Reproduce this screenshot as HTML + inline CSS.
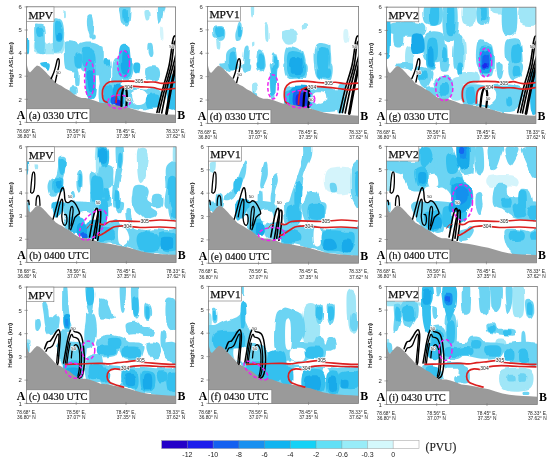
<!DOCTYPE html><html><head><meta charset="utf-8"><style>html,body{margin:0;padding:0;background:#fff;}svg{display:block;}</style></head><body>
<svg width="550" height="460" viewBox="0 0 550 460">
<defs><filter id="bl" x="-5%" y="-5%" width="110%" height="110%" color-interpolation-filters="sRGB"><feTurbulence type="fractalNoise" baseFrequency="0.09 0.035" numOctaves="2" seed="3" result="t"/><feDisplacementMap in="SourceGraphic" in2="t" scale="5" xChannelSelector="R" yChannelSelector="G" result="d"/><feGaussianBlur in="d" stdDeviation="0.5"/></filter>
<clipPath id="cp00"><rect x="26.5" y="6.9" width="149.1" height="115.5"/></clipPath>
<clipPath id="cp01"><rect x="26.9" y="146.8" width="149.2" height="115.6"/></clipPath>
<clipPath id="cp02"><rect x="26.4" y="287.1" width="149.4" height="116.3"/></clipPath>
<clipPath id="cp10"><rect x="207.5" y="6.5" width="151.1" height="116.9"/></clipPath>
<clipPath id="cp11"><rect x="208.4" y="146.5" width="150.2" height="116.7"/></clipPath>
<clipPath id="cp12"><rect x="208.4" y="286.4" width="150.2" height="117"/></clipPath>
<clipPath id="cp20"><rect x="386.5" y="7.2" width="149.4" height="116.2"/></clipPath>
<clipPath id="cp21"><rect x="386.5" y="146.4" width="149.9" height="116.4"/></clipPath>
<clipPath id="cp22"><rect x="386.4" y="286.5" width="150.9" height="118"/></clipPath>
</defs>
<rect width="550" height="460" fill="#fff"/>
<g clip-path="url(#cp00)">
<g filter="url(#bl)">
<path d="M161,28.82C161.34,27 163.16,25.86 163.73,27.45C164.3,29.05 164.75,36.55 164.41,38.36C164.07,40.18 162.25,39.95 161.68,38.36C161.11,36.77 160.66,30.64 161,28.82Z" fill="#d4f4fb"/>
<path d="M35.55,41.09C37.82,39.27 44.64,42 49.18,41.77C53.73,41.55 60.77,38.02 62.82,39.73C64.86,41.43 63.73,49.73 61.45,52C59.18,54.27 53.5,53.25 49.18,53.36C44.86,53.48 37.82,54.73 35.55,52.68C33.27,50.64 33.27,42.91 35.55,41.09Z" fill="#a0e6f7"/>
<path d="M63.5,10.41C63.77,9.39 65.16,9.39 65.55,10.41C65.93,11.43 66.09,15.52 65.82,16.55C65.55,17.57 64.3,17.57 63.91,16.55C63.52,15.52 63.23,11.43 63.5,10.41Z" fill="#a0e6f7"/>
<path d="M144.64,11.09C145.32,9.61 149.18,9.73 150.09,11.09C151,12.45 150.77,17.8 150.09,19.27C149.41,20.75 146.91,21.32 146,19.95C145.09,18.59 143.95,12.57 144.64,11.09Z" fill="#a0e6f7"/>
<path d="M99.64,47.91C100.32,46.09 103.05,47.45 103.73,49.27C104.41,51.09 104.41,57 103.73,58.82C103.05,60.64 100.32,62 99.64,60.18C98.95,58.36 98.95,49.73 99.64,47.91Z" fill="#a0e6f7"/>
<path d="M35.55,26.09C36.16,24.05 37.48,24.73 38.95,24.73C40.43,24.73 43.27,24.5 44.41,26.09C45.55,27.68 45.66,29.84 45.77,34.27C45.89,38.7 46.23,49.61 45.09,52.68C43.95,55.75 40.5,53.48 38.95,52.68C37.41,51.89 36.43,50.52 35.82,47.91C35.2,45.3 35.32,40.64 35.27,37C35.23,33.36 34.93,28.14 35.55,26.09Z" fill="#6cd4f3"/>
<path d="M53.95,19.95C54.68,17.8 56.16,18.36 57.36,18.59C58.57,18.82 60.23,19.39 61.18,21.32C62.14,23.25 62.82,27.11 63.09,30.18C63.36,33.25 63.2,36.77 62.82,39.73C62.43,42.68 61.91,45.75 60.77,47.91C59.64,50.07 57.25,52.68 56,52.68C54.75,52.68 53.77,51.43 53.27,47.91C52.77,44.39 52.89,36.2 53,31.55C53.11,26.89 53.23,22.11 53.95,19.95Z" fill="#6cd4f3"/>
<path d="M87.36,15.18C88.16,12.91 91,12.68 92.14,13.82C93.27,14.95 93.95,18.59 94.18,22C94.41,25.41 94.18,31.89 93.5,34.27C92.82,36.66 91.11,37.45 90.09,36.32C89.07,35.18 87.82,30.98 87.36,27.45C86.91,23.93 86.57,17.45 87.36,15.18Z" fill="#6cd4f3"/>
<path d="M120.09,5.64C121.57,4.05 127.93,4.05 129.64,5.64C131.34,7.23 130.43,12.23 130.32,15.18C130.2,18.14 129.75,21.66 128.95,23.36C128.16,25.07 126.68,25.41 125.55,25.41C124.41,25.41 122.93,25.07 122.14,23.36C121.34,21.66 121.11,18.14 120.77,15.18C120.43,12.23 118.61,7.23 120.09,5.64Z" fill="#6cd4f3"/>
<path d="M157.59,5.64C158.8,4.05 163.5,4.05 164.41,5.64C165.32,7.23 163.61,12.23 163.05,15.18C162.48,18.14 161.8,22.23 161,23.36C160.2,24.5 158.91,23.36 158.27,22C157.64,20.64 157.3,17.91 157.18,15.18C157.07,12.45 156.39,7.23 157.59,5.64Z" fill="#6cd4f3"/>
<path d="M148.73,43.82C149.3,42.23 151.34,42.23 152.14,43.82C152.93,45.41 153.61,51.09 153.5,53.36C153.39,55.64 152.25,57.45 151.45,57.45C150.66,57.45 149.18,55.64 148.73,53.36C148.27,51.09 148.16,45.41 148.73,43.82Z" fill="#6cd4f3"/>
<path d="M105.09,60.18C105.77,58.93 108.27,58.36 109.18,59.5C110.09,60.64 111.23,65.75 110.55,67C109.86,68.25 106,68.14 105.09,67C104.18,65.86 104.41,61.43 105.09,60.18Z" fill="#6cd4f3"/>
<path d="M94.18,63.64C95.32,62.05 101,62.05 102.36,63.64C103.73,65.23 103.5,71.59 102.36,73.18C101.23,74.77 96.91,74.77 95.55,73.18C94.18,71.59 93.05,65.23 94.18,63.64Z" fill="#6cd4f3"/>
<path d="M113.27,63.64C116.34,61.36 129.3,61.36 132.36,63.64C135.43,65.91 133.27,74.66 131.68,77.27C130.09,79.89 125.77,79.32 122.82,79.32C119.86,79.32 115.55,79.89 113.95,77.27C112.36,74.66 110.2,65.91 113.27,63.64Z" fill="#6cd4f3"/>
<path d="M99.64,63.64C101.23,60.45 107.59,60.23 109.18,63.64C110.77,67.05 110.32,80.68 109.18,84.09C108.05,87.5 103.95,84.32 102.36,84.09C100.77,83.86 100.09,86.14 99.64,82.73C99.18,79.32 98.05,66.82 99.64,63.64Z" fill="#6cd4f3"/>
<path d="M99.64,84.09C101.23,80.64 106.23,82.5 109.18,82.73C112.14,82.95 114.18,85 117.36,85.45C120.55,85.91 125.09,85 128.27,85.45C131.45,85.91 133.5,87.5 136.45,88.18C139.41,88.86 142.82,89.43 146,89.55C149.18,89.66 153.05,88.41 155.55,88.86C158.05,89.32 160.32,90.34 161,92.27C161.68,94.2 160.55,98.18 159.64,100.45C158.73,102.73 157.82,104.32 155.55,105.91C153.27,107.5 149.41,109.43 146,110C142.59,110.57 138.05,109.77 135.09,109.32C132.14,108.86 130.55,107.73 128.27,107.27C126,106.82 123.73,106.86 121.45,106.59C119.18,106.32 116.91,106.02 114.64,105.64C112.36,105.25 110.32,104.64 107.82,104.27C105.32,103.91 101,106.82 99.64,103.45C98.27,100.09 98.05,87.55 99.64,84.09Z" fill="#6cd4f3"/>
<path d="M146,67.73C147.82,65.68 156.11,65.91 158.27,67.73C160.43,69.55 160.77,76.59 158.95,78.64C157.14,80.68 149.52,81.82 147.36,80C145.2,78.18 144.18,69.77 146,67.73Z" fill="#6cd4f3"/>
<path d="M64.6,42.8C65.9,40.62 69.63,41.28 71.7,41.5C73.77,41.72 75.68,43.02 77,44.1C78.32,45.18 79.38,45.17 79.6,48C79.82,50.83 78.73,57.18 78.3,61.1C77.87,65.02 78.32,69.77 77,71.5C75.68,73.23 72.37,72.15 70.4,71.5C68.43,70.85 66.28,70.42 65.2,67.6C64.12,64.78 64,58.73 63.9,54.6C63.8,50.47 63.3,44.98 64.6,42.8Z" fill="#6cd4f3"/>
<path d="M79.6,44.1C81.77,42.13 88.92,42.15 92.6,42.8C96.28,43.45 99.85,44.95 101.7,48C103.55,51.05 103.7,56.97 103.7,61.1C103.7,65.23 103.12,70.63 101.7,72.8C100.28,74.97 97.8,74.32 95.2,74.1C92.6,73.88 88.48,72.58 86.1,71.5C83.72,70.42 81.98,70.42 80.9,67.6C79.82,64.78 79.82,58.52 79.6,54.6C79.38,50.68 77.43,46.07 79.6,44.1Z" fill="#6cd4f3"/>
<path d="M112.2,61.1C113.5,55.45 118.7,55.45 120,61.1C121.3,66.75 121.3,89.35 120,95C118.7,100.65 113.5,100.65 112.2,95C110.9,89.35 110.9,66.75 112.2,61.1Z" fill="#6cd4f3"/>
<path d="M70.4,87.2C71.5,85.9 75.9,85.9 77,87.2C78.1,88.5 78.1,93.7 77,95C75.9,96.3 71.5,96.3 70.4,95C69.3,93.7 69.3,88.5 70.4,87.2Z" fill="#6cd4f3"/>
<path d="M75.4,71C75.9,68.77 77.9,68.77 78.4,71C78.9,73.23 78.9,82.17 78.4,84.4C77.9,86.63 75.9,86.63 75.4,84.4C74.9,82.17 74.9,73.23 75.4,71Z" fill="#6cd4f3"/>
<path d="M90,35C90.87,34.35 94.33,34.35 95.2,35C96.07,35.65 96.07,38.25 95.2,38.9C94.33,39.55 90.87,39.55 90,38.9C89.13,38.25 89.13,35.65 90,35Z" fill="#6cd4f3"/>
<path d="M131.68,91.59C133.05,89.32 139.41,89.43 141.91,90.23C144.41,91.02 146.57,94.09 146.68,96.36C146.8,98.64 144.75,102.61 142.59,103.86C140.43,105.11 135.55,105.91 133.73,103.86C131.91,101.82 130.32,93.86 131.68,91.59Z" fill="#ffffff"/>
<path d="M37.59,28.82C38.39,27.68 41.3,27.23 42.36,28.14C43.43,29.05 44.23,32.8 44,34.27C43.77,35.75 42.07,36.89 41,37C39.93,37.11 38.16,36.32 37.59,34.95C37.02,33.59 36.8,29.95 37.59,28.82Z" fill="#34c0ef"/>
<path d="M55.32,22C56,19.95 58.34,20.64 59.41,22C60.48,23.36 61.43,27.23 61.73,30.18C62.02,33.14 61.86,37.8 61.18,39.73C60.5,41.66 58.61,42.68 57.64,41.77C56.66,40.86 55.7,37.57 55.32,34.27C54.93,30.98 54.64,24.05 55.32,22Z" fill="#34c0ef"/>
<path d="M26,39.73C26.34,37.34 27.7,37.45 28.05,39.73C28.39,42 28.39,50.98 28.05,53.36C27.7,55.75 26.34,56.32 26,54.05C25.66,51.77 25.66,42.11 26,39.73Z" fill="#34c0ef"/>
<path d="M123.5,11.09C124.11,9.5 126.91,9.5 127.59,11.09C128.27,12.68 128.2,19.05 127.59,20.64C126.98,22.23 124.59,22.23 123.91,20.64C123.23,19.05 122.89,12.68 123.5,11.09Z" fill="#34c0ef"/>
<path d="M120.09,46.55C121.11,44.27 123.39,43.82 124.86,43.82C126.34,43.82 128.05,44.73 128.95,46.55C129.86,48.36 130.09,51.32 130.32,54.73C130.55,58.14 132.02,64.95 130.32,67C128.61,69.05 122.02,68.59 120.09,67C118.16,65.41 118.73,60.86 118.73,57.45C118.73,54.05 119.07,48.82 120.09,46.55Z" fill="#34c0ef"/>
<path d="M39.64,63.64C41,63.07 47.7,62.5 49.18,63.64C50.66,64.77 49.18,69.55 48.5,70.45C47.82,71.36 46.34,69.66 45.09,69.09C43.84,68.52 41.91,67.95 41,67.05C40.09,66.14 38.27,64.2 39.64,63.64Z" fill="#34c0ef"/>
<path d="M117.36,63.64C119.18,61.59 127.7,61.59 129.64,63.64C131.57,65.68 130.77,73.86 128.95,75.91C127.14,77.95 120.66,77.95 118.73,75.91C116.8,73.86 115.55,65.68 117.36,63.64Z" fill="#34c0ef"/>
<path d="M104.41,86.14C105.55,83.41 110.2,84.43 111.91,85.45C113.61,86.48 114.3,89.55 114.64,92.27C114.98,95 115.55,100.23 113.95,101.82C112.36,103.41 106.68,104.43 105.09,101.82C103.5,99.2 103.27,88.86 104.41,86.14Z" fill="#34c0ef"/>
<path d="M146,96.36C148.05,94.32 156.11,93.41 158.27,95C160.43,96.59 159.86,103.64 158.95,105.91C158.05,108.18 154.98,108.41 152.82,108.64C150.66,108.86 147.14,109.32 146,107.27C144.86,105.23 143.95,98.41 146,96.36Z" fill="#34c0ef"/>
<path d="M133.73,63.64C134.64,62.05 138.95,62.05 139.86,63.64C140.77,65.23 140.09,71.59 139.18,73.18C138.27,74.77 135.32,74.77 134.41,73.18C133.5,71.59 132.82,65.23 133.73,63.64Z" fill="#34c0ef"/>
<path d="M168.5,78.64C169.86,73.86 175.89,73.86 177.36,78.64C178.84,83.41 178.73,102.5 177.36,107.27C176,112.05 170.66,112.05 169.18,107.27C167.7,102.5 167.14,83.41 168.5,78.64Z" fill="#34c0ef"/>
<path d="M75.6,54.6C76.37,52.65 79.92,52.65 80.9,54.6C81.88,56.55 82.27,64.35 81.5,66.3C80.73,68.25 77.28,68.25 76.3,66.3C75.32,64.35 74.83,56.55 75.6,54.6Z" fill="#34c0ef"/>
<path d="M82.2,49.3C83.93,46.7 91.83,47.87 93.9,50.7C95.97,53.53 96.33,63.7 94.6,66.3C92.87,68.9 85.57,69.13 83.5,66.3C81.43,63.47 80.47,51.9 82.2,49.3Z" fill="#34c0ef"/>
<path d="M86.1,61.1C87.42,55.45 93.08,55.45 94.6,61.1C96.12,66.75 96.52,89.35 95.2,95C93.88,100.65 88.22,100.65 86.7,95C85.18,89.35 84.78,66.75 86.1,61.1Z" fill="#34c0ef"/>
<path d="M104.3,59.8C105.18,58.93 108.72,58.93 109.6,59.8C110.48,60.67 110.48,64.13 109.6,65C108.72,65.87 105.18,65.87 104.3,65C103.42,64.13 103.42,60.67 104.3,59.8Z" fill="#34c0ef"/>
<path d="M56.68,33.59C57.23,32.5 59.66,32.61 60.36,33.59C61.07,34.57 61.45,38.36 60.91,39.45C60.36,40.55 57.8,41.11 57.09,40.14C56.39,39.16 56.14,34.68 56.68,33.59Z" fill="#18aaea"/>
<path d="M122.82,52C123.73,49.5 127.36,49.5 128.27,52C129.18,54.5 129.18,64.5 128.27,67C127.36,69.5 123.73,69.5 122.82,67C121.91,64.5 121.91,54.5 122.82,52Z" fill="#18aaea"/>
<path d="M120.09,63.64C121.11,62.05 126.45,62.05 127.59,63.64C128.73,65.23 127.93,71.59 126.91,73.18C125.89,74.77 122.59,74.77 121.45,73.18C120.32,71.59 119.07,65.23 120.09,63.64Z" fill="#18aaea"/>
<path d="M114.64,86.82C116,83.86 121.34,83.86 122.82,86.82C124.3,89.77 124.86,101.59 123.5,104.55C122.14,107.5 116.11,107.5 114.64,104.55C113.16,101.59 113.27,89.77 114.64,86.82Z" fill="#18aaea"/>
<path d="M88,71.5C88.77,68.45 92.42,68.45 93.3,71.5C94.18,74.55 94.07,86.75 93.3,89.8C92.53,92.85 89.58,92.85 88.7,89.8C87.82,86.75 87.23,74.55 88,71.5Z" fill="#18aaea"/>
<path d="M113,96.36C114.18,95.64 117.27,96.32 118.73,97.45C120.18,98.59 121.5,101.73 121.73,103.18C121.95,104.64 121.32,105.82 120.09,106.18C118.86,106.55 115.77,106.09 114.36,105.36C112.95,104.64 111.86,103.32 111.64,101.82C111.41,100.32 111.82,97.09 113,96.36Z" fill="#1466f0"/>
<path d="M116,100.73C116.86,99.86 120.55,99.86 121.45,100.73C122.36,101.59 122.32,105.05 121.45,105.91C120.59,106.77 117.18,106.77 116.27,105.91C115.36,105.05 115.14,101.59 116,100.73Z" fill="#1c2aec"/>
</g>
<path d="M26.5,62.66 L27.3,66.64 L28.49,71.12 L29.98,72.62 L31.97,70.62 L34.45,67.64 L36.94,65.45 L39.42,66.14 L42.4,68.63 L45.98,72.32 L47.67,74.21 L51.75,78.29 L55.13,82.37 L58.51,84.46 L61.29,85.76 L65.27,88.55 L69.34,90.54 L73.42,93.92 L77.49,96.61 L81.57,98.01 L85.64,98.01 L89.72,98.9 L95.09,100.69 L100.55,102.78 L107.31,103.48 L114.07,104.78 L120.93,106.17 L127.69,107.56 L134.45,109.56 L141.21,111.55 L147.97,112.84 L154.73,113.64 L161.58,114.14 L168.34,114.43 L175.6,114.73 L175.6,122.4 L26.5,122.4Z" fill="#9a9a9a"/>
<path d="M51.2,78.6C51.67,77.5 53.2,74.27 54,72C54.8,69.73 55.47,67 56,65C56.53,63 56.82,61.03 57.2,60C57.58,58.97 57.97,58.72 58.3,58.8C58.63,58.88 59.08,59.47 59.2,60.5C59.32,61.53 59.28,63.08 59,65C58.72,66.92 58.12,69.17 57.5,72C56.88,74.83 55.67,80.33 55.3,82" fill="none" stroke="#000" stroke-width="1.4" stroke-linecap="round" stroke-linejoin="round"/>
<path d="M121.45,105.91C121.5,104.32 121.5,98.98 121.73,96.36C121.95,93.75 122.36,91.64 122.82,90.23C123.27,88.82 123.89,88.02 124.45,87.91C125.02,87.8 125.82,88.14 126.23,89.55C126.64,90.95 126.89,93.64 126.91,96.36C126.93,99.09 126.45,104.32 126.36,105.91" fill="none" stroke="#000" stroke-width="2.2" stroke-linecap="round" stroke-linejoin="round"/>
<path d="M156.9,112.5C157.92,108.42 160.95,95.92 163,88C165.05,80.08 167.62,72.67 169.2,65C170.78,57.33 171.7,46.75 172.5,42C173.3,37.25 173.33,37.5 174,36.5C174.67,35.5 176.08,36.08 176.5,36" fill="none" stroke="#000" stroke-width="1.6" stroke-linecap="round" stroke-linejoin="round"/>
<path d="M159,112.5C160,108.42 162.97,95.92 165,88C167.03,80.08 169.7,72.33 171.2,65C172.7,57.67 173.12,48.17 174,44C174.88,39.83 176.08,40.67 176.5,40" fill="none" stroke="#000" stroke-width="1.6" stroke-linecap="round" stroke-linejoin="round"/>
<path d="M161.7,113C162.58,108.83 165.07,96 167,88C168.93,80 171.72,71 173.3,65C174.88,59 175.97,54.17 176.5,52" fill="none" stroke="#000" stroke-width="1.6" stroke-linecap="round" stroke-linejoin="round"/>
<path d="M166.5,113.5C167.25,109.25 169.33,96.58 171,88C172.67,79.42 175.58,66.33 176.5,62" fill="none" stroke="#000" stroke-width="2.8" stroke-linecap="round" stroke-linejoin="round"/>
<path d="M177.36,82.05C174.86,82.27 166,83.41 162.36,83.41C158.73,83.41 158.27,82.27 155.55,82.05C152.82,81.82 149.18,82.16 146,82.05C142.82,81.93 139.41,81.52 136.45,81.36C133.5,81.2 131.45,81.09 128.27,81.09C125.09,81.09 120.55,81.2 117.36,81.36C114.18,81.52 111.45,81.14 109.18,82.05C106.91,82.95 104.86,84.89 103.73,86.82C102.59,88.75 102.36,91.36 102.36,93.64C102.36,95.91 102.82,98.98 103.73,100.45C104.64,101.93 107.14,102.16 107.82,102.5" fill="none" stroke="#dc2020" stroke-width="1.7"/>
<path d="M177.36,88.18C174.86,88.41 166.45,89.66 162.36,89.55C158.27,89.43 156.23,87.95 152.82,87.5C149.41,87.05 145.55,87.05 141.91,86.82C138.27,86.59 134.18,86.14 131,86.14C127.82,86.14 124.86,86.25 122.82,86.82C120.77,87.39 119.75,88.18 118.73,89.55C117.7,90.91 117.14,92.73 116.68,95C116.23,97.27 116.11,101.82 116,103.18" fill="none" stroke="#dc2020" stroke-width="1.7"/>
<ellipse cx="123.5" cy="63.5" rx="6" ry="13" transform="rotate(0 123.5 63.5)" fill="none" stroke="#ee22ee" stroke-width="1.5" stroke-dasharray="3.6 2.2"/>
<ellipse cx="89.4" cy="78.6" rx="4.8" ry="18.4" transform="rotate(0 89.4 78.6)" fill="none" stroke="#ee22ee" stroke-width="1.5" stroke-dasharray="3.6 2.2"/>
<ellipse cx="119" cy="101.8" rx="11.3" ry="6.8" transform="rotate(0 119 101.8)" fill="none" stroke="#ee22ee" stroke-width="1.5" stroke-dasharray="3.6 2.2"/>
<text x="139.2" y="83.3" font-size="5" font-family="Liberation Sans, Arial, sans-serif" fill="#222" stroke="#fff" stroke-width="1.4" paint-order="stroke" text-anchor="middle">305</text>
<text x="128.3" y="89.3" font-size="5" font-family="Liberation Sans, Arial, sans-serif" fill="#222" stroke="#fff" stroke-width="1.4" paint-order="stroke" text-anchor="middle">304</text>
<text x="171.7" y="47.8" font-size="4.2" font-family="Liberation Sans, Arial, sans-serif" fill="#222" stroke="#fff" stroke-width="1.4" paint-order="stroke" text-anchor="middle">50</text>
<text x="58.3" y="74.3" font-size="4.2" font-family="Liberation Sans, Arial, sans-serif" fill="#222" stroke="#fff" stroke-width="1.4" paint-order="stroke" text-anchor="middle">50</text>
<text x="128.5" y="100.8" font-size="4.2" font-family="Liberation Sans, Arial, sans-serif" fill="#222" stroke="#fff" stroke-width="1.4" paint-order="stroke" text-anchor="middle">50</text>
</g>
<rect x="26.5" y="6.9" width="149.1" height="115.5" fill="none" stroke="#777" stroke-width="0.8"/>
<rect x="26.5" y="6.9" width="27.5" height="14.6" fill="#fff" stroke="#777" stroke-width="0.6"/>
<text x="28.4" y="18.6" font-size="11.4" font-family="Liberation Serif, Times New Roman, serif" fill="#111" stroke="#111" stroke-width="0.25">MPV</text>
<rect x="26.5" y="108.8" width="63.4" height="13.6" fill="#fff" stroke="#777" stroke-width="0.6"/>
<text x="28.8" y="118.8" font-size="10.5" font-family="Liberation Serif, Times New Roman, serif" fill="#111" stroke="#111" stroke-width="0.2">(a) 0330 UTC</text>
<text x="25.4" y="119" font-size="11.8" font-weight="bold" font-family="Liberation Serif, Times New Roman, serif" fill="#000" text-anchor="end">A</text>
<text x="177.2" y="119" font-size="11.8" font-weight="bold" font-family="Liberation Serif, Times New Roman, serif" fill="#000">B</text>
<line x1="24.5" y1="122.4" x2="28" y2="122.4" stroke="#777" stroke-width="0.6"/>
<text x="20.2" y="124.6" font-size="6" font-family="Liberation Sans, Arial, sans-serif" fill="#333" text-anchor="middle">1</text>
<line x1="24.5" y1="99.3" x2="28" y2="99.3" stroke="#777" stroke-width="0.6"/>
<text x="20.2" y="101.5" font-size="6" font-family="Liberation Sans, Arial, sans-serif" fill="#333" text-anchor="middle">2</text>
<line x1="24.5" y1="76.2" x2="28" y2="76.2" stroke="#777" stroke-width="0.6"/>
<text x="20.2" y="78.4" font-size="6" font-family="Liberation Sans, Arial, sans-serif" fill="#333" text-anchor="middle">3</text>
<line x1="24.5" y1="53.1" x2="28" y2="53.1" stroke="#777" stroke-width="0.6"/>
<text x="20.2" y="55.3" font-size="6" font-family="Liberation Sans, Arial, sans-serif" fill="#333" text-anchor="middle">4</text>
<line x1="24.5" y1="30" x2="28" y2="30" stroke="#777" stroke-width="0.6"/>
<text x="20.2" y="32.2" font-size="6" font-family="Liberation Sans, Arial, sans-serif" fill="#333" text-anchor="middle">5</text>
<line x1="24.5" y1="6.9" x2="28" y2="6.9" stroke="#777" stroke-width="0.6"/>
<text x="20.2" y="9.1" font-size="6" font-family="Liberation Sans, Arial, sans-serif" fill="#333" text-anchor="middle">6</text>
<text x="0" y="0" font-size="6.2" font-family="Liberation Sans, Arial, sans-serif" fill="#111" stroke="#111" stroke-width="0.1" text-anchor="middle" transform="translate(12.5 64.65) rotate(-90)">Height ASL (km)</text>
<text font-size="4.8" font-family="Liberation Sans, Arial, sans-serif" fill="#222" text-anchor="middle"><tspan x="26.5" y="132.6">78.68° E,</tspan><tspan x="26.5" y="137.8">36.80° N</tspan></text>
<line x1="76.2" y1="120.9" x2="76.2" y2="123.9" stroke="#777" stroke-width="0.6"/>
<text font-size="4.8" font-family="Liberation Sans, Arial, sans-serif" fill="#222" text-anchor="middle"><tspan x="76.2" y="132.6">78.56° E,</tspan><tspan x="76.2" y="137.8">37.07° N</tspan></text>
<line x1="125.9" y1="120.9" x2="125.9" y2="123.9" stroke="#777" stroke-width="0.6"/>
<text font-size="4.8" font-family="Liberation Sans, Arial, sans-serif" fill="#222" text-anchor="middle"><tspan x="125.9" y="132.6">78.45° E,</tspan><tspan x="125.9" y="137.8">37.35° N</tspan></text>
<text font-size="4.8" font-family="Liberation Sans, Arial, sans-serif" fill="#222" text-anchor="middle"><tspan x="175.6" y="132.6">78.33° E,</tspan><tspan x="175.6" y="137.8">37.62° N</tspan></text>
<g clip-path="url(#cp01)">
<g filter="url(#bl)">
<path d="M96.91,144.64C97.93,139.86 101.45,139.86 102.36,144.64C103.27,149.41 103.39,168.5 102.36,173.27C101.34,178.05 97.14,178.05 96.23,173.27C95.32,168.5 95.89,149.41 96.91,144.64Z" fill="#a0e6f7"/>
<path d="M34.86,163.73C35.2,163.05 36.57,163.05 36.91,163.73C37.25,164.41 37.25,167.14 36.91,167.82C36.57,168.5 35.2,168.5 34.86,167.82C34.52,167.14 34.52,164.41 34.86,163.73Z" fill="#a0e6f7"/>
<path d="M137.82,150.09C139.3,147.14 144.18,147.14 146,148.73C147.82,150.32 148.95,154.41 148.73,159.64C148.5,164.86 146.23,176.45 144.64,180.09C143.05,183.73 140.43,183.73 139.18,181.45C137.93,179.18 137.36,171.68 137.14,166.45C136.91,161.23 136.34,153.05 137.82,150.09Z" fill="#a0e6f7"/>
<path d="M173.27,144.64C173.95,141.45 176.68,141.45 177.36,144.64C178.05,147.82 178.05,160.55 177.36,163.73C176.68,166.91 173.95,166.91 173.27,163.73C172.59,160.55 172.59,147.82 173.27,144.64Z" fill="#a0e6f7"/>
<path d="M58.73,156.91C59.98,155.32 64.41,155.32 65.55,156.91C66.68,158.5 66,162.59 65.55,166.45C65.09,170.32 63.95,176.23 62.82,180.09C61.68,183.95 60.09,186.91 58.73,189.64C57.36,192.36 56,195.55 54.64,196.45C53.27,197.36 51.57,196.68 50.55,195.09C49.52,193.5 48.5,189.41 48.5,186.91C48.5,184.41 49.3,181.91 50.55,180.09C51.8,178.27 54.75,178.27 56,176C57.25,173.73 57.59,169.64 58.05,166.45C58.5,163.27 57.48,158.5 58.73,156.91Z" fill="#6cd4f3"/>
<path d="M77.82,171.91C78.73,170.55 81.11,169.86 81.91,171.91C82.7,173.95 82.82,180.77 82.59,184.18C82.36,187.59 81.45,191.45 80.55,192.36C79.64,193.27 77.82,191.68 77.14,189.64C76.45,187.59 76.34,183.05 76.45,180.09C76.57,177.14 76.91,173.27 77.82,171.91Z" fill="#6cd4f3"/>
<path d="M90.09,173.27C91.23,171.23 94.86,173.5 96.91,174.64C98.95,175.77 101.45,174.86 102.36,180.09C103.27,185.32 104.18,201.68 102.36,206C100.55,210.32 93.5,209.18 91.45,206C89.41,202.82 90.32,192.36 90.09,186.91C89.86,181.45 88.95,175.32 90.09,173.27Z" fill="#6cd4f3"/>
<path d="M98.27,144.64C98.95,142.59 101.68,142.59 102.36,144.64C103.05,146.68 103.05,154.86 102.36,156.91C101.68,158.95 98.95,158.95 98.27,156.91C97.59,154.86 97.59,146.68 98.27,144.64Z" fill="#6cd4f3"/>
<path d="M71,192.36C71.23,191.34 73.05,191.45 73.73,192.36C74.41,193.27 75.32,196.8 75.09,197.82C74.86,198.84 73.05,199.41 72.36,198.5C71.68,197.59 70.77,193.39 71,192.36Z" fill="#6cd4f3"/>
<path d="M99.64,166.45C101.68,163.05 109.64,164.64 111.91,166.45C114.18,168.27 113.27,173.95 113.27,177.36C113.27,180.77 114.18,185.32 111.91,186.91C109.64,188.5 101.68,190.32 99.64,186.91C97.59,183.5 97.59,169.86 99.64,166.45Z" fill="#6cd4f3"/>
<path d="M116,144.64C117.14,141 121.45,142.14 122.82,144.64C124.18,147.14 124.41,154.86 124.18,159.64C123.95,164.41 122.36,168.73 121.45,173.27C120.55,177.82 119.41,182.82 118.73,186.91C118.05,191 117.82,194.64 117.36,197.82C116.91,201 116.68,204.64 116,206C115.32,207.36 113.73,208.5 113.27,206C112.82,203.5 113.05,195.32 113.27,191C113.5,186.68 114.18,184.18 114.64,180.09C115.09,176 115.77,172.36 116,166.45C116.23,160.55 114.86,148.27 116,144.64Z" fill="#6cd4f3"/>
<path d="M135.09,185.55C137.14,184.18 142.36,184.64 144.64,185.55C146.91,186.45 148.27,188.5 148.73,191C149.18,193.5 146.68,198.05 147.36,200.55C148.05,203.05 155.09,205.09 152.82,206C150.55,206.91 137.14,208.05 133.73,206C130.32,203.95 132.14,197.14 132.36,193.73C132.59,190.32 133.05,186.91 135.09,185.55Z" fill="#6cd4f3"/>
<path d="M99.64,186.91C101.23,183.73 107.36,183.73 109.18,186.91C111,190.09 112.14,202.82 110.55,206C108.95,209.18 101.45,209.18 99.64,206C97.82,202.82 98.05,190.09 99.64,186.91Z" fill="#6cd4f3"/>
<path d="M166.45,166.45C168.27,162.59 175.55,157.14 177.36,163.73C179.18,170.32 179.41,198.95 177.36,206C175.32,213.05 166.91,209.18 165.09,206C163.27,202.82 166.23,193.5 166.45,186.91C166.68,180.32 164.64,170.32 166.45,166.45Z" fill="#6cd4f3"/>
<path d="M152.82,195.09C154.41,193.27 160.77,193.27 162.36,195.09C163.95,196.91 163.95,204.18 162.36,206C160.77,207.82 154.41,207.82 152.82,206C151.23,204.18 151.23,196.91 152.82,195.09Z" fill="#6cd4f3"/>
<path d="M64.18,202.64C68.73,201.27 86.45,201.27 91.45,202.64C96.45,204 94.18,207.64 94.18,210.82C94.18,214 93.27,218.77 91.45,221.73C89.64,224.68 85.55,226.73 83.27,228.55C81,230.36 80.55,232.41 77.82,232.64C75.09,232.86 69.18,231.27 66.91,229.91C64.64,228.55 64.18,226.5 64.18,224.45C64.18,222.41 66.91,219.91 66.91,217.64C66.91,215.36 64.64,213.32 64.18,210.82C63.73,208.32 59.64,204 64.18,202.64Z" fill="#6cd4f3"/>
<path d="M24.64,202.64C25.55,201.05 29.18,201.05 30.09,202.64C31,204.23 31,210.59 30.09,212.18C29.18,213.77 25.55,213.77 24.64,212.18C23.73,210.59 23.73,204.23 24.64,202.64Z" fill="#6cd4f3"/>
<path d="M116,202.64C116.91,201.05 121.91,201.05 122.82,202.64C123.73,204.23 122.36,210.59 121.45,212.18C120.55,213.77 118.27,213.77 117.36,212.18C116.45,210.59 115.09,204.23 116,202.64Z" fill="#6cd4f3"/>
<path d="M125.55,209.45C126.23,207.41 129.86,207.64 131,209.45C132.14,211.27 133.05,218.32 132.36,220.36C131.68,222.41 128.05,223.55 126.91,221.73C125.77,219.91 124.86,211.5 125.55,209.45Z" fill="#6cd4f3"/>
<path d="M135.09,202.64C137.14,201.27 145.77,201.73 148.73,202.64C151.68,203.55 151.23,206.5 152.82,208.09C154.41,209.68 157.82,210.59 158.27,212.18C158.73,213.77 157.36,216.5 155.55,217.64C153.73,218.77 149.64,219.45 147.36,219C145.09,218.55 143.73,216.27 141.91,214.91C140.09,213.55 137.59,212.86 136.45,210.82C135.32,208.77 133.05,204 135.09,202.64Z" fill="#6cd4f3"/>
<path d="M167.82,202.64C169.18,200.14 175.77,200.14 177.36,202.64C178.95,205.14 178.73,215.14 177.36,217.64C176,220.14 170.77,220.14 169.18,217.64C167.59,215.14 166.45,205.14 167.82,202.64Z" fill="#6cd4f3"/>
<path d="M99.64,225.82C101.23,222.41 106.45,224.23 109.18,223.09C111.91,221.95 113.95,218.77 116,219C118.05,219.23 119.41,223.09 121.45,224.45C123.5,225.82 125.77,226.5 128.27,227.18C130.77,227.86 133.5,228.09 136.45,228.55C139.41,229 142.82,229.8 146,229.91C149.18,230.02 152.14,229.23 155.55,229.23C158.95,229.23 162.82,229.57 166.45,229.91C170.09,230.25 175.55,227.18 177.36,231.27C179.18,235.36 179.64,250.59 177.36,254.45C175.09,258.32 167.36,254.68 163.73,254.45C160.09,254.23 159.18,253.43 155.55,253.09C151.91,252.75 145.55,252.98 141.91,252.41C138.27,251.84 136.45,250.59 133.73,249.68C131,248.77 128.27,247.75 125.55,246.95C122.82,246.16 120.09,245.48 117.36,244.91C114.64,244.34 112.14,243.77 109.18,243.55C106.23,243.32 101.23,246.5 99.64,243.55C98.05,240.59 98.05,229.23 99.64,225.82Z" fill="#6cd4f3"/>
<path d="M80.55,212.18C82.14,210.59 88.5,210.59 90.09,212.18C91.68,213.77 91.68,220.14 90.09,221.73C88.5,223.32 82.14,223.32 80.55,221.73C78.95,220.14 78.95,213.77 80.55,212.18Z" fill="#ffffff"/>
<path d="M118.73,227.18C119.86,225.14 123.95,227.86 125.55,229.91C127.14,231.95 128.5,236.95 128.27,239.45C128.05,241.95 125.77,244.45 124.18,244.91C122.59,245.36 119.64,245.14 118.73,242.18C117.82,239.23 117.59,229.23 118.73,227.18Z" fill="#ffffff"/>
<path d="M24.64,161C25.32,158.73 28.05,158.73 28.73,161C29.41,163.27 29.41,172.36 28.73,174.64C28.05,176.91 25.32,176.91 24.64,174.64C23.95,172.36 23.95,163.27 24.64,161Z" fill="#34c0ef"/>
<path d="M58.73,159.64C59.52,157.36 63.95,157.36 64.86,159.64C65.77,161.91 64.98,171 64.18,173.27C63.39,175.55 61,175.55 60.09,173.27C59.18,171 57.93,161.91 58.73,159.64Z" fill="#34c0ef"/>
<path d="M53.27,178.73C54.86,176.68 61.45,176.68 62.82,178.73C64.18,180.77 63.05,188.95 61.45,191C59.86,193.05 54.64,193.05 53.27,191C51.91,188.95 51.68,180.77 53.27,178.73Z" fill="#34c0ef"/>
<path d="M78.5,176C79.02,174.18 81.18,174.18 81.64,176C82.09,177.82 81.75,185.09 81.23,186.91C80.7,188.73 78.95,188.73 78.5,186.91C78.05,185.09 77.98,177.82 78.5,176Z" fill="#34c0ef"/>
<path d="M92.82,178.73C94.41,175.09 100.77,175.09 102.36,178.73C103.95,182.36 103.95,196.91 102.36,200.55C100.77,204.18 94.41,204.18 92.82,200.55C91.23,196.91 91.23,182.36 92.82,178.73Z" fill="#34c0ef"/>
<path d="M99.64,147.36C101,144.86 106.23,145.77 107.82,147.36C109.41,148.95 109.18,153.95 109.18,156.91C109.18,159.86 108.95,163.5 107.82,165.09C106.68,166.68 103.73,166.91 102.36,166.45C101,166 100.09,165.55 99.64,162.36C99.18,159.18 98.27,149.86 99.64,147.36Z" fill="#34c0ef"/>
<path d="M118.73,154.18C119.45,152.14 122.25,152.14 122.82,154.18C123.39,156.23 122.86,164.41 122.14,166.45C121.41,168.5 119.02,168.5 118.45,166.45C117.89,164.41 118,156.23 118.73,154.18Z" fill="#34c0ef"/>
<path d="M116,191C116.68,188.5 119.41,188.5 120.09,191C120.77,193.5 120.77,203.5 120.09,206C119.41,208.5 116.68,208.5 116,206C115.32,203.5 115.32,193.5 116,191Z" fill="#34c0ef"/>
<path d="M103.73,189.64C104.64,187.82 108.27,187.82 109.18,189.64C110.09,191.45 110.09,198.73 109.18,200.55C108.27,202.36 104.64,202.36 103.73,200.55C102.82,198.73 102.82,191.45 103.73,189.64Z" fill="#34c0ef"/>
<path d="M169.18,180.09C170.55,175.77 176,175.77 177.36,180.09C178.73,184.41 178.73,201.68 177.36,206C176,210.32 170.55,210.32 169.18,206C167.82,201.68 167.82,184.41 169.18,180.09Z" fill="#34c0ef"/>
<path d="M53.27,202.64C55.09,201.05 62.59,201.05 64.18,202.64C65.77,204.23 64.18,209.68 62.82,212.18C61.45,214.68 57.59,217.64 56,217.64C54.41,217.64 53.73,214.68 53.27,212.18C52.82,209.68 51.45,204.23 53.27,202.64Z" fill="#34c0ef"/>
<path d="M69.64,217.64C71.91,215.36 81,215.36 83.27,217.64C85.55,219.91 85.55,229 83.27,231.27C81,233.55 71.91,233.55 69.64,231.27C67.36,229 67.36,219.91 69.64,217.64Z" fill="#34c0ef"/>
<path d="M87.36,221.73C89.86,219 99.86,219 102.36,221.73C104.86,224.45 104.86,235.36 102.36,238.09C99.86,240.82 89.86,240.82 87.36,238.09C84.86,235.36 84.86,224.45 87.36,221.73Z" fill="#34c0ef"/>
<path d="M99.64,202.64C100.77,199.23 105.32,199.23 106.45,202.64C107.59,206.05 107.59,219.68 106.45,223.09C105.32,226.5 100.77,226.5 99.64,223.09C98.5,219.68 98.5,206.05 99.64,202.64Z" fill="#34c0ef"/>
<path d="M170.55,208.09C171.68,206.73 176.23,206.73 177.36,208.09C178.5,209.45 178.5,214.91 177.36,216.27C176.23,217.64 171.68,217.64 170.55,216.27C169.41,214.91 169.41,209.45 170.55,208.09Z" fill="#34c0ef"/>
<path d="M139.18,234C141,231.95 146,231.27 148.73,231.27C151.45,231.27 153.73,232.18 155.55,234C157.36,235.82 159.64,239.45 159.64,242.18C159.64,244.91 158.5,249 155.55,250.36C152.59,251.73 144.86,251.5 141.91,250.36C138.95,249.23 138.27,246.27 137.82,243.55C137.36,240.82 137.36,236.05 139.18,234Z" fill="#34c0ef"/>
<path d="M158.27,234C159.86,231.95 166,231.95 169.18,232.64C172.36,233.32 176,235.14 177.36,238.09C178.73,241.05 179.41,248.09 177.36,250.36C175.32,252.64 168.05,252.64 165.09,251.73C162.14,250.82 160.77,247.86 159.64,244.91C158.5,241.95 156.68,236.05 158.27,234Z" fill="#34c0ef"/>
<path d="M99.64,228.55C101.23,226.27 106.68,226.73 109.18,227.18C111.68,227.64 113.95,229.23 114.64,231.27C115.32,233.32 114.64,237.75 113.27,239.45C111.91,241.16 108.73,241.27 106.45,241.5C104.18,241.73 100.77,242.98 99.64,240.82C98.5,238.66 98.05,230.82 99.64,228.55Z" fill="#34c0ef"/>
<path d="M56,180.77C56.82,179.75 60.39,179.75 61.18,180.77C61.98,181.8 61.59,185.89 60.77,186.91C59.95,187.93 57.07,187.93 56.27,186.91C55.48,185.89 55.18,181.8 56,180.77Z" fill="#18aaea"/>
<path d="M99.64,148.73C100.77,146.45 105.32,146.45 106.45,148.73C107.59,151 107.59,160.09 106.45,162.36C105.32,164.64 100.77,164.64 99.64,162.36C98.5,160.09 98.5,151 99.64,148.73Z" fill="#18aaea"/>
<path d="M77.82,224.45C79.18,222.64 84.64,222.64 86,224.45C87.36,226.27 87.36,233.55 86,235.36C84.64,237.18 79.18,237.18 77.82,235.36C76.45,233.55 76.45,226.27 77.82,224.45Z" fill="#18aaea"/>
<path d="M161,238.09C162.82,236.27 170.09,236.27 171.91,238.09C173.73,239.91 173.73,247.18 171.91,249C170.09,250.82 162.82,250.82 161,249C159.18,247.18 159.18,239.91 161,238.09Z" fill="#18aaea"/>
<path d="M80.55,233.32C81.23,232.3 84.86,231.84 86,232.64C87.14,233.43 88.05,237.07 87.36,238.09C86.68,239.11 83.05,239.57 81.91,238.77C80.77,237.98 79.86,234.34 80.55,233.32Z" fill="#1466f0"/>
</g>
<path d="M26.9,202.61 L27.7,206.59 L28.89,211.08 L30.38,212.57 L32.37,210.58 L34.86,207.59 L37.34,205.4 L39.83,206.09 L42.81,208.59 L46.4,212.27 L48.09,214.17 L52.16,218.25 L55.55,222.34 L58.93,224.43 L61.71,225.73 L65.69,228.52 L69.77,230.51 L73.85,233.9 L77.93,236.59 L82,237.98 L86.08,237.98 L90.16,238.88 L95.53,240.68 L101,242.77 L107.77,243.47 L114.53,244.76 L121.39,246.16 L128.16,247.55 L134.92,249.54 L141.68,251.54 L148.45,252.83 L155.21,253.63 L162.08,254.13 L168.84,254.43 L176.1,254.73 L176.1,262.4 L26.9,262.4Z" fill="#9a9a9a"/>
<path d="M30.6,192.4C30.72,190.88 31,186.35 31.3,183.3C31.6,180.25 32.02,176 32.4,174.1C32.78,172.2 33.22,171.9 33.6,171.9C33.98,171.9 34.5,172.2 34.7,174.1C34.9,176 34.93,180.5 34.8,183.3C34.67,186.1 34.35,189.25 33.9,190.9C33.45,192.55 32.65,192.95 32.1,193.2C31.55,193.45 30.85,192.53 30.6,192.4" fill="none" stroke="#000" stroke-width="1.3" stroke-linecap="round" stroke-linejoin="round"/>
<path d="M35.9,205.4C35.98,204.25 36.07,200.15 36.4,198.5C36.73,196.85 37.4,195.63 37.9,195.5C38.4,195.37 39.05,196.05 39.4,197.7C39.75,199.35 39.9,204.12 40,205.4" fill="none" stroke="#000" stroke-width="1.3" stroke-linecap="round" stroke-linejoin="round"/>
<path d="M27.5,201C27.68,200.92 28.32,199.9 28.6,200.5C28.88,201.1 29.1,203.92 29.2,204.6" fill="none" stroke="#000" stroke-width="1.3" stroke-linecap="round" stroke-linejoin="round"/>
<path d="M53.1,219.1C53.48,217.7 54.63,213.5 55.4,210.7C56.17,207.9 56.93,205.1 57.7,202.3C58.47,199.5 59.32,196.18 60,193.9C60.68,191.62 61.23,189.57 61.8,188.6C62.37,187.63 62.98,187.47 63.4,188.1C63.82,188.73 64.05,190.53 64.3,192.4C64.55,194.27 64.55,197.65 64.9,199.3C65.25,200.95 65.7,201.8 66.4,202.3C67.1,202.8 68.27,202.55 69.1,202.3C69.93,202.05 70.43,200.67 71.4,200.8C72.37,200.93 73.75,201.7 74.9,203.1C76.05,204.5 77.53,207.48 78.3,209.2C79.07,210.92 79.68,212.38 79.5,213.4C79.32,214.42 77.97,214.62 77.2,215.3C76.43,215.98 75.62,216.12 74.9,217.5C74.18,218.88 73.6,221.57 72.9,223.6C72.2,225.63 71.07,228.68 70.7,229.7" fill="none" stroke="#000" stroke-width="1.4" stroke-linecap="round" stroke-linejoin="round"/>
<path d="M57,216.8C57.37,215.02 58.45,209.02 59.2,206.1C59.95,203.18 60.92,200.07 61.5,199.3C62.08,198.53 62.57,199.6 62.7,201.5C62.83,203.4 62.45,208.15 62.3,210.7C62.15,213.25 61.68,214.65 61.8,216.8C61.92,218.95 62.42,222.2 63,223.6C63.58,225 64.65,225.58 65.3,225.2C65.95,224.82 66.72,222.95 66.9,221.3C67.08,219.65 66.78,216.43 66.4,215.3C66.02,214.17 64.9,214.63 64.6,214.5" fill="none" stroke="#000" stroke-width="1.3" stroke-linecap="round" stroke-linejoin="round"/>
<path d="M69.1,229C69.18,226.97 69.33,220.23 69.6,216.8C69.87,213.37 70.27,210.13 70.7,208.4C71.13,206.67 71.8,206.15 72.2,206.4C72.6,206.65 73.1,207.92 73.1,209.9C73.1,211.88 72.55,215.63 72.2,218.3C71.85,220.97 71.2,224.63 71,225.9" fill="none" stroke="#000" stroke-width="1.3" stroke-linecap="round" stroke-linejoin="round"/>
<path d="M89.6,237C89.92,235.27 90.85,230.08 91.5,226.6C92.15,223.12 92.83,218.93 93.5,216.1C94.17,213.27 94.85,210.8 95.5,209.6C96.15,208.4 96.97,207.82 97.4,208.9C97.83,209.98 98.2,212.93 98.1,216.1C98,219.27 97.23,224.2 96.8,227.9C96.37,231.6 95.72,236.57 95.5,238.3" fill="none" stroke="#000" stroke-width="1.6" stroke-linecap="round" stroke-linejoin="round"/>
<path d="M92.8,240.3C93.13,238.45 94.13,232.8 94.8,229.2C95.47,225.6 96.15,221.75 96.8,218.7C97.45,215.65 98.05,212.1 98.7,210.9C99.35,209.7 100.43,209.55 100.7,211.5C100.97,213.45 100.58,219 100.3,222.6C100.02,226.2 99.43,230.15 99,233.1C98.57,236.05 97.92,239.1 97.7,240.3" fill="none" stroke="#000" stroke-width="1.6" stroke-linecap="round" stroke-linejoin="round"/>
<path d="M176.5,221C173.75,220.83 166.08,219.92 160,220C153.92,220.08 146.67,221.37 140,221.5C133.33,221.63 125,220.8 120,220.8C115,220.8 112.47,220.93 110,221.5C107.53,222.07 106.65,223.72 105.2,224.2C103.75,224.68 102.27,224.55 101.3,224.4C100.33,224.25 99.72,223.48 99.4,223.3" fill="none" stroke="#dc2020" stroke-width="1.7"/>
<path d="M176.5,228C173.75,227.83 166.08,227.08 160,227C153.92,226.92 145.83,227.67 140,227.5C134.17,227.33 129,226.17 125,226C121,225.83 118.2,226.18 116,226.5C113.8,226.82 113.8,226.8 111.8,227.9C109.8,229 105.85,231.92 104,233.1C102.15,234.28 101.7,234.68 100.7,235C99.7,235.32 98.45,235 98,235" fill="none" stroke="#dc2020" stroke-width="1.7"/>
<path d="M87,228.5C87.43,227.92 88.63,225.65 89.6,225C90.57,224.35 92.27,224.67 92.8,224.6" fill="none" stroke="#dc2020" stroke-width="1"/>
<ellipse cx="93" cy="225" rx="18" ry="9.5" transform="rotate(-50 93 225)" fill="none" stroke="#ee22ee" stroke-width="1.5" stroke-dasharray="3.6 2.2"/>
<text x="144.6" y="223.3" font-size="5" font-family="Liberation Sans, Arial, sans-serif" fill="#222" stroke="#fff" stroke-width="1.4" paint-order="stroke" text-anchor="middle">305</text>
<text x="127.6" y="228.3" font-size="5" font-family="Liberation Sans, Arial, sans-serif" fill="#222" stroke="#fff" stroke-width="1.4" paint-order="stroke" text-anchor="middle">304</text>
<text x="98" y="204.3" font-size="4.2" font-family="Liberation Sans, Arial, sans-serif" fill="#222" stroke="#fff" stroke-width="1.4" paint-order="stroke" text-anchor="middle">50</text>
<text x="70" y="197.8" font-size="4.2" font-family="Liberation Sans, Arial, sans-serif" fill="#222" stroke="#fff" stroke-width="1.4" paint-order="stroke" text-anchor="middle">50</text>
</g>
<rect x="26.9" y="146.8" width="149.2" height="115.6" fill="none" stroke="#777" stroke-width="0.8"/>
<rect x="26.9" y="146.8" width="27.5" height="14.6" fill="#fff" stroke="#777" stroke-width="0.6"/>
<text x="28.8" y="158.5" font-size="11.4" font-family="Liberation Serif, Times New Roman, serif" fill="#111" stroke="#111" stroke-width="0.25">MPV</text>
<rect x="26.9" y="248.8" width="63.4" height="13.6" fill="#fff" stroke="#777" stroke-width="0.6"/>
<text x="29.2" y="258.8" font-size="10.5" font-family="Liberation Serif, Times New Roman, serif" fill="#111" stroke="#111" stroke-width="0.2">(b) 0400 UTC</text>
<text x="25.8" y="259" font-size="11.8" font-weight="bold" font-family="Liberation Serif, Times New Roman, serif" fill="#000" text-anchor="end">A</text>
<text x="177.7" y="259" font-size="11.8" font-weight="bold" font-family="Liberation Serif, Times New Roman, serif" fill="#000">B</text>
<line x1="24.9" y1="262.4" x2="28.4" y2="262.4" stroke="#777" stroke-width="0.6"/>
<text x="20.6" y="264.6" font-size="6" font-family="Liberation Sans, Arial, sans-serif" fill="#333" text-anchor="middle">1</text>
<line x1="24.9" y1="239.28" x2="28.4" y2="239.28" stroke="#777" stroke-width="0.6"/>
<text x="20.6" y="241.48" font-size="6" font-family="Liberation Sans, Arial, sans-serif" fill="#333" text-anchor="middle">2</text>
<line x1="24.9" y1="216.16" x2="28.4" y2="216.16" stroke="#777" stroke-width="0.6"/>
<text x="20.6" y="218.36" font-size="6" font-family="Liberation Sans, Arial, sans-serif" fill="#333" text-anchor="middle">3</text>
<line x1="24.9" y1="193.04" x2="28.4" y2="193.04" stroke="#777" stroke-width="0.6"/>
<text x="20.6" y="195.24" font-size="6" font-family="Liberation Sans, Arial, sans-serif" fill="#333" text-anchor="middle">4</text>
<line x1="24.9" y1="169.92" x2="28.4" y2="169.92" stroke="#777" stroke-width="0.6"/>
<text x="20.6" y="172.12" font-size="6" font-family="Liberation Sans, Arial, sans-serif" fill="#333" text-anchor="middle">5</text>
<line x1="24.9" y1="146.8" x2="28.4" y2="146.8" stroke="#777" stroke-width="0.6"/>
<text x="20.6" y="149" font-size="6" font-family="Liberation Sans, Arial, sans-serif" fill="#333" text-anchor="middle">6</text>
<text x="0" y="0" font-size="6.2" font-family="Liberation Sans, Arial, sans-serif" fill="#111" stroke="#111" stroke-width="0.1" text-anchor="middle" transform="translate(12.9 204.6) rotate(-90)">Height ASL (km)</text>
<text font-size="4.8" font-family="Liberation Sans, Arial, sans-serif" fill="#222" text-anchor="middle"><tspan x="26.9" y="272.6">78.68° E,</tspan><tspan x="26.9" y="277.8">36.80° N</tspan></text>
<line x1="76.63" y1="260.9" x2="76.63" y2="263.9" stroke="#777" stroke-width="0.6"/>
<text font-size="4.8" font-family="Liberation Sans, Arial, sans-serif" fill="#222" text-anchor="middle"><tspan x="76.63" y="272.6">78.56° E,</tspan><tspan x="76.63" y="277.8">37.07° N</tspan></text>
<line x1="126.37" y1="260.9" x2="126.37" y2="263.9" stroke="#777" stroke-width="0.6"/>
<text font-size="4.8" font-family="Liberation Sans, Arial, sans-serif" fill="#222" text-anchor="middle"><tspan x="126.37" y="272.6">78.45° E,</tspan><tspan x="126.37" y="277.8">37.35° N</tspan></text>
<text font-size="4.8" font-family="Liberation Sans, Arial, sans-serif" fill="#222" text-anchor="middle"><tspan x="176.1" y="272.6">78.33° E,</tspan><tspan x="176.1" y="277.8">37.62° N</tspan></text>
<g clip-path="url(#cp02)">
<g filter="url(#bl)">
<path d="M24.64,338.82C25.55,337.91 29.18,337.91 30.09,338.82C31,339.73 31,343.36 30.09,344.27C29.18,345.18 25.55,345.18 24.64,344.27C23.73,343.36 23.73,339.73 24.64,338.82Z" fill="#a0e6f7"/>
<path d="M42.36,302C42.82,299.95 45.32,300.64 46.45,302C47.59,303.36 48.5,307.45 49.18,310.18C49.86,312.91 49.41,317.68 50.55,318.36C51.68,319.05 54.64,314.27 56,314.27C57.36,314.27 58.5,316.09 58.73,318.36C58.95,320.64 58.27,325.41 57.36,327.91C56.45,330.41 54.86,332.45 53.27,333.36C51.68,334.27 49.18,334.73 47.82,333.36C46.45,332 45.77,328.36 45.09,325.18C44.41,322 44.18,318.14 43.73,314.27C43.27,310.41 41.91,304.05 42.36,302Z" fill="#6cd4f3"/>
<path d="M62.82,285.64C63.61,284.05 66,283.14 66.91,285.64C67.82,288.14 67.82,295.86 68.27,300.64C68.73,305.41 68.95,310.18 69.64,314.27C70.32,318.36 72.14,322.23 72.36,325.18C72.59,328.14 72.14,330.86 71,332C69.86,333.14 66.91,333.82 65.55,332C64.18,330.18 63.39,325.18 62.82,321.09C62.25,317 62.25,311.77 62.14,307.45C62.02,303.14 62.02,298.82 62.14,295.18C62.25,291.55 62.02,287.23 62.82,285.64Z" fill="#6cd4f3"/>
<path d="M35.55,319.73C36.23,317.91 38.73,317.45 39.64,318.36C40.55,319.27 41.23,323.14 41,325.18C40.77,327.23 39.18,329.95 38.27,330.64C37.36,331.32 36,331.09 35.55,329.27C35.09,327.45 34.86,321.55 35.55,319.73Z" fill="#6cd4f3"/>
<path d="M84.64,285.64C85.77,282.68 91.23,283.14 92.82,285.64C94.41,288.14 94.18,296.32 94.18,300.64C94.18,304.95 93.73,309.5 92.82,311.55C91.91,313.59 89.86,314.27 88.73,312.91C87.59,311.55 86.68,307.91 86,303.36C85.32,298.82 83.5,288.59 84.64,285.64Z" fill="#6cd4f3"/>
<path d="M86,314.27C87.59,312.91 92.36,312 94.18,314.27C96,316.55 96.68,323.36 96.91,327.91C97.14,332.45 96.45,338.36 95.55,341.55C94.64,344.73 93.27,346.09 91.45,347C89.64,347.91 86,349.05 84.64,347C83.27,344.95 83.27,338.82 83.27,334.73C83.27,330.64 84.18,325.86 84.64,322.45C85.09,319.05 84.41,315.64 86,314.27Z" fill="#6cd4f3"/>
<path d="M87.36,322.45C88.5,319.27 93.05,319.27 94.18,322.45C95.32,325.64 95.32,338.36 94.18,341.55C93.05,344.73 88.5,344.73 87.36,341.55C86.23,338.36 86.23,325.64 87.36,322.45Z" fill="#6cd4f3"/>
<path d="M60.09,332C61.23,329.5 65.77,329.5 66.91,332C68.05,334.5 68.05,344.5 66.91,347C65.77,349.5 61.23,349.5 60.09,347C58.95,344.5 58.95,334.5 60.09,332Z" fill="#6cd4f3"/>
<path d="M99.64,300.64C100.55,297.68 103.5,298.36 105.09,299.27C106.68,300.18 108.05,303.59 109.18,306.09C110.32,308.59 110.77,312.23 111.91,314.27C113.05,316.32 116,317.45 116,318.36C116,319.27 113.73,319.73 111.91,319.73C110.09,319.73 107.14,318.82 105.09,318.36C103.05,317.91 100.55,319.95 99.64,317C98.73,314.05 98.73,303.59 99.64,300.64Z" fill="#6cd4f3"/>
<path d="M99.64,306.09C101,304.27 106.23,304.27 107.82,306.09C109.41,307.91 110.55,315.18 109.18,317C107.82,318.82 101.23,318.82 99.64,317C98.05,315.18 98.27,307.91 99.64,306.09Z" fill="#6cd4f3"/>
<path d="M120.09,285.64C121,283.14 124.64,283.14 125.55,285.64C126.45,288.14 125.77,296.32 125.55,300.64C125.32,304.95 124.86,309.73 124.18,311.55C123.5,313.36 122.14,313.36 121.45,311.55C120.77,309.73 120.32,304.95 120.09,300.64C119.86,296.32 119.18,288.14 120.09,285.64Z" fill="#6cd4f3"/>
<path d="M132.36,285.64C133.27,282.68 136.8,283.14 137.82,285.64C138.84,288.14 138.27,296.32 138.5,300.64C138.73,304.95 139.52,308.59 139.18,311.55C138.84,314.5 137.36,317.68 136.45,318.36C135.55,319.05 134.41,318.14 133.73,315.64C133.05,313.14 132.59,308.36 132.36,303.36C132.14,298.36 131.45,288.59 132.36,285.64Z" fill="#6cd4f3"/>
<path d="M144.64,304.73C145.55,302.68 148.84,303.36 150.09,304.73C151.34,306.09 152.36,310.41 152.14,312.91C151.91,315.41 149.98,319.05 148.73,319.73C147.48,320.41 145.32,319.5 144.64,317C143.95,314.5 143.73,306.77 144.64,304.73Z" fill="#6cd4f3"/>
<path d="M166.45,300.64C167.7,297.68 171.45,298.14 173.27,299.27C175.09,300.41 176.68,302.68 177.36,307.45C178.05,312.23 178.73,324.5 177.36,327.91C176,331.32 171.11,329.73 169.18,327.91C167.25,326.09 166.23,321.55 165.77,317C165.32,312.45 165.2,303.59 166.45,300.64Z" fill="#6cd4f3"/>
<path d="M167.82,304.73C168.84,301.32 173.5,301.32 174.64,304.73C175.77,308.14 175.66,321.77 174.64,325.18C173.61,328.59 169.64,328.59 168.5,325.18C167.36,321.77 166.8,308.14 167.82,304.73Z" fill="#6cd4f3"/>
<path d="M125.55,322.45C127.25,321.32 132.36,320.41 135.09,321.09C137.82,321.77 138.95,325.41 141.91,326.55C144.86,327.68 150.77,326.55 152.82,327.91C154.86,329.27 155.32,333.36 154.18,334.73C153.05,336.09 149.18,336.32 146,336.09C142.82,335.86 138.27,333.82 135.09,333.36C131.91,332.91 128.61,334.27 126.91,333.36C125.2,332.45 125.09,329.73 124.86,327.91C124.64,326.09 123.84,323.59 125.55,322.45Z" fill="#6cd4f3"/>
<path d="M128.27,325.18C129.41,324.05 133.95,324.05 135.09,325.18C136.23,326.32 136.23,330.86 135.09,332C133.95,333.14 129.41,333.14 128.27,332C127.14,330.86 127.14,326.32 128.27,325.18Z" fill="#6cd4f3"/>
<path d="M141.91,328.59C143.5,327.57 149.86,327.57 151.45,328.59C153.05,329.61 153.05,333.7 151.45,334.73C149.86,335.75 143.5,335.75 141.91,334.73C140.32,333.7 140.32,329.61 141.91,328.59Z" fill="#6cd4f3"/>
<path d="M99.64,337.45C101.23,335.41 106.23,334.95 109.18,334.73C112.14,334.5 114.86,335.41 117.36,336.09C119.86,336.77 121.91,337 124.18,338.82C126.45,340.64 135.09,345.64 131,347C126.91,348.36 104.86,348.59 99.64,347C94.41,345.41 98.05,339.5 99.64,337.45Z" fill="#6cd4f3"/>
<path d="M161,332C161.68,329.5 164.41,329.5 165.09,332C165.77,334.5 165.77,344.5 165.09,347C164.41,349.5 161.68,349.5 161,347C160.32,344.5 160.32,334.5 161,332Z" fill="#6cd4f3"/>
<path d="M57.36,343.64C61.23,340.68 78.73,341.14 83.27,343.64C87.82,346.14 84.64,353.18 84.64,358.64C84.64,364.09 84.41,372.95 83.27,376.36C82.14,379.77 79.86,379.32 77.82,379.09C75.77,378.86 73.27,376.59 71,375C68.73,373.41 66,371.82 64.18,369.55C62.36,367.27 61.23,365.68 60.09,361.36C58.95,357.05 53.5,346.59 57.36,343.64Z" fill="#6cd4f3"/>
<path d="M86,358.64C88.5,354.55 99.64,352.27 102.36,355.91C105.09,359.55 104.86,376.36 102.36,380.45C99.86,384.55 90.09,384.09 87.36,380.45C84.64,376.82 83.5,362.73 86,358.64Z" fill="#6cd4f3"/>
<path d="M24.64,343.64C25.55,342.05 29.18,342.05 30.09,343.64C31,345.23 31,351.59 30.09,353.18C29.18,354.77 25.55,354.77 24.64,353.18C23.73,351.59 23.73,345.23 24.64,343.64Z" fill="#6cd4f3"/>
<path d="M99.64,343.64C102.59,341.59 114.18,342.27 117.36,343.64C120.55,345 119.18,349.77 118.73,351.82C118.27,353.86 116.91,355 114.64,355.91C112.36,356.82 107.59,357.27 105.09,357.27C102.59,357.27 100.55,358.18 99.64,355.91C98.73,353.64 96.68,345.68 99.64,343.64Z" fill="#6cd4f3"/>
<path d="M121.45,343.64C124.64,341.59 138.5,342.05 141.91,343.64C145.32,345.23 142.59,350.45 141.91,353.18C141.23,355.91 140.09,358.86 137.82,360C135.55,361.14 130.77,360.68 128.27,360C125.77,359.32 123.95,358.64 122.82,355.91C121.68,353.18 118.27,345.68 121.45,343.64Z" fill="#6cd4f3"/>
<path d="M146,343.64C147.82,342.05 155.77,342.05 158.27,343.64C160.77,345.23 161.23,350.45 161,353.18C160.77,355.91 158.5,359.09 156.91,360C155.32,360.91 153.05,359.77 151.45,358.64C149.86,357.5 148.27,355.68 147.36,353.18C146.45,350.68 144.18,345.23 146,343.64Z" fill="#6cd4f3"/>
<path d="M162.36,343.64C164.64,342.05 174.86,340.45 177.36,343.64C179.86,346.82 179.18,360 177.36,362.73C175.55,365.45 168.73,361.59 166.45,360C164.18,358.41 164.41,355.91 163.73,353.18C163.05,350.45 160.09,345.23 162.36,343.64Z" fill="#6cd4f3"/>
<path d="M99.64,365.45C102.14,362.39 109.86,365.23 114.64,365.45C119.41,365.68 123.73,366.59 128.27,366.82C132.82,367.05 137.36,366.59 141.91,366.82C146.45,367.05 151,367.95 155.55,368.18C160.09,368.41 165.55,368.18 169.18,368.18C172.82,368.18 176,363.64 177.36,368.18C178.73,372.73 180.32,390.91 177.36,395.45C174.41,400 164.18,395.68 159.64,395.45C155.09,395.23 153.05,394.55 150.09,394.09C147.14,393.64 144.64,393.3 141.91,392.73C139.18,392.16 136.45,391.48 133.73,390.68C131,389.89 128.27,388.75 125.55,387.95C122.82,387.16 120.09,386.48 117.36,385.91C114.64,385.34 112.14,384.89 109.18,384.55C106.23,384.2 101.23,387.05 99.64,383.86C98.05,380.68 97.14,368.52 99.64,365.45Z" fill="#6cd4f3"/>
<path d="M109.18,370.91C111,368.86 118.05,368.18 120.09,369.55C122.14,370.91 121.91,376.36 121.45,379.09C121,381.82 119.41,385.45 117.36,385.91C115.32,386.36 110.55,384.32 109.18,381.82C107.82,379.32 107.36,372.95 109.18,370.91Z" fill="#ffffff"/>
<path d="M86,287C87.37,284.27 92.83,284.27 94.2,287C95.57,289.73 95.57,300.67 94.2,303.4C92.83,306.13 87.37,306.13 86,303.4C84.63,300.67 84.63,289.73 86,287Z" fill="#34c0ef"/>
<path d="M133.45,299.27C134.18,296.77 137.32,296.77 138.09,299.27C138.86,301.77 138.82,311.77 138.09,314.27C137.36,316.77 134.5,316.77 133.73,314.27C132.95,311.77 132.73,301.77 133.45,299.27Z" fill="#34c0ef"/>
<path d="M145.73,307.45C146.41,305.86 149.36,305.86 150.09,307.45C150.82,309.05 150.77,315.41 150.09,317C149.41,318.59 146.73,318.59 146,317C145.27,315.41 145.05,309.05 145.73,307.45Z" fill="#34c0ef"/>
<path d="M109.18,338.82C111,337.45 118.27,337.45 120.09,338.82C121.91,340.18 121.91,345.64 120.09,347C118.27,348.36 111,348.36 109.18,347C107.36,345.64 107.36,340.18 109.18,338.82Z" fill="#34c0ef"/>
<path d="M64.18,362.73C66.91,361.14 77.82,360.23 80.55,362.73C83.27,365.23 83.27,376.14 80.55,377.73C77.82,379.32 66.91,374.77 64.18,372.27C61.45,369.77 61.45,364.32 64.18,362.73Z" fill="#34c0ef"/>
<path d="M90.09,365.45C92.14,363.41 100.32,363.41 102.36,365.45C104.41,367.5 104.41,375.68 102.36,377.73C100.32,379.77 92.14,379.77 90.09,377.73C88.05,375.68 88.05,367.5 90.09,365.45Z" fill="#34c0ef"/>
<path d="M99.64,346.36C102.14,345 112.14,345 114.64,346.36C117.14,347.73 117.14,353.18 114.64,354.55C112.14,355.91 102.14,355.91 99.64,354.55C97.14,353.18 97.14,347.73 99.64,346.36Z" fill="#34c0ef"/>
<path d="M124.18,347.73C126.68,346.14 136.68,346.14 139.18,347.73C141.68,349.32 141.68,355.68 139.18,357.27C136.68,358.86 126.68,358.86 124.18,357.27C121.68,355.68 121.68,349.32 124.18,347.73Z" fill="#34c0ef"/>
<path d="M99.64,369.55C101,367.27 106.23,367.05 107.82,368.18C109.41,369.32 109.41,374.09 109.18,376.36C108.95,378.64 108.05,380.91 106.45,381.82C104.86,382.73 100.77,383.86 99.64,381.82C98.5,379.77 98.27,371.82 99.64,369.55Z" fill="#34c0ef"/>
<path d="M122.82,370.91C124.86,369.32 131,368.86 133.73,369.55C136.45,370.23 138.5,371.82 139.18,375C139.86,378.18 140.32,386.59 137.82,388.64C135.32,390.68 126.91,388.86 124.18,387.27C121.45,385.68 121.68,381.82 121.45,379.09C121.23,376.36 120.77,372.5 122.82,370.91Z" fill="#34c0ef"/>
<path d="M141.91,372.27C143.5,369.32 150.55,371.14 152.82,372.27C155.09,373.41 155.55,376.14 155.55,379.09C155.55,382.05 154.86,388.18 152.82,390C150.77,391.82 145.09,392.95 143.27,390C141.45,387.05 140.32,375.23 141.91,372.27Z" fill="#34c0ef"/>
<path d="M158.27,372.27C159.41,370.68 165.09,370.91 166.45,372.27C167.82,373.64 167.59,378.86 166.45,380.45C165.32,382.05 161,383.18 159.64,381.82C158.27,380.45 157.14,373.86 158.27,372.27Z" fill="#34c0ef"/>
<path d="M167.82,373.64C169.18,370.91 175.77,370.91 177.36,373.64C178.95,376.36 178.73,387.27 177.36,390C176,392.73 170.77,392.73 169.18,390C167.59,387.27 166.45,376.36 167.82,373.64Z" fill="#34c0ef"/>
<path d="M64.18,315.64C65.16,313.59 69.3,313.59 70.32,315.64C71.34,317.68 71.3,325.86 70.32,327.91C69.34,329.95 65.48,329.95 64.45,327.91C63.43,325.86 63.2,317.68 64.18,315.64Z" fill="#18aaea"/>
<path d="M66.91,368.18C68.73,367.5 76,366.82 77.82,368.18C79.64,369.55 79.64,375.68 77.82,376.36C76,377.05 68.73,373.64 66.91,372.27C65.09,370.91 65.09,368.86 66.91,368.18Z" fill="#18aaea"/>
<path d="M125.55,375C127.14,373.18 133.5,373.18 135.09,375C136.68,376.82 136.68,384.09 135.09,385.91C133.5,387.73 127.14,387.73 125.55,385.91C123.95,384.09 123.95,376.82 125.55,375Z" fill="#18aaea"/>
<path d="M144.64,375C145.77,372.73 150.32,372.73 151.45,375C152.59,377.27 152.59,386.36 151.45,388.64C150.32,390.91 145.77,390.91 144.64,388.64C143.5,386.36 143.5,377.27 144.64,375Z" fill="#18aaea"/>
<path d="M65.55,319.73C66.11,318.59 68.39,318.59 68.95,319.73C69.52,320.86 69.52,325.41 68.95,326.55C68.39,327.68 66.11,327.68 65.55,326.55C64.98,325.41 64.98,320.86 65.55,319.73Z" fill="#1490ee"/>
</g>
<path d="M26.4,343.24 L27.2,347.26 L28.39,351.77 L29.89,353.27 L31.88,351.27 L34.37,348.26 L36.86,346.05 L39.35,346.75 L42.34,349.26 L45.92,352.97 L47.61,354.87 L51.7,358.99 L55.08,363.1 L58.47,365.2 L61.26,366.5 L65.24,369.31 L69.33,371.32 L73.41,374.73 L77.49,377.43 L81.58,378.84 L85.66,378.84 L89.75,379.74 L95.12,381.54 L100.6,383.65 L107.37,384.35 L114.15,385.65 L121.02,387.06 L127.79,388.46 L134.57,390.47 L141.34,392.47 L148.11,393.78 L154.88,394.58 L161.76,395.08 L168.53,395.38 L175.8,395.68 L175.8,403.4 L26.4,403.4Z" fill="#9a9a9a"/>
<path d="M44.6,348.7C45.03,347.62 46.23,343.5 47.2,342.2C48.17,340.9 49.42,341.77 50.4,340.9C51.38,340.03 52.12,338.53 53.1,337C54.08,335.47 55.43,332.9 56.3,331.7C57.17,330.5 57.75,329.9 58.3,329.8C58.85,329.7 59.28,329.9 59.6,331.1C59.92,332.3 60.2,334.5 60.2,337C60.2,339.5 59.82,343.28 59.6,346.1C59.38,348.92 59.12,351.28 58.9,353.9C58.68,356.52 58.52,360.05 58.3,361.8C58.08,363.55 57.72,363.97 57.6,364.4" fill="none" stroke="#000" stroke-width="1.5" stroke-linecap="round" stroke-linejoin="round"/>
<path d="M45.9,351.3C46.22,350.77 47.05,348.75 47.8,348.1C48.55,347.45 49.52,347.95 50.4,347.4C51.28,346.85 52.22,346.32 53.1,344.8C53.98,343.28 54.95,340.03 55.7,338.3C56.45,336.57 57.07,334.83 57.6,334.4C58.13,333.97 58.78,333.75 58.9,335.7C59.02,337.65 58.58,342.62 58.3,346.1C58.02,349.58 57.47,353.77 57.2,356.6C56.93,359.43 56.78,362.02 56.7,363.1" fill="none" stroke="#000" stroke-width="1.3" stroke-linecap="round" stroke-linejoin="round"/>
<path d="M63.5,363.1C63.83,361.13 64.85,355 65.5,351.3C66.15,347.6 66.75,343.93 67.4,340.9C68.05,337.87 68.75,335.07 69.4,333.1C70.05,331.13 70.65,329.65 71.3,329.1C71.95,328.55 72.75,329.37 73.3,329.8C73.85,330.23 73.83,331.27 74.6,331.7C75.37,332.13 76.92,331.95 77.9,332.4C78.88,332.85 79.75,333.2 80.5,334.4C81.25,335.6 81.87,337.22 82.4,339.6C82.93,341.98 83.37,345.43 83.7,348.7C84.03,351.97 84.4,355.72 84.4,359.2C84.4,362.68 84.13,366.78 83.7,369.6C83.27,372.42 82.55,374.68 81.8,376.1C81.05,377.52 79.63,377.77 79.2,378.1" fill="none" stroke="#000" stroke-width="1.5" stroke-linecap="round" stroke-linejoin="round"/>
<path d="M65.5,363.1C65.72,361.35 66.27,356.08 66.8,352.6C67.33,349.12 68.05,345.02 68.7,342.2C69.35,339.38 70.15,337 70.7,335.7C71.25,334.4 71.57,334.18 72,334.4C72.43,334.62 72.65,336.47 73.3,337C73.95,337.53 75.03,337.17 75.9,337.6C76.77,338.03 77.73,338.18 78.5,339.6C79.27,341.02 80,343.27 80.5,346.1C81,348.93 81.4,353.12 81.5,356.6C81.6,360.08 81.38,363.97 81.1,367C80.82,370.03 80.33,373.07 79.8,374.8C79.27,376.53 78.22,376.97 77.9,377.4" fill="none" stroke="#000" stroke-width="1.3" stroke-linecap="round" stroke-linejoin="round"/>
<path d="M71.3,357.9C71.42,356.8 71.67,353.05 72,351.3C72.33,349.55 72.77,348.48 73.3,347.4C73.83,346.32 74.55,345.12 75.2,344.8C75.85,344.48 76.53,344.63 77.2,345.5C77.87,346.37 78.77,347.72 79.2,350C79.63,352.28 79.8,355.93 79.8,359.2C79.8,362.47 79.52,366.78 79.2,369.6C78.88,372.42 78.12,375.02 77.9,376.1" fill="none" stroke="#000" stroke-width="1.3" stroke-linecap="round" stroke-linejoin="round"/>
<path d="M66.8,364.4C67.02,362.67 67.57,357.48 68.1,354C68.63,350.52 69.68,345.25 70,343.5" fill="none" stroke="#000" stroke-width="1.3" stroke-linecap="round" stroke-linejoin="round"/>
<path d="M64.8,364.4C67.33,364.33 75.8,364.15 80,364C84.2,363.85 86.5,363.6 90,363.5C93.5,363.4 97.8,363.35 101,363.4C104.2,363.45 106.47,363.92 109.2,363.8C111.93,363.68 114.22,363.07 117.4,362.7C120.58,362.33 125.12,361.93 128.3,361.6C131.48,361.27 133.78,360.55 136.5,360.7C139.22,360.85 141.43,362.05 144.6,362.5C147.77,362.95 151.85,363.13 155.5,363.4C159.15,363.67 162.92,363.93 166.5,364.1C170.08,364.27 175.25,364.35 177,364.4" fill="none" stroke="#dc2020" stroke-width="1.7"/>
<path d="M177,366.8C174.57,366.75 166.43,366.62 162.4,366.5C158.37,366.38 156.22,366.23 152.8,366.1C149.38,365.97 145.08,365.7 141.9,365.7C138.72,365.7 136.2,365.8 133.7,366.1C131.2,366.4 128.93,366.93 126.9,367.5C124.87,368.07 123.55,369.27 121.5,369.5C119.45,369.73 116.65,368.67 114.6,368.9C112.55,369.13 110.45,369.65 109.2,370.9C107.95,372.15 107.1,374.58 107.1,376.4C107.1,378.22 107.95,380.45 109.2,381.8C110.45,383.15 112.55,383.7 114.6,384.5C116.65,385.3 119.9,386.13 121.5,386.6C123.1,387.07 123.75,387.18 124.2,387.3" fill="none" stroke="#dc2020" stroke-width="1.7"/>
<ellipse cx="88.3" cy="350.2" rx="6.5" ry="9.1" transform="rotate(0 88.3 350.2)" fill="none" stroke="#ee22ee" stroke-width="1.5" stroke-dasharray="3.6 2.2"/>
<ellipse cx="73.9" cy="370.5" rx="9.1" ry="7.2" transform="rotate(30 73.9 370.5)" fill="none" stroke="#ee22ee" stroke-width="1.5" stroke-dasharray="3.6 2.2"/>
<text x="140.5" y="362.3" font-size="5" font-family="Liberation Sans, Arial, sans-serif" fill="#222" stroke="#fff" stroke-width="1.4" paint-order="stroke" text-anchor="middle">305</text>
<text x="125" y="369.8" font-size="5" font-family="Liberation Sans, Arial, sans-serif" fill="#222" stroke="#fff" stroke-width="1.4" paint-order="stroke" text-anchor="middle">304</text>
<text x="73.3" y="330.3" font-size="4.2" font-family="Liberation Sans, Arial, sans-serif" fill="#222" stroke="#fff" stroke-width="1.4" paint-order="stroke" text-anchor="middle">50</text>
<text x="73.7" y="349.8" font-size="4.2" font-family="Liberation Sans, Arial, sans-serif" fill="#222" stroke="#fff" stroke-width="1.4" paint-order="stroke" text-anchor="middle">50</text>
</g>
<rect x="26.4" y="287.1" width="149.4" height="116.3" fill="none" stroke="#777" stroke-width="0.8"/>
<rect x="26.4" y="287.1" width="27.5" height="14.6" fill="#fff" stroke="#777" stroke-width="0.6"/>
<text x="28.3" y="298.8" font-size="11.4" font-family="Liberation Serif, Times New Roman, serif" fill="#111" stroke="#111" stroke-width="0.25">MPV</text>
<rect x="26.4" y="389.8" width="63.4" height="13.6" fill="#fff" stroke="#777" stroke-width="0.6"/>
<text x="28.7" y="399.8" font-size="10.5" font-family="Liberation Serif, Times New Roman, serif" fill="#111" stroke="#111" stroke-width="0.2">(c) 0430 UTC</text>
<text x="25.3" y="400" font-size="11.8" font-weight="bold" font-family="Liberation Serif, Times New Roman, serif" fill="#000" text-anchor="end">A</text>
<text x="177.4" y="400" font-size="11.8" font-weight="bold" font-family="Liberation Serif, Times New Roman, serif" fill="#000">B</text>
<line x1="24.4" y1="403.4" x2="27.9" y2="403.4" stroke="#777" stroke-width="0.6"/>
<text x="20.1" y="405.6" font-size="6" font-family="Liberation Sans, Arial, sans-serif" fill="#333" text-anchor="middle">1</text>
<line x1="24.4" y1="380.14" x2="27.9" y2="380.14" stroke="#777" stroke-width="0.6"/>
<text x="20.1" y="382.34" font-size="6" font-family="Liberation Sans, Arial, sans-serif" fill="#333" text-anchor="middle">2</text>
<line x1="24.4" y1="356.88" x2="27.9" y2="356.88" stroke="#777" stroke-width="0.6"/>
<text x="20.1" y="359.08" font-size="6" font-family="Liberation Sans, Arial, sans-serif" fill="#333" text-anchor="middle">3</text>
<line x1="24.4" y1="333.62" x2="27.9" y2="333.62" stroke="#777" stroke-width="0.6"/>
<text x="20.1" y="335.82" font-size="6" font-family="Liberation Sans, Arial, sans-serif" fill="#333" text-anchor="middle">4</text>
<line x1="24.4" y1="310.36" x2="27.9" y2="310.36" stroke="#777" stroke-width="0.6"/>
<text x="20.1" y="312.56" font-size="6" font-family="Liberation Sans, Arial, sans-serif" fill="#333" text-anchor="middle">5</text>
<line x1="24.4" y1="287.1" x2="27.9" y2="287.1" stroke="#777" stroke-width="0.6"/>
<text x="20.1" y="289.3" font-size="6" font-family="Liberation Sans, Arial, sans-serif" fill="#333" text-anchor="middle">6</text>
<text x="0" y="0" font-size="6.2" font-family="Liberation Sans, Arial, sans-serif" fill="#111" stroke="#111" stroke-width="0.1" text-anchor="middle" transform="translate(12.4 345.25) rotate(-90)">Height ASL (km)</text>
<text font-size="4.8" font-family="Liberation Sans, Arial, sans-serif" fill="#222" text-anchor="middle"><tspan x="26.4" y="413.6">78.68° E,</tspan><tspan x="26.4" y="418.8">36.80° N</tspan></text>
<line x1="76.2" y1="401.9" x2="76.2" y2="404.9" stroke="#777" stroke-width="0.6"/>
<text font-size="4.8" font-family="Liberation Sans, Arial, sans-serif" fill="#222" text-anchor="middle"><tspan x="76.2" y="413.6">78.56° E,</tspan><tspan x="76.2" y="418.8">37.07° N</tspan></text>
<line x1="126" y1="401.9" x2="126" y2="404.9" stroke="#777" stroke-width="0.6"/>
<text font-size="4.8" font-family="Liberation Sans, Arial, sans-serif" fill="#222" text-anchor="middle"><tspan x="126" y="413.6">78.45° E,</tspan><tspan x="126" y="418.8">37.35° N</tspan></text>
<text font-size="4.8" font-family="Liberation Sans, Arial, sans-serif" fill="#222" text-anchor="middle"><tspan x="175.8" y="413.6">78.33° E,</tspan><tspan x="175.8" y="418.8">37.62° N</tspan></text>
<g clip-path="url(#cp10)">
<g filter="url(#bl)">
<path d="M343.8,30.49C344.49,28.65 347.25,28.65 347.95,30.49C348.64,32.33 348.64,39.7 347.95,41.55C347.25,43.39 344.49,43.39 343.8,41.55C343.11,39.7 343.11,32.33 343.8,30.49Z" fill="#d4f4fb"/>
<path d="M217.36,38.78C217.71,37.17 219.67,37.4 220.13,38.78C220.59,40.16 220.47,45.46 220.13,47.07C219.78,48.68 218.52,49.84 218.05,48.45C217.59,47.07 217.02,40.39 217.36,38.78Z" fill="#a0e6f7"/>
<path d="M251.91,5.62C252.19,3.66 253.64,3.78 253.98,5.62C254.33,7.46 254.26,14.72 253.98,16.67C253.71,18.63 252.67,19.21 252.32,17.36C251.98,15.52 251.63,7.58 251.91,5.62Z" fill="#a0e6f7"/>
<path d="M265.04,24.96C265.38,22.43 267.22,22.66 267.8,24.96C268.38,27.27 268.84,36.25 268.49,38.78C268.15,41.32 266.3,42.47 265.73,40.16C265.15,37.86 264.69,27.5 265.04,24.96Z" fill="#a0e6f7"/>
<path d="M251.22,40.16C251.63,39.43 253.48,39.47 253.98,40.16C254.49,40.85 254.67,43.57 254.26,44.31C253.84,45.05 252,45.28 251.49,44.59C250.99,43.89 250.8,40.9 251.22,40.16Z" fill="#a0e6f7"/>
<path d="M281.62,31.87C283.23,29.8 292.9,28.88 295.44,30.49C297.97,32.1 298.43,39.47 296.82,41.55C295.21,43.62 288.3,44.54 285.76,42.93C283.23,41.32 280.01,33.95 281.62,31.87Z" fill="#a0e6f7"/>
<path d="M303.04,23.58C303.61,22.66 306.38,22.89 307.18,23.58C307.99,24.27 308.45,26.81 307.87,27.73C307.3,28.65 304.53,29.8 303.73,29.11C302.92,28.42 302.46,24.5 303.04,23.58Z" fill="#a0e6f7"/>
<path d="M251.22,84.35C251.91,82.96 255.59,82.04 256.75,82.96C257.9,83.88 258.82,88.49 258.13,89.87C257.44,91.25 253.75,92.18 252.6,91.25C251.45,90.33 250.53,85.73 251.22,84.35Z" fill="#a0e6f7"/>
<path d="M213.22,27.73C213.91,26.58 215.87,26.58 217.36,26.35C218.86,26.12 220.93,25.88 222.2,26.35C223.47,26.81 224.5,27.5 224.96,29.11C225.42,30.72 225.42,34.29 224.96,36.02C224.5,37.75 223.35,38.9 222.2,39.47C221.05,40.05 219.44,39.82 218.05,39.47C216.67,39.13 214.72,38.44 213.91,37.4C213.1,36.36 213.33,34.87 213.22,33.25C213.1,31.64 212.53,28.88 213.22,27.73Z" fill="#6cd4f3"/>
<path d="M238.78,22.2C239.7,21.28 241.59,21.97 242.24,23.58C242.88,25.19 242.88,29.34 242.65,31.87C242.42,34.41 241.5,37.28 240.85,38.78C240.21,40.28 239.59,40.62 238.78,40.85C237.98,41.08 236.59,41.2 236.02,40.16C235.44,39.13 235.21,36.48 235.33,34.64C235.44,32.79 236.13,31.18 236.71,29.11C237.28,27.04 237.86,23.12 238.78,22.2Z" fill="#6cd4f3"/>
<path d="M226.35,51.22C227.73,49.38 231.53,47.3 233.25,47.07C234.98,46.84 235.9,47.76 236.71,49.84C237.52,51.91 237.75,56.52 238.09,59.51C238.44,62.5 240.74,66.42 238.78,67.8C236.82,69.18 228.65,69.41 226.35,67.8C224.04,66.19 224.96,60.89 224.96,58.13C224.96,55.36 224.96,53.06 226.35,51.22Z" fill="#6cd4f3"/>
<path d="M245,47.07C245.81,45.58 247.88,44.77 248.45,46.38C249.03,47.99 248.68,53.18 248.45,56.75C248.22,60.32 247.88,65.96 247.07,67.8C246.27,69.64 244.19,69.87 243.62,67.8C243.04,65.73 243.39,58.82 243.62,55.36C243.85,51.91 244.19,48.57 245,47.07Z" fill="#6cd4f3"/>
<path d="M258.13,52.6C258.82,49.84 261.12,50.3 262.27,51.22C263.42,52.14 264.58,55.36 265.04,58.13C265.5,60.89 266.19,66.19 265.04,67.8C263.88,69.41 259.28,70.33 258.13,67.8C256.98,65.27 257.44,55.36 258.13,52.6Z" fill="#6cd4f3"/>
<path d="M271.95,53.98C272.64,51.68 275.05,52.6 276.09,53.98C277.13,55.36 277.93,59.97 278.16,62.27C278.39,64.58 278.51,66.88 277.47,67.8C276.44,68.72 272.87,70.1 271.95,67.8C271.02,65.5 271.25,56.28 271.95,53.98Z" fill="#6cd4f3"/>
<path d="M285.76,48.45C287.38,45 292.67,46.38 295.44,47.07C298.2,47.76 300.96,49.15 302.35,52.6C303.73,56.05 306.49,65.27 303.73,67.8C300.96,70.33 288.76,71.02 285.76,67.8C282.77,64.58 284.15,51.91 285.76,48.45Z" fill="#6cd4f3"/>
<path d="M316.16,44.31C318.24,40.28 326.18,42.7 328.6,43.62C331.02,44.54 330.44,45.81 330.67,49.84C330.9,53.87 332.4,64.81 329.98,67.8C327.56,70.79 318.47,71.72 316.16,67.8C313.86,63.88 314.09,48.34 316.16,44.31Z" fill="#6cd4f3"/>
<path d="M220.82,63.62C222.32,62.93 229.57,62.47 231.18,63.62C232.79,64.77 231.3,69.49 230.49,70.53C229.68,71.56 227.73,70.3 226.35,69.84C224.96,69.38 223.12,68.8 222.2,67.76C221.28,66.73 219.32,64.31 220.82,63.62Z" fill="#6cd4f3"/>
<path d="M241.55,63.62C242.47,62.35 247.3,62.47 248.45,63.62C249.61,64.77 249.38,69.26 248.45,70.53C247.53,71.79 244.08,72.37 242.93,71.22C241.78,70.07 240.62,64.88 241.55,63.62Z" fill="#6cd4f3"/>
<path d="M256.75,63.62C257.9,62.35 263.88,62.35 265.04,63.62C266.19,64.88 264.81,69.95 263.65,71.22C262.5,72.48 259.28,72.48 258.13,71.22C256.98,69.95 255.59,64.88 256.75,63.62Z" fill="#6cd4f3"/>
<path d="M269.18,63.62C270.45,62.01 276.32,62.01 277.47,63.62C278.62,65.23 276.44,67.76 276.09,73.29C275.75,78.82 276.09,92.64 275.4,96.78C274.71,100.93 272.87,100.01 271.95,98.16C271.02,96.32 270.22,89.87 269.87,85.73C269.53,81.58 269.99,76.98 269.87,73.29C269.76,69.61 267.92,65.23 269.18,63.62Z" fill="#6cd4f3"/>
<path d="M252.6,91.25C253.06,90.56 255.82,91.14 256.75,91.95C257.67,92.75 258.59,95.4 258.13,96.09C257.67,96.78 254.9,96.9 253.98,96.09C253.06,95.28 252.14,91.95 252.6,91.25Z" fill="#6cd4f3"/>
<path d="M285.07,63.62C288.53,62.24 301.77,61.32 305.11,63.62C308.45,65.92 306.26,74.9 305.11,77.44C303.96,79.97 301.19,78.7 298.2,78.82C295.21,78.93 289.45,79.28 287.15,78.13C284.84,76.98 284.73,74.33 284.38,71.91C284.04,69.49 281.62,65 285.07,63.62Z" fill="#6cd4f3"/>
<path d="M316.16,63.62C318.47,61.55 328.83,61.08 331.36,63.62C333.9,66.15 332.52,76.05 331.36,78.82C330.21,81.58 326.76,80.66 324.45,80.2C322.15,79.74 318.93,78.82 317.55,76.05C316.16,73.29 313.86,65.69 316.16,63.62Z" fill="#6cd4f3"/>
<path d="M285.76,88.49C287.38,85.27 292.67,85.96 296.82,85.73C300.96,85.5 306.95,87.11 310.64,87.11C314.32,87.11 315.47,85.38 318.93,85.73C322.38,86.07 327.45,88.49 331.36,89.18C335.28,89.87 340.35,88.38 342.42,89.87C344.49,91.37 344.03,95.4 343.8,98.16C343.57,100.93 343.57,104.38 341.04,106.45C338.5,108.53 332.52,109.91 328.6,110.6C324.68,111.29 320.54,111.06 317.55,110.6C314.55,110.14 314.09,108.53 310.64,107.84C307.18,107.15 300.73,106.92 296.82,106.45C292.9,105.99 288.99,108.07 287.15,105.07C285.3,102.08 284.15,91.72 285.76,88.49Z" fill="#6cd4f3"/>
<path d="M338.27,85.73C339.42,81.35 344.26,81.58 345.18,85.73C346.1,89.87 344.95,106.22 343.8,110.6C342.65,114.98 339.19,116.13 338.27,111.98C337.35,107.84 337.12,90.1 338.27,85.73Z" fill="#6cd4f3"/>
<path d="M314.78,103.69C316.62,102.19 324.68,101.85 328.6,102.31C332.52,102.77 337.12,104.96 338.27,106.45C339.42,107.95 338.96,110.48 335.51,111.29C332.05,112.1 321,112.56 317.55,111.29C314.09,110.02 312.94,105.19 314.78,103.69Z" fill="#6cd4f3"/>
<path d="M313.4,92.64C315.01,91.14 322.15,90.79 324.45,91.95C326.76,93.1 327.68,97.59 327.22,99.55C326.76,101.5 323.76,103.46 321.69,103.69C319.62,103.92 316.16,102.77 314.78,100.93C313.4,99.08 311.79,94.13 313.4,92.64Z" fill="#ffffff"/>
<path d="M215.57,28.42C216.6,26.97 221.56,26.85 222.89,28C224.23,29.16 224.62,33.88 223.58,35.33C222.55,36.78 218.01,37.86 216.67,36.71C215.34,35.56 214.53,29.87 215.57,28.42Z" fill="#34c0ef"/>
<path d="M238.51,26.35C239.06,24.8 241.08,25.42 241.55,27.04C242.01,28.65 241.82,34.48 241.27,36.02C240.72,37.56 238.69,37.91 238.23,36.29C237.77,34.68 237.95,27.89 238.51,26.35Z" fill="#34c0ef"/>
<path d="M229.11,53.29C230.26,50.87 234.75,50.87 236.02,53.29C237.28,55.71 237.86,65.38 236.71,67.8C235.56,70.22 230.38,70.22 229.11,67.8C227.84,65.38 227.96,55.71 229.11,53.29Z" fill="#34c0ef"/>
<path d="M259.79,56.05C260.48,54.1 263.17,54.1 263.93,56.05C264.69,58.01 265.04,65.84 264.35,67.8C263.65,69.76 260.55,69.76 259.79,67.8C259.03,65.84 259.09,58.01 259.79,56.05Z" fill="#34c0ef"/>
<path d="M273.33,57.44C273.9,55.71 276.21,55.71 276.78,57.44C277.36,59.16 277.36,66.07 276.78,67.8C276.21,69.53 273.9,69.53 273.33,67.8C272.75,66.07 272.75,59.16 273.33,57.44Z" fill="#34c0ef"/>
<path d="M288.53,52.6C290.6,50.18 298.66,50.76 300.96,53.29C303.27,55.82 304.42,65.38 302.35,67.8C300.27,70.22 290.83,70.33 288.53,67.8C286.22,65.27 286.45,55.02 288.53,52.6Z" fill="#34c0ef"/>
<path d="M318.24,48.45C319.96,45.23 326.87,45.23 328.6,48.45C330.33,51.68 330.33,64.58 328.6,67.8C326.87,71.02 319.96,71.02 318.24,67.8C316.51,64.58 316.51,51.68 318.24,48.45Z" fill="#34c0ef"/>
<path d="M258.13,63.62C258.89,62.58 262.16,62.58 262.96,63.62C263.77,64.65 263.72,68.8 262.96,69.84C262.2,70.87 259.21,70.87 258.4,69.84C257.6,68.8 257.37,64.65 258.13,63.62Z" fill="#34c0ef"/>
<path d="M270.56,67.76C271.32,63.62 274.66,63.62 275.4,67.76C276.14,71.91 275.75,88.49 274.99,92.64C274.23,96.78 271.58,96.78 270.84,92.64C270.1,88.49 269.8,71.91 270.56,67.76Z" fill="#34c0ef"/>
<path d="M288.53,63.62C290.95,61.55 301.31,61.55 303.73,63.62C306.15,65.69 305.45,73.98 303.04,76.05C300.62,78.13 291.64,78.13 289.22,76.05C286.8,73.98 286.11,65.69 288.53,63.62Z" fill="#34c0ef"/>
<path d="M318.93,67.76C320.72,66.2 328.19,66.15 329.98,67.76C331.78,69.38 331.5,75.87 329.71,77.44C327.91,79 321,78.77 319.2,77.16C317.41,75.55 317.13,69.33 318.93,67.76Z" fill="#34c0ef"/>
<path d="M285.76,92.64C287.15,90.45 292.33,89.18 294.05,90.56C295.78,91.95 296.59,98.51 296.13,100.93C295.67,103.35 293.02,104.61 291.29,105.07C289.56,105.53 286.68,105.76 285.76,103.69C284.84,101.62 284.38,94.82 285.76,92.64Z" fill="#34c0ef"/>
<path d="M290.6,58.13C292.21,56.52 298.59,56.52 300.27,58.13C301.95,59.74 302.3,66.19 300.69,67.8C299.08,69.41 292.28,69.41 290.6,67.8C288.92,66.19 288.99,59.74 290.6,58.13Z" fill="#18aaea"/>
<path d="M292.67,66.38C294.05,65.23 299.58,65.23 300.96,66.38C302.35,67.53 302.35,72.14 300.96,73.29C299.58,74.44 294.05,74.44 292.67,73.29C291.29,72.14 291.29,67.53 292.67,66.38Z" fill="#18aaea"/>
<path d="M296.82,92.64C298.2,90.56 303.73,90.56 305.11,92.64C306.49,94.71 306.49,103 305.11,105.07C303.73,107.15 298.2,107.15 296.82,105.07C295.44,103 295.44,94.71 296.82,92.64Z" fill="#18aaea"/>
<path d="M292,88C294.83,84.83 306.17,84.83 309,88C311.83,91.17 311.83,103.83 309,107C306.17,110.17 294.83,110.17 292,107C289.17,103.83 289.17,91.17 292,88Z" fill="#18aaea"/>
<path d="M295,91C296.83,88.5 304,88.5 306,91C308,93.5 308.83,103.5 307,106C305.17,108.5 297,108.5 295,106C293,103.5 293.17,93.5 295,91Z" fill="#1466f0"/>
<path d="M297.5,95C298.75,93.17 303.75,93.17 305,95C306.25,96.83 306.25,104.17 305,106C303.75,107.83 298.75,107.83 297.5,106C296.25,104.17 296.25,96.83 297.5,95Z" fill="#1c2aec"/>
</g>
<path d="M207.5,62.93 L208.31,66.97 L209.51,71.5 L211.03,73.01 L213.04,71 L215.56,67.97 L218.08,65.76 L220.6,66.46 L223.62,68.98 L227.24,72.71 L228.96,74.62 L233.09,78.76 L236.51,82.89 L239.94,85 L242.76,86.31 L246.79,89.14 L250.92,91.15 L255.05,94.58 L259.18,97.3 L263.31,98.71 L267.44,98.71 L271.57,99.62 L277.01,101.43 L282.55,103.55 L289.4,104.25 L296.25,105.56 L303.2,106.97 L310.05,108.38 L316.9,110.4 L323.75,112.42 L330.6,113.73 L337.45,114.53 L344.4,115.04 L351.25,115.34 L358.6,115.64 L358.6,123.4 L207.5,123.4Z" fill="#9a9a9a"/>
<path d="M233.3,78.1C233.65,77.08 234.83,74.18 235.4,72C235.97,69.82 236.27,67 236.7,65C237.13,63 237.58,61.03 238,60C238.42,58.97 238.83,58.72 239.2,58.8C239.57,58.88 240.02,59.47 240.2,60.5C240.38,61.53 240.53,62.87 240.3,65C240.07,67.13 239.4,70.42 238.8,73.3C238.2,76.18 237.05,80.8 236.7,82.3" fill="none" stroke="#000" stroke-width="1.4" stroke-linecap="round" stroke-linejoin="round"/>
<path d="M303.45,106.45C303.54,104.84 303.73,99.43 304,96.78C304.28,94.13 304.65,91.95 305.11,90.56C305.57,89.18 306.19,88.61 306.77,88.49C307.34,88.38 308.2,88.49 308.56,89.87C308.93,91.25 309.02,93.9 308.98,96.78C308.93,99.66 308.4,105.42 308.29,107.15" fill="none" stroke="#000" stroke-width="2.2" stroke-linecap="round" stroke-linejoin="round"/>
<path d="M339.7,112.5C340.67,108.42 343.43,95.92 345.5,88C347.57,80.08 350.43,72.67 352.1,65C353.77,57.33 354.68,46.75 355.5,42C356.32,37.25 356.25,37.5 357,36.5C357.75,35.5 359.5,36.08 360,36" fill="none" stroke="#000" stroke-width="1.6" stroke-linecap="round" stroke-linejoin="round"/>
<path d="M342.4,112.5C343.33,108.42 346.03,95.92 348,88C349.97,80.08 352.7,72.33 354.2,65C355.7,57.67 356.03,48.17 357,44C357.97,39.83 359.5,40.67 360,40" fill="none" stroke="#000" stroke-width="1.6" stroke-linecap="round" stroke-linejoin="round"/>
<path d="M345.2,113C346.08,108.83 348.67,96 350.5,88C352.33,80 354.62,71 356.2,65C357.78,59 359.37,54.17 360,52" fill="none" stroke="#000" stroke-width="1.6" stroke-linecap="round" stroke-linejoin="round"/>
<path d="M349.3,113.5C350.08,109.25 352.3,96.58 354,88C355.7,79.42 358.58,66.33 359.5,62" fill="none" stroke="#000" stroke-width="2.8" stroke-linecap="round" stroke-linejoin="round"/>
<path d="M360.38,82.96C357.85,83.08 349.33,83.77 345.18,83.65C341.04,83.54 338.96,82.39 335.51,82.27C332.05,82.16 327.68,82.96 324.45,82.96C321.23,82.96 318.93,82.55 316.16,82.27C313.4,82 311.1,81.47 307.87,81.31C304.65,81.14 299.81,81.03 296.82,81.31C293.82,81.58 291.87,81.77 289.91,82.96C287.95,84.16 285.99,86.19 285.07,88.49C284.15,90.79 284.27,94.48 284.38,96.78C284.5,99.08 284.96,101.16 285.76,102.31C286.57,103.46 288.64,103.46 289.22,103.69" fill="none" stroke="#dc2020" stroke-width="1.7"/>
<path d="M360.38,88.49C358.54,88.72 353.01,89.87 349.33,89.87C345.64,89.87 342.42,88.95 338.27,88.49C334.13,88.03 328.37,87.45 324.45,87.11C320.54,86.76 317.55,86.42 314.78,86.42C312.02,86.42 309.72,86.76 307.87,87.11C306.03,87.45 304.99,87.8 303.73,88.49C302.46,89.18 301.08,89.64 300.27,91.25C299.47,92.87 299.19,95.86 298.89,98.16C298.59,100.47 298.55,103.92 298.48,105.07" fill="none" stroke="#dc2020" stroke-width="1.7"/>
<ellipse cx="273" cy="86.8" rx="5.2" ry="12.1" transform="rotate(0 273 86.8)" fill="none" stroke="#ee22ee" stroke-width="1.5" stroke-dasharray="3.6 2.2"/>
<ellipse cx="300.3" cy="99.2" rx="14.5" ry="8.6" transform="rotate(0 300.3 99.2)" fill="none" stroke="#ee22ee" stroke-width="1.5" stroke-dasharray="3.6 2.2"/>
<text x="328.6" y="84.8" font-size="5" font-family="Liberation Sans, Arial, sans-serif" fill="#222" stroke="#fff" stroke-width="1.4" paint-order="stroke" text-anchor="middle">305</text>
<text x="312" y="89" font-size="5" font-family="Liberation Sans, Arial, sans-serif" fill="#222" stroke="#fff" stroke-width="1.4" paint-order="stroke" text-anchor="middle">304</text>
<text x="354.7" y="47.8" font-size="4.2" font-family="Liberation Sans, Arial, sans-serif" fill="#222" stroke="#fff" stroke-width="1.4" paint-order="stroke" text-anchor="middle">50</text>
<text x="239.5" y="75.8" font-size="4.2" font-family="Liberation Sans, Arial, sans-serif" fill="#222" stroke="#fff" stroke-width="1.4" paint-order="stroke" text-anchor="middle">50</text>
<text x="311.3" y="100.8" font-size="4.2" font-family="Liberation Sans, Arial, sans-serif" fill="#222" stroke="#fff" stroke-width="1.4" paint-order="stroke" text-anchor="middle">50</text>
</g>
<rect x="207.5" y="6.5" width="151.1" height="116.9" fill="none" stroke="#777" stroke-width="0.8"/>
<rect x="207.5" y="6.5" width="33" height="14.6" fill="#fff" stroke="#777" stroke-width="0.6"/>
<text x="209.4" y="18.2" font-size="11.4" font-family="Liberation Serif, Times New Roman, serif" fill="#111" stroke="#111" stroke-width="0.25">MPV1</text>
<rect x="207.5" y="109.8" width="63.4" height="13.6" fill="#fff" stroke="#777" stroke-width="0.6"/>
<text x="209.8" y="119.8" font-size="10.5" font-family="Liberation Serif, Times New Roman, serif" fill="#111" stroke="#111" stroke-width="0.2">(d) 0330 UTC</text>
<text x="206.4" y="120" font-size="11.8" font-weight="bold" font-family="Liberation Serif, Times New Roman, serif" fill="#000" text-anchor="end">A</text>
<text x="360.2" y="120" font-size="11.8" font-weight="bold" font-family="Liberation Serif, Times New Roman, serif" fill="#000">B</text>
<line x1="205.5" y1="123.4" x2="209" y2="123.4" stroke="#777" stroke-width="0.6"/>
<text x="201.2" y="125.6" font-size="6" font-family="Liberation Sans, Arial, sans-serif" fill="#333" text-anchor="middle">1</text>
<line x1="205.5" y1="100.02" x2="209" y2="100.02" stroke="#777" stroke-width="0.6"/>
<text x="201.2" y="102.22" font-size="6" font-family="Liberation Sans, Arial, sans-serif" fill="#333" text-anchor="middle">2</text>
<line x1="205.5" y1="76.64" x2="209" y2="76.64" stroke="#777" stroke-width="0.6"/>
<text x="201.2" y="78.84" font-size="6" font-family="Liberation Sans, Arial, sans-serif" fill="#333" text-anchor="middle">3</text>
<line x1="205.5" y1="53.26" x2="209" y2="53.26" stroke="#777" stroke-width="0.6"/>
<text x="201.2" y="55.46" font-size="6" font-family="Liberation Sans, Arial, sans-serif" fill="#333" text-anchor="middle">4</text>
<line x1="205.5" y1="29.88" x2="209" y2="29.88" stroke="#777" stroke-width="0.6"/>
<text x="201.2" y="32.08" font-size="6" font-family="Liberation Sans, Arial, sans-serif" fill="#333" text-anchor="middle">5</text>
<line x1="205.5" y1="6.5" x2="209" y2="6.5" stroke="#777" stroke-width="0.6"/>
<text x="201.2" y="8.7" font-size="6" font-family="Liberation Sans, Arial, sans-serif" fill="#333" text-anchor="middle">6</text>
<text x="0" y="0" font-size="6.2" font-family="Liberation Sans, Arial, sans-serif" fill="#111" stroke="#111" stroke-width="0.1" text-anchor="middle" transform="translate(193.5 64.95) rotate(-90)">Height ASL (km)</text>
<text font-size="4.8" font-family="Liberation Sans, Arial, sans-serif" fill="#222" text-anchor="middle"><tspan x="207.5" y="133.6">78.68° E,</tspan><tspan x="207.5" y="138.8">36.80° N</tspan></text>
<line x1="257.87" y1="121.9" x2="257.87" y2="124.9" stroke="#777" stroke-width="0.6"/>
<text font-size="4.8" font-family="Liberation Sans, Arial, sans-serif" fill="#222" text-anchor="middle"><tspan x="257.87" y="133.6">78.56° E,</tspan><tspan x="257.87" y="138.8">37.07° N</tspan></text>
<line x1="308.23" y1="121.9" x2="308.23" y2="124.9" stroke="#777" stroke-width="0.6"/>
<text font-size="4.8" font-family="Liberation Sans, Arial, sans-serif" fill="#222" text-anchor="middle"><tspan x="308.23" y="133.6">78.45° E,</tspan><tspan x="308.23" y="138.8">37.35° N</tspan></text>
<text font-size="4.8" font-family="Liberation Sans, Arial, sans-serif" fill="#222" text-anchor="middle"><tspan x="358.6" y="133.6">78.33° E,</tspan><tspan x="358.6" y="138.8">37.62° N</tspan></text>
<g clip-path="url(#cp11)">
<g filter="url(#bl)">
<path d="M327.22,169.49C331.82,165.81 350.25,165.81 354.85,169.49C359.46,173.18 359.46,187.92 354.85,191.6C350.25,195.28 331.82,195.28 327.22,191.6C322.61,187.92 322.61,173.18 327.22,169.49Z" fill="#d4f4fb"/>
<path d="M209.07,162.58C209.99,160.97 214.25,160.05 215.29,161.2C216.33,162.35 215.75,167.65 215.29,169.49C214.83,171.33 213.45,172.02 212.53,172.25C211.61,172.48 210.34,172.48 209.76,170.87C209.19,169.26 208.15,164.19 209.07,162.58Z" fill="#a0e6f7"/>
<path d="M244.31,159.82C245.12,159.13 246.15,160.28 246.38,162.58C246.61,164.88 246.5,169.95 245.69,173.64C244.88,177.32 242.93,181.47 241.55,184.69C240.16,187.92 238.78,190.68 237.4,192.98C236.02,195.28 234.87,197.13 233.25,198.51C231.64,199.89 229.34,201.04 227.73,201.27C226.12,201.5 223.81,201.04 223.58,199.89C223.35,198.74 224.73,196.44 226.35,194.36C227.96,192.29 231.41,190.22 233.25,187.45C235.1,184.69 236.02,181.24 237.4,177.78C238.78,174.33 240.39,169.72 241.55,166.73C242.7,163.73 243.5,160.51 244.31,159.82Z" fill="#6cd4f3"/>
<path d="M265.04,162.58C265.61,162.35 266.65,162.12 267.11,163.96C267.57,165.81 268.15,170.64 267.8,173.64C267.45,176.63 265.96,179.62 265.04,181.93C264.12,184.23 263.08,186.99 262.27,187.45C261.47,187.92 260.32,186.99 260.2,184.69C260.08,182.39 261.01,176.86 261.58,173.64C262.16,170.41 263.08,167.19 263.65,165.35C264.23,163.5 264.46,162.81 265.04,162.58Z" fill="#6cd4f3"/>
<path d="M273.33,176.4C274.25,174.1 276.55,172.72 277.47,173.64C278.39,174.56 279.08,178.93 278.85,181.93C278.62,184.92 276.78,188.38 276.09,191.6C275.4,194.82 275.4,198.74 274.71,201.27C274.02,203.81 272.64,207.26 271.95,206.8C271.25,206.34 270.56,201.73 270.56,198.51C270.56,195.28 271.48,191.14 271.95,187.45C272.41,183.77 272.41,178.7 273.33,176.4Z" fill="#6cd4f3"/>
<path d="M258.13,191.6C258.82,189.07 261.58,189.07 262.27,191.6C262.96,194.13 262.96,204.27 262.27,206.8C261.58,209.33 258.82,209.33 258.13,206.8C257.44,204.27 257.44,194.13 258.13,191.6Z" fill="#6cd4f3"/>
<path d="M215.29,194.36C216.44,192.29 221.05,192.29 222.2,194.36C223.35,196.44 223.35,204.73 222.2,206.8C221.05,208.87 216.44,208.87 215.29,206.8C214.14,204.73 214.14,196.44 215.29,194.36Z" fill="#6cd4f3"/>
<path d="M303.73,144.62C305.11,142.55 309.95,143.01 311.33,144.62C312.71,146.23 312.59,150.84 312.02,154.29C311.44,157.75 309.25,161.66 307.87,165.35C306.49,169.03 304.65,172.72 303.73,176.4C302.81,180.08 303.27,183.31 302.35,187.45C301.42,191.6 299.58,198.05 298.2,201.27C296.82,204.5 295.67,205.88 294.05,206.8C292.44,207.72 288.99,208.87 288.53,206.8C288.07,204.73 290.14,198.51 291.29,194.36C292.44,190.22 294.05,186.07 295.44,181.93C296.82,177.78 298.32,173.64 299.58,169.49C300.85,165.35 302.35,161.2 303.04,157.05C303.73,152.91 302.35,146.69 303.73,144.62Z" fill="#6cd4f3"/>
<path d="M329.98,184.69C330.67,183.31 334.36,183.54 335.51,184.69C336.66,185.84 337.58,190.22 336.89,191.6C336.2,192.98 332.52,194.13 331.36,192.98C330.21,191.83 329.29,186.07 329.98,184.69Z" fill="#6cd4f3"/>
<path d="M307.87,192.98C309.72,190.45 314.32,190.68 316.16,191.6C318.01,192.52 318.24,195.98 318.93,198.51C319.62,201.04 322.61,205.42 320.31,206.8C318.01,208.18 307.18,209.1 305.11,206.8C303.04,204.5 306.03,195.52 307.87,192.98Z" fill="#6cd4f3"/>
<path d="M352.09,166.73C353.7,163.04 359,155.9 360.38,162.58C361.76,169.26 361.76,200.81 360.38,206.8C359,212.79 353.7,202.19 352.09,198.51C350.48,194.82 350.71,189.99 350.71,184.69C350.71,179.39 350.48,170.41 352.09,166.73Z" fill="#6cd4f3"/>
<path d="M205.62,202.62C207.23,201.24 213.68,201.24 215.29,202.62C216.9,204 216.9,209.53 215.29,210.91C213.68,212.29 207.23,212.29 205.62,210.91C204.01,209.53 204.01,204 205.62,202.62Z" fill="#6cd4f3"/>
<path d="M248.45,202.62C252.6,200.08 268.95,201.01 273.33,202.62C277.7,204.23 275.17,209.53 274.71,212.29C274.25,215.05 272.64,217.36 270.56,219.2C268.49,221.04 264.12,221.27 262.27,223.35C260.43,225.42 261.12,230.25 259.51,231.64C257.9,233.02 254.67,232.33 252.6,231.64C250.53,230.95 247.76,229.79 247.07,227.49C246.38,225.19 248.22,221.96 248.45,217.82C248.68,213.67 244.31,205.15 248.45,202.62Z" fill="#6cd4f3"/>
<path d="M266.42,223.35C269.41,220.81 281.39,220.81 284.38,223.35C287.38,225.88 287.38,236.01 284.38,238.55C281.39,241.08 269.41,241.08 266.42,238.55C263.42,236.01 263.42,225.88 266.42,223.35Z" fill="#6cd4f3"/>
<path d="M285.76,202.62C288.53,201.01 298.2,201.01 300.96,202.62C303.73,204.23 302.58,208.84 302.35,212.29C302.12,215.75 301.42,221.04 299.58,223.35C297.74,225.65 293.59,226.11 291.29,226.11C288.99,226.11 286.92,225.65 285.76,223.35C284.61,221.04 284.38,215.75 284.38,212.29C284.38,208.84 283,204.23 285.76,202.62Z" fill="#6cd4f3"/>
<path d="M303.73,202.62C306.95,200.08 320.77,201.01 324.45,202.62C328.14,204.23 326.07,209.3 325.84,212.29C325.61,215.28 325.61,218.97 323.07,220.58C320.54,222.19 313.63,222.42 310.64,221.96C307.64,221.5 306.26,221.04 305.11,217.82C303.96,214.59 300.5,205.15 303.73,202.62Z" fill="#6cd4f3"/>
<path d="M281.62,227.49C283.23,224.27 288.3,225.19 291.29,224.73C294.28,224.27 296.36,224.5 299.58,224.73C302.81,224.96 306.95,225.53 310.64,226.11C314.32,226.68 318.24,227.72 321.69,228.18C325.15,228.64 328.14,228.99 331.36,228.87C334.59,228.76 337.58,227.61 341.04,227.49C344.49,227.38 348.87,227.95 352.09,228.18C355.32,228.41 359,224.38 360.38,228.87C361.76,233.36 362.92,250.75 360.38,255.13C357.85,259.5 349.33,255.36 345.18,255.13C341.04,254.9 338.96,254.16 335.51,253.75C332.05,253.33 327.68,253.22 324.45,252.64C321.23,252.06 318.93,251.14 316.16,250.29C313.4,249.44 310.64,248.33 307.87,247.53C305.11,246.72 302.35,246.03 299.58,245.45C296.82,244.88 294.28,244.3 291.29,244.07C288.3,243.84 283.23,246.84 281.62,244.07C280.01,241.31 280.01,230.72 281.62,227.49Z" fill="#6cd4f3"/>
<path d="M262.27,210.91C263.88,209.3 270.33,209.3 271.95,210.91C273.56,212.52 273.56,218.97 271.95,220.58C270.33,222.19 263.88,222.19 262.27,220.58C260.66,218.97 260.66,212.52 262.27,210.91Z" fill="#ffffff"/>
<path d="M313.4,228.87C314.55,226.11 319.16,226.11 320.31,228.87C321.46,231.64 321.46,242.69 320.31,245.45C319.16,248.22 314.55,248.22 313.4,245.45C312.25,242.69 312.25,231.64 313.4,228.87Z" fill="#ffffff"/>
<path d="M233.95,180.55C235.21,178.36 241.2,177.55 242.24,179.16C243.27,180.78 241.43,188.03 240.16,190.22C238.9,192.41 235.67,193.9 234.64,192.29C233.6,190.68 232.68,182.73 233.95,180.55Z" fill="#34c0ef"/>
<path d="M238.78,199.89C240.62,198.74 246.61,198.74 248.45,199.89C250.3,201.04 251.68,205.65 249.84,206.8C247.99,207.95 239.24,207.95 237.4,206.8C235.56,205.65 236.94,201.04 238.78,199.89Z" fill="#34c0ef"/>
<path d="M295.44,184.69C296.47,181.01 300.16,181.01 300.96,184.69C301.77,188.38 301.31,203.12 300.27,206.8C299.24,210.48 295.55,210.48 294.75,206.8C293.94,203.12 294.4,188.38 295.44,184.69Z" fill="#34c0ef"/>
<path d="M354.85,173.64C355.78,170.18 359.46,170.18 360.38,173.64C361.3,177.09 361.3,190.91 360.38,194.36C359.46,197.82 355.78,197.82 354.85,194.36C353.93,190.91 353.93,177.09 354.85,173.64Z" fill="#34c0ef"/>
<path d="M237.4,202.62C239.24,200.55 246.84,201.01 248.45,202.62C250.07,204.23 248.45,209.3 247.07,212.29C245.69,215.28 241.78,220.12 240.16,220.58C238.55,221.04 237.86,218.05 237.4,215.05C236.94,212.06 235.56,204.69 237.4,202.62Z" fill="#34c0ef"/>
<path d="M252.6,221.96C254.44,220.12 260.2,218.97 262.27,220.58C264.35,222.19 265.5,229.1 265.04,231.64C264.58,234.17 261.81,235.78 259.51,235.78C257.21,235.78 252.37,233.94 251.22,231.64C250.07,229.33 250.76,223.81 252.6,221.96Z" fill="#34c0ef"/>
<path d="M288.53,206.76C290.37,204.23 297.74,204.23 299.58,206.76C301.42,209.3 301.42,219.43 299.58,221.96C297.74,224.5 290.37,224.5 288.53,221.96C286.68,219.43 286.68,209.3 288.53,206.76Z" fill="#34c0ef"/>
<path d="M309.25,205.38C311.56,203.08 320.77,203.08 323.07,205.38C325.38,207.68 325.38,216.9 323.07,219.2C320.77,221.5 311.56,221.5 309.25,219.2C306.95,216.9 306.95,207.68 309.25,205.38Z" fill="#34c0ef"/>
<path d="M321.69,231.64C323.76,229.1 330.21,230.25 334.13,230.25C338.04,230.25 341.73,231.18 345.18,231.64C348.64,232.1 353.24,230.72 354.85,233.02C356.47,235.32 355.78,242.23 354.85,245.45C353.93,248.68 352.09,251.44 349.33,252.36C346.56,253.28 341.96,251.21 338.27,250.98C334.59,250.75 329.98,251.9 327.22,250.98C324.45,250.06 322.61,248.68 321.69,245.45C320.77,242.23 319.62,234.17 321.69,231.64Z" fill="#34c0ef"/>
<path d="M281.62,231.64C283.69,229.79 290.83,229.79 294.05,230.25C297.28,230.72 300.04,232.56 300.96,234.4C301.88,236.24 301.65,239.93 299.58,241.31C297.51,242.69 291.52,242.69 288.53,242.69C285.53,242.69 282.77,243.15 281.62,241.31C280.47,239.47 279.55,233.48 281.62,231.64Z" fill="#34c0ef"/>
<path d="M256.75,224.73C257.9,223.12 262.5,223.12 263.65,224.73C264.81,226.34 264.81,232.79 263.65,234.4C262.5,236.01 257.9,236.01 256.75,234.4C255.59,232.79 255.59,226.34 256.75,224.73Z" fill="#18aaea"/>
<path d="M324.45,239.93C325.84,238.32 330.9,238.55 332.75,239.93C334.59,241.31 336.89,246.61 335.51,248.22C334.13,249.83 326.3,250.98 324.45,249.6C322.61,248.22 323.07,241.54 324.45,239.93Z" fill="#18aaea"/>
<path d="M343.8,239.93C345.18,238.08 350.71,238.08 352.09,239.93C353.47,241.77 353.47,249.14 352.09,250.98C350.71,252.82 345.18,252.82 343.8,250.98C342.42,249.14 342.42,241.77 343.8,239.93Z" fill="#18aaea"/>
</g>
<path d="M208.4,202.84 L209.2,206.86 L210.4,211.39 L211.9,212.9 L213.91,210.89 L216.41,207.87 L218.91,205.65 L221.42,206.36 L224.42,208.87 L228.03,212.6 L229.73,214.51 L233.83,218.63 L237.24,222.76 L240.64,224.87 L243.45,226.18 L247.45,228.99 L251.56,231.01 L255.66,234.43 L259.77,237.14 L263.87,238.55 L267.98,238.55 L272.08,239.46 L277.49,241.27 L283,243.38 L289.81,244.09 L296.62,245.39 L303.53,246.8 L310.34,248.21 L317.14,250.22 L323.95,252.23 L330.76,253.54 L337.57,254.35 L344.48,254.85 L351.29,255.15 L358.6,255.45 L358.6,263.2 L208.4,263.2Z" fill="#9a9a9a"/>
<path d="M211.8,192.4C211.92,190.88 212.2,186.35 212.5,183.3C212.8,180.25 213.22,176 213.6,174.1C213.98,172.2 214.42,171.9 214.8,171.9C215.18,171.9 215.7,172.2 215.9,174.1C216.1,176 216.13,180.5 216,183.3C215.87,186.1 215.55,189.25 215.1,190.9C214.65,192.55 213.85,192.95 213.3,193.2C212.75,193.45 212.05,192.53 211.8,192.4" fill="none" stroke="#000" stroke-width="1.3" stroke-linecap="round" stroke-linejoin="round"/>
<path d="M217.1,205.4C217.18,204.25 217.27,200.15 217.6,198.5C217.93,196.85 218.6,195.63 219.1,195.5C219.6,195.37 220.25,196.05 220.6,197.7C220.95,199.35 221.1,204.12 221.2,205.4" fill="none" stroke="#000" stroke-width="1.3" stroke-linecap="round" stroke-linejoin="round"/>
<path d="M208.7,201C208.88,200.92 209.52,199.9 209.8,200.5C210.08,201.1 210.3,203.92 210.4,204.6" fill="none" stroke="#000" stroke-width="1.3" stroke-linecap="round" stroke-linejoin="round"/>
<path d="M234.3,219.1C234.68,217.7 235.83,213.5 236.6,210.7C237.37,207.9 238.13,205.1 238.9,202.3C239.67,199.5 240.52,196.18 241.2,193.9C241.88,191.62 242.43,189.57 243,188.6C243.57,187.63 244.18,187.47 244.6,188.1C245.02,188.73 245.25,190.53 245.5,192.4C245.75,194.27 245.75,197.65 246.1,199.3C246.45,200.95 246.9,201.8 247.6,202.3C248.3,202.8 249.47,202.55 250.3,202.3C251.13,202.05 251.63,200.67 252.6,200.8C253.57,200.93 254.95,201.7 256.1,203.1C257.25,204.5 258.73,207.48 259.5,209.2C260.27,210.92 260.88,212.38 260.7,213.4C260.52,214.42 259.17,214.62 258.4,215.3C257.63,215.98 256.82,216.12 256.1,217.5C255.38,218.88 254.8,221.57 254.1,223.6C253.4,225.63 252.27,228.68 251.9,229.7" fill="none" stroke="#000" stroke-width="1.4" stroke-linecap="round" stroke-linejoin="round"/>
<path d="M238.2,216.8C238.57,215.02 239.65,209.02 240.4,206.1C241.15,203.18 242.12,200.07 242.7,199.3C243.28,198.53 243.77,199.6 243.9,201.5C244.03,203.4 243.65,208.15 243.5,210.7C243.35,213.25 242.88,214.65 243,216.8C243.12,218.95 243.62,222.2 244.2,223.6C244.78,225 245.85,225.58 246.5,225.2C247.15,224.82 247.92,222.95 248.1,221.3C248.28,219.65 247.98,216.43 247.6,215.3C247.22,214.17 246.1,214.63 245.8,214.5" fill="none" stroke="#000" stroke-width="1.3" stroke-linecap="round" stroke-linejoin="round"/>
<path d="M250.3,229C250.38,226.97 250.53,220.23 250.8,216.8C251.07,213.37 251.47,210.13 251.9,208.4C252.33,206.67 253,206.15 253.4,206.4C253.8,206.65 254.3,207.92 254.3,209.9C254.3,211.88 253.75,215.63 253.4,218.3C253.05,220.97 252.4,224.63 252.2,225.9" fill="none" stroke="#000" stroke-width="1.3" stroke-linecap="round" stroke-linejoin="round"/>
<path d="M270.8,237C271.12,235.27 272.05,230.08 272.7,226.6C273.35,223.12 274.03,218.93 274.7,216.1C275.37,213.27 276.05,210.8 276.7,209.6C277.35,208.4 278.17,207.82 278.6,208.9C279.03,209.98 279.4,212.93 279.3,216.1C279.2,219.27 278.43,224.2 278,227.9C277.57,231.6 276.92,236.57 276.7,238.3" fill="none" stroke="#000" stroke-width="1.6" stroke-linecap="round" stroke-linejoin="round"/>
<path d="M274,240.3C274.33,238.45 275.33,232.8 276,229.2C276.67,225.6 277.35,221.75 278,218.7C278.65,215.65 279.25,212.1 279.9,210.9C280.55,209.7 281.63,209.55 281.9,211.5C282.17,213.45 281.78,219 281.5,222.6C281.22,226.2 280.63,230.15 280.2,233.1C279.77,236.05 279.12,239.1 278.9,240.3" fill="none" stroke="#000" stroke-width="1.6" stroke-linecap="round" stroke-linejoin="round"/>
<path d="M357.7,221C354.95,220.83 347.28,219.92 341.2,220C335.12,220.08 327.87,221.37 321.2,221.5C314.53,221.63 306.2,220.8 301.2,220.8C296.2,220.8 293.67,220.93 291.2,221.5C288.73,222.07 287.85,223.72 286.4,224.2C284.95,224.68 283.47,224.55 282.5,224.4C281.53,224.25 280.92,223.48 280.6,223.3" fill="none" stroke="#dc2020" stroke-width="1.7"/>
<path d="M357.7,228C354.95,227.83 347.28,227.08 341.2,227C335.12,226.92 327.03,227.67 321.2,227.5C315.37,227.33 310.2,226.17 306.2,226C302.2,225.83 299.4,226.18 297.2,226.5C295,226.82 295,226.8 293,227.9C291,229 287.05,231.92 285.2,233.1C283.35,234.28 282.9,234.68 281.9,235C280.9,235.32 279.65,235 279.2,235" fill="none" stroke="#dc2020" stroke-width="1.7"/>
<path d="M268.2,228.5C268.63,227.92 269.83,225.65 270.8,225C271.77,224.35 273.47,224.67 274,224.6" fill="none" stroke="#dc2020" stroke-width="1"/>
<ellipse cx="271.5" cy="234" rx="13" ry="6.5" transform="rotate(-5 271.5 234)" fill="none" stroke="#ee22ee" stroke-width="1.5" stroke-dasharray="3.6 2.2"/>
<text x="325.8" y="223.3" font-size="5" font-family="Liberation Sans, Arial, sans-serif" fill="#222" stroke="#fff" stroke-width="1.4" paint-order="stroke" text-anchor="middle">305</text>
<text x="308.8" y="228.3" font-size="5" font-family="Liberation Sans, Arial, sans-serif" fill="#222" stroke="#fff" stroke-width="1.4" paint-order="stroke" text-anchor="middle">304</text>
<text x="279.2" y="204.3" font-size="4.2" font-family="Liberation Sans, Arial, sans-serif" fill="#222" stroke="#fff" stroke-width="1.4" paint-order="stroke" text-anchor="middle">50</text>
<text x="251.2" y="197.8" font-size="4.2" font-family="Liberation Sans, Arial, sans-serif" fill="#222" stroke="#fff" stroke-width="1.4" paint-order="stroke" text-anchor="middle">50</text>
</g>
<rect x="208.4" y="146.5" width="150.2" height="116.7" fill="none" stroke="#777" stroke-width="0.8"/>
<rect x="208.4" y="146.5" width="33" height="14.6" fill="#fff" stroke="#777" stroke-width="0.6"/>
<text x="210.3" y="158.2" font-size="11.4" font-family="Liberation Serif, Times New Roman, serif" fill="#111" stroke="#111" stroke-width="0.25">MPV1</text>
<rect x="208.4" y="249.6" width="63.4" height="13.6" fill="#fff" stroke="#777" stroke-width="0.6"/>
<text x="210.7" y="259.6" font-size="10.5" font-family="Liberation Serif, Times New Roman, serif" fill="#111" stroke="#111" stroke-width="0.2">(e) 0400 UTC</text>
<text x="207.3" y="259.8" font-size="11.8" font-weight="bold" font-family="Liberation Serif, Times New Roman, serif" fill="#000" text-anchor="end">A</text>
<text x="360.2" y="259.8" font-size="11.8" font-weight="bold" font-family="Liberation Serif, Times New Roman, serif" fill="#000">B</text>
<line x1="206.4" y1="263.2" x2="209.9" y2="263.2" stroke="#777" stroke-width="0.6"/>
<text x="202.1" y="265.4" font-size="6" font-family="Liberation Sans, Arial, sans-serif" fill="#333" text-anchor="middle">1</text>
<line x1="206.4" y1="239.86" x2="209.9" y2="239.86" stroke="#777" stroke-width="0.6"/>
<text x="202.1" y="242.06" font-size="6" font-family="Liberation Sans, Arial, sans-serif" fill="#333" text-anchor="middle">2</text>
<line x1="206.4" y1="216.52" x2="209.9" y2="216.52" stroke="#777" stroke-width="0.6"/>
<text x="202.1" y="218.72" font-size="6" font-family="Liberation Sans, Arial, sans-serif" fill="#333" text-anchor="middle">3</text>
<line x1="206.4" y1="193.18" x2="209.9" y2="193.18" stroke="#777" stroke-width="0.6"/>
<text x="202.1" y="195.38" font-size="6" font-family="Liberation Sans, Arial, sans-serif" fill="#333" text-anchor="middle">4</text>
<line x1="206.4" y1="169.84" x2="209.9" y2="169.84" stroke="#777" stroke-width="0.6"/>
<text x="202.1" y="172.04" font-size="6" font-family="Liberation Sans, Arial, sans-serif" fill="#333" text-anchor="middle">5</text>
<line x1="206.4" y1="146.5" x2="209.9" y2="146.5" stroke="#777" stroke-width="0.6"/>
<text x="202.1" y="148.7" font-size="6" font-family="Liberation Sans, Arial, sans-serif" fill="#333" text-anchor="middle">6</text>
<text x="0" y="0" font-size="6.2" font-family="Liberation Sans, Arial, sans-serif" fill="#111" stroke="#111" stroke-width="0.1" text-anchor="middle" transform="translate(194.4 204.85) rotate(-90)">Height ASL (km)</text>
<text font-size="4.8" font-family="Liberation Sans, Arial, sans-serif" fill="#222" text-anchor="middle"><tspan x="208.4" y="273.4">78.68° E,</tspan><tspan x="208.4" y="278.6">36.80° N</tspan></text>
<line x1="258.47" y1="261.7" x2="258.47" y2="264.7" stroke="#777" stroke-width="0.6"/>
<text font-size="4.8" font-family="Liberation Sans, Arial, sans-serif" fill="#222" text-anchor="middle"><tspan x="258.47" y="273.4">78.56° E,</tspan><tspan x="258.47" y="278.6">37.07° N</tspan></text>
<line x1="308.53" y1="261.7" x2="308.53" y2="264.7" stroke="#777" stroke-width="0.6"/>
<text font-size="4.8" font-family="Liberation Sans, Arial, sans-serif" fill="#222" text-anchor="middle"><tspan x="308.53" y="273.4">78.45° E,</tspan><tspan x="308.53" y="278.6">37.35° N</tspan></text>
<text font-size="4.8" font-family="Liberation Sans, Arial, sans-serif" fill="#222" text-anchor="middle"><tspan x="358.6" y="273.4">78.33° E,</tspan><tspan x="358.6" y="278.6">37.62° N</tspan></text>
<g clip-path="url(#cp12)">
<g filter="url(#bl)">
<path d="M205.62,314.64C206.54,312.33 210.22,312.33 211.15,314.64C212.07,316.94 212.07,326.15 211.15,328.45C210.22,330.76 206.54,330.76 205.62,328.45C204.7,326.15 204.7,316.94 205.62,314.64Z" fill="#a0e6f7"/>
<path d="M292.67,314.64C294.28,311.64 300.73,311.64 302.35,314.64C303.96,317.63 303.96,329.61 302.35,332.6C300.73,335.59 294.28,335.59 292.67,332.6C291.06,329.61 291.06,317.63 292.67,314.64Z" fill="#a0e6f7"/>
<path d="M347.95,293.91C349.1,288.15 354.85,288.15 356.24,293.91C357.62,299.67 357.39,322.7 356.24,328.45C355.08,334.21 350.71,334.21 349.33,328.45C347.95,322.7 346.79,299.67 347.95,293.91Z" fill="#a0e6f7"/>
<path d="M303.73,307.73C306.03,301.51 315.24,301.51 317.55,307.73C319.85,313.95 319.85,338.82 317.55,345.04C315.24,351.25 306.03,351.25 303.73,345.04C301.42,338.82 301.42,313.95 303.73,307.73Z" fill="#a0e6f7"/>
<path d="M212.53,309.11C213.22,307.27 215.87,307.04 216.67,309.11C217.48,311.18 217.71,319.01 217.36,321.55C217.02,324.08 215.41,324.54 214.6,324.31C213.79,324.08 212.87,322.7 212.53,320.16C212.18,317.63 211.84,310.95 212.53,309.11Z" fill="#6cd4f3"/>
<path d="M205.62,328.45C207.23,324.77 212.3,326.84 215.29,325.69C218.28,324.54 220.82,322.7 223.58,321.55C226.35,320.39 229.34,319.93 231.87,318.78C234.41,317.63 237.17,316.71 238.78,314.64C240.39,312.56 240.62,307.5 241.55,306.35C242.47,305.19 243.62,305.65 244.31,307.73C245,309.8 245,315.79 245.69,318.78C246.38,321.78 247.53,323.39 248.45,325.69C249.38,327.99 251.22,329.84 251.22,332.6C251.22,335.36 250.07,339.74 248.45,342.27C246.84,344.81 248.68,346.88 241.55,347.8C234.41,348.72 211.61,351.02 205.62,347.8C199.63,344.58 204.01,332.14 205.62,328.45Z" fill="#6cd4f3"/>
<path d="M241.55,285.62C241.89,284.24 243.27,284.24 243.62,285.62C243.96,287 243.96,292.53 243.62,293.91C243.27,295.29 241.89,295.29 241.55,293.91C241.2,292.53 241.2,287 241.55,285.62Z" fill="#6cd4f3"/>
<path d="M276.09,314.64C277.7,308.88 283,307.73 284.38,313.25C285.76,318.78 285.99,342.04 284.38,347.8C282.77,353.56 276.09,353.33 274.71,347.8C273.33,342.27 274.48,320.39 276.09,314.64Z" fill="#6cd4f3"/>
<path d="M281.62,310.49C283.69,304.27 290.83,309.8 294.05,310.49C297.28,311.18 299.35,312.56 300.96,314.64C302.58,316.71 303.27,319.7 303.73,322.93C304.19,326.15 304.42,330.76 303.73,333.98C303.04,337.21 300.73,339.97 299.58,342.27C298.43,344.58 299.81,346.88 296.82,347.8C293.82,348.72 284.15,354.02 281.62,347.8C279.08,341.58 279.55,316.71 281.62,310.49Z" fill="#6cd4f3"/>
<path d="M316.16,304.96C317.32,303.35 321.23,303.35 322.38,304.96C323.53,306.58 323.19,311.64 323.07,314.64C322.96,317.63 322.61,321.55 321.69,322.93C320.77,324.31 318.58,324.31 317.55,322.93C316.51,321.55 315.7,317.63 315.47,314.64C315.24,311.64 315.01,306.58 316.16,304.96Z" fill="#6cd4f3"/>
<path d="M327.22,304.96C328.37,303.35 332.86,303.35 334.13,304.96C335.39,306.58 335.05,311.64 334.82,314.64C334.59,317.63 333.78,321.55 332.75,322.93C331.71,324.31 329.52,324.31 328.6,322.93C327.68,321.55 327.45,317.63 327.22,314.64C326.99,311.64 326.07,306.58 327.22,304.96Z" fill="#6cd4f3"/>
<path d="M350.71,314.64C351.63,312.33 355.32,312.33 356.24,314.64C357.16,316.94 357.16,326.15 356.24,328.45C355.32,330.76 351.63,330.76 350.71,328.45C349.79,326.15 349.79,316.94 350.71,314.64Z" fill="#6cd4f3"/>
<path d="M316.16,338.13C317.55,336.52 321.69,336.52 323.07,338.13C324.45,339.74 325.84,346.19 324.45,347.8C323.07,349.41 316.16,349.41 314.78,347.8C313.4,346.19 314.78,339.74 316.16,338.13Z" fill="#6cd4f3"/>
<path d="M328.6,338.13C329.75,336.52 332.98,336.52 334.13,338.13C335.28,339.74 336.66,346.19 335.51,347.8C334.36,349.41 328.37,349.41 327.22,347.8C326.07,346.19 327.45,339.74 328.6,338.13Z" fill="#6cd4f3"/>
<path d="M205.62,343.62C207.23,342.24 213.68,342.24 215.29,343.62C216.9,345 216.9,350.53 215.29,351.91C213.68,353.29 207.23,353.29 205.62,351.91C204.01,350.53 204.01,345 205.62,343.62Z" fill="#6cd4f3"/>
<path d="M226.35,343.62C231.64,342.01 252.6,342.24 259.51,343.62C266.42,345 263.65,350.99 267.8,351.91C271.95,352.83 281.62,344.08 284.38,349.15C287.15,354.21 286.92,377.24 284.38,382.31C281.85,387.38 272.87,380.24 269.18,379.55C265.5,378.85 265.04,378.62 262.27,378.16C259.51,377.7 255.82,378.62 252.6,376.78C249.38,374.94 245.92,369.87 242.93,367.11C239.93,364.35 237.17,362.5 234.64,360.2C232.1,357.9 229.11,356.05 227.73,353.29C226.35,350.53 221.05,345.23 226.35,343.62Z" fill="#6cd4f3"/>
<path d="M281.62,343.62C288.76,340.85 317.08,342.01 324.45,343.62C331.82,345.23 326.3,350.53 325.84,353.29C325.38,356.05 324.22,359.28 321.69,360.2C319.16,361.12 313.63,358.59 310.64,358.82C307.64,359.05 307.18,361.12 303.73,361.58C300.27,362.04 293.59,361.81 289.91,361.58C286.22,361.35 283,363.19 281.62,360.2C280.24,357.21 274.48,346.38 281.62,343.62Z" fill="#6cd4f3"/>
<path d="M325.84,343.62C326.99,342.7 331.59,342.7 332.75,343.62C333.9,344.54 333.9,348.22 332.75,349.15C331.59,350.07 326.99,350.07 325.84,349.15C324.68,348.22 324.68,344.54 325.84,343.62Z" fill="#6cd4f3"/>
<path d="M281.62,365.73C284.15,362.62 291.98,365.5 296.82,365.73C301.65,365.96 306.03,366.88 310.64,367.11C315.24,367.34 319.85,366.99 324.45,367.11C329.06,367.22 332.28,367.57 338.27,367.8C344.26,368.03 356.7,363.77 360.38,368.49C364.07,373.21 363.38,391.52 360.38,396.13C357.39,400.73 347.02,396.36 342.42,396.13C337.81,395.9 335.74,395.21 332.75,394.75C329.75,394.28 327.22,393.94 324.45,393.36C321.69,392.79 318.93,392.1 316.16,391.29C313.4,390.48 310.64,389.33 307.87,388.53C305.11,387.72 302.35,387.03 299.58,386.45C296.82,385.88 294.28,385.42 291.29,385.07C288.3,384.73 283.23,387.61 281.62,384.38C280.01,381.16 279.08,368.84 281.62,365.73Z" fill="#6cd4f3"/>
<path d="M285.76,321.55C286.68,317.17 290.37,317.17 291.29,321.55C292.21,325.92 292.21,343.42 291.29,347.8C290.37,352.18 286.68,352.18 285.76,347.8C284.84,343.42 284.84,325.92 285.76,321.55Z" fill="#ffffff"/>
<path d="M234.64,347.76C236.48,345.69 243.85,345.46 245.69,347.76C247.53,350.07 247.53,359.51 245.69,361.58C243.85,363.65 236.48,362.5 234.64,360.2C232.79,357.9 232.79,349.84 234.64,347.76Z" fill="#ffffff"/>
<path d="M291.29,349.15C293.36,347.3 301.65,347.3 303.73,349.15C305.8,350.99 305.8,358.36 303.73,360.2C301.65,362.04 293.36,362.04 291.29,360.2C289.22,358.36 289.22,350.99 291.29,349.15Z" fill="#ffffff"/>
<path d="M291.29,369.87C293.36,367.57 301.65,367.34 303.73,369.87C305.8,372.41 305.8,382.77 303.73,385.07C301.65,387.38 293.36,386.22 291.29,383.69C289.22,381.16 289.22,372.18 291.29,369.87Z" fill="#ffffff"/>
<path d="M323.07,368.49C323.99,366.65 327.68,366.65 328.6,368.49C329.52,370.33 329.52,377.7 328.6,379.55C327.68,381.39 323.99,381.39 323.07,379.55C322.15,377.7 322.15,370.33 323.07,368.49Z" fill="#ffffff"/>
<path d="M213.22,311.87C213.68,310.38 215.87,310.49 216.4,311.87C216.93,313.25 216.86,318.67 216.4,320.16C215.94,321.66 214.16,322.24 213.63,320.85C213.1,319.47 212.76,313.37 213.22,311.87Z" fill="#34c0ef"/>
<path d="M215.29,332.6C219.9,330.07 238.32,330.07 242.93,332.6C247.53,335.13 247.53,345.27 242.93,347.8C238.32,350.33 219.9,350.33 215.29,347.8C210.68,345.27 210.68,335.13 215.29,332.6Z" fill="#34c0ef"/>
<path d="M240.2,303.6C241.12,299.92 244.78,299.92 245.7,303.6C246.62,307.28 246.62,322.02 245.7,325.7C244.78,329.38 241.12,329.38 240.2,325.7C239.28,322.02 239.28,307.28 240.2,303.6Z" fill="#34c0ef"/>
<path d="M317.27,307.73C318.01,305.88 321.18,305.88 321.97,307.73C322.75,309.57 322.7,316.94 321.97,318.78C321.23,320.62 318.33,320.62 317.55,318.78C316.76,316.94 316.53,309.57 317.27,307.73Z" fill="#34c0ef"/>
<path d="M328.32,307.73C329.13,305.88 332.58,305.88 333.44,307.73C334.29,309.57 334.24,316.94 333.44,318.78C332.63,320.62 329.45,320.62 328.6,318.78C327.75,316.94 327.52,309.57 328.32,307.73Z" fill="#34c0ef"/>
<path d="M248.45,362.96C251.68,360.89 264.58,360.2 267.8,362.96C271.02,365.73 271.02,377.47 267.8,379.55C264.58,381.62 251.68,378.16 248.45,375.4C245.23,372.64 245.23,365.04 248.45,362.96Z" fill="#34c0ef"/>
<path d="M267.8,353.29C270.56,349.15 281.62,349.15 284.38,353.29C287.15,357.44 287.15,374.02 284.38,378.16C281.62,382.31 270.56,382.31 267.8,378.16C265.04,374.02 265.04,357.44 267.8,353.29Z" fill="#34c0ef"/>
<path d="M306.49,347.76C309.02,346.15 319.16,346.15 321.69,347.76C324.22,349.38 324.22,355.82 321.69,357.44C319.16,359.05 309.02,359.05 306.49,357.44C303.96,355.82 303.96,349.38 306.49,347.76Z" fill="#34c0ef"/>
<path d="M281.62,368.49C283.23,365.96 289.68,365.96 291.29,368.49C292.9,371.02 292.9,381.16 291.29,383.69C289.68,386.22 283.23,386.22 281.62,383.69C280.01,381.16 280.01,371.02 281.62,368.49Z" fill="#34c0ef"/>
<path d="M303.73,371.25C306.95,368.03 319.85,368.03 323.07,371.25C326.3,374.48 326.3,387.38 323.07,390.6C319.85,393.82 306.95,393.82 303.73,390.6C300.5,387.38 300.5,374.48 303.73,371.25Z" fill="#34c0ef"/>
<path d="M327.22,372.64C329.06,369.41 336.43,369.41 338.27,372.64C340.12,375.86 340.12,388.76 338.27,391.98C336.43,395.21 329.06,395.21 327.22,391.98C325.38,388.76 325.38,375.86 327.22,372.64Z" fill="#34c0ef"/>
<path d="M341.04,372.64C344.26,370.33 357.16,370.33 360.38,372.64C363.61,374.94 363.61,384.15 360.38,386.45C357.16,388.76 344.26,388.76 341.04,386.45C337.81,384.15 337.81,374.94 341.04,372.64Z" fill="#34c0ef"/>
<path d="M306.49,376.78C308.79,374.71 318.01,374.71 320.31,376.78C322.61,378.85 322.61,387.15 320.31,389.22C318.01,391.29 308.79,391.29 306.49,389.22C304.19,387.15 304.19,378.85 306.49,376.78Z" fill="#18aaea"/>
<path d="M328.6,378.16C329.75,376.09 334.36,376.09 335.51,378.16C336.66,380.24 336.66,388.53 335.51,390.6C334.36,392.67 329.75,392.67 328.6,390.6C327.45,388.53 327.45,380.24 328.6,378.16Z" fill="#18aaea"/>
<path d="M342.42,379.55C343.34,378.39 347.02,378.39 347.95,379.55C348.87,380.7 348.87,385.3 347.95,386.45C347.02,387.61 343.34,387.61 342.42,386.45C341.5,385.3 341.5,380.7 342.42,379.55Z" fill="#18aaea"/>
</g>
<path d="M208.4,342.88 L209.2,346.92 L210.4,351.46 L211.9,352.97 L213.91,350.95 L216.41,347.93 L218.91,345.71 L221.42,346.41 L224.42,348.93 L228.03,352.67 L229.73,354.58 L233.83,358.72 L237.24,362.85 L240.64,364.97 L243.45,366.28 L247.45,369.11 L251.56,371.12 L255.66,374.55 L259.77,377.28 L263.87,378.69 L267.98,378.69 L272.08,379.6 L277.49,381.41 L283,383.53 L289.81,384.24 L296.62,385.55 L303.53,386.96 L310.34,388.37 L317.14,390.39 L323.95,392.41 L330.76,393.72 L337.57,394.52 L344.48,395.03 L351.29,395.33 L358.6,395.63 L358.6,403.4 L208.4,403.4Z" fill="#9a9a9a"/>
<path d="M225.8,348.7C226.23,347.62 227.43,343.5 228.4,342.2C229.37,340.9 230.62,341.77 231.6,340.9C232.58,340.03 233.32,338.53 234.3,337C235.28,335.47 236.63,332.9 237.5,331.7C238.37,330.5 238.95,329.9 239.5,329.8C240.05,329.7 240.48,329.9 240.8,331.1C241.12,332.3 241.4,334.5 241.4,337C241.4,339.5 241.02,343.28 240.8,346.1C240.58,348.92 240.32,351.28 240.1,353.9C239.88,356.52 239.72,360.05 239.5,361.8C239.28,363.55 238.92,363.97 238.8,364.4" fill="none" stroke="#000" stroke-width="1.5" stroke-linecap="round" stroke-linejoin="round"/>
<path d="M227.1,351.3C227.42,350.77 228.25,348.75 229,348.1C229.75,347.45 230.72,347.95 231.6,347.4C232.48,346.85 233.42,346.32 234.3,344.8C235.18,343.28 236.15,340.03 236.9,338.3C237.65,336.57 238.27,334.83 238.8,334.4C239.33,333.97 239.98,333.75 240.1,335.7C240.22,337.65 239.78,342.62 239.5,346.1C239.22,349.58 238.67,353.77 238.4,356.6C238.13,359.43 237.98,362.02 237.9,363.1" fill="none" stroke="#000" stroke-width="1.3" stroke-linecap="round" stroke-linejoin="round"/>
<path d="M244.7,363.1C245.03,361.13 246.05,355 246.7,351.3C247.35,347.6 247.95,343.93 248.6,340.9C249.25,337.87 249.95,335.07 250.6,333.1C251.25,331.13 251.85,329.65 252.5,329.1C253.15,328.55 253.95,329.37 254.5,329.8C255.05,330.23 255.03,331.27 255.8,331.7C256.57,332.13 258.12,331.95 259.1,332.4C260.08,332.85 260.95,333.2 261.7,334.4C262.45,335.6 263.07,337.22 263.6,339.6C264.13,341.98 264.57,345.43 264.9,348.7C265.23,351.97 265.6,355.72 265.6,359.2C265.6,362.68 265.33,366.78 264.9,369.6C264.47,372.42 263.75,374.68 263,376.1C262.25,377.52 260.83,377.77 260.4,378.1" fill="none" stroke="#000" stroke-width="1.5" stroke-linecap="round" stroke-linejoin="round"/>
<path d="M246.7,363.1C246.92,361.35 247.47,356.08 248,352.6C248.53,349.12 249.25,345.02 249.9,342.2C250.55,339.38 251.35,337 251.9,335.7C252.45,334.4 252.77,334.18 253.2,334.4C253.63,334.62 253.85,336.47 254.5,337C255.15,337.53 256.23,337.17 257.1,337.6C257.97,338.03 258.93,338.18 259.7,339.6C260.47,341.02 261.2,343.27 261.7,346.1C262.2,348.93 262.6,353.12 262.7,356.6C262.8,360.08 262.58,363.97 262.3,367C262.02,370.03 261.53,373.07 261,374.8C260.47,376.53 259.42,376.97 259.1,377.4" fill="none" stroke="#000" stroke-width="1.3" stroke-linecap="round" stroke-linejoin="round"/>
<path d="M252.5,357.9C252.62,356.8 252.87,353.05 253.2,351.3C253.53,349.55 253.97,348.48 254.5,347.4C255.03,346.32 255.75,345.12 256.4,344.8C257.05,344.48 257.73,344.63 258.4,345.5C259.07,346.37 259.97,347.72 260.4,350C260.83,352.28 261,355.93 261,359.2C261,362.47 260.72,366.78 260.4,369.6C260.08,372.42 259.32,375.02 259.1,376.1" fill="none" stroke="#000" stroke-width="1.3" stroke-linecap="round" stroke-linejoin="round"/>
<path d="M248,364.4C248.22,362.67 248.77,357.48 249.3,354C249.83,350.52 250.88,345.25 251.2,343.5" fill="none" stroke="#000" stroke-width="1.3" stroke-linecap="round" stroke-linejoin="round"/>
<path d="M246,364.4C248.53,364.33 257,364.15 261.2,364C265.4,363.85 267.7,363.6 271.2,363.5C274.7,363.4 279,363.35 282.2,363.4C285.4,363.45 287.67,363.92 290.4,363.8C293.13,363.68 295.42,363.07 298.6,362.7C301.78,362.33 306.32,361.93 309.5,361.6C312.68,361.27 314.98,360.55 317.7,360.7C320.42,360.85 322.63,362.05 325.8,362.5C328.97,362.95 333.05,363.13 336.7,363.4C340.35,363.67 344.12,363.93 347.7,364.1C351.28,364.27 356.45,364.35 358.2,364.4" fill="none" stroke="#dc2020" stroke-width="1.7"/>
<path d="M358.2,366.8C355.77,366.75 347.63,366.62 343.6,366.5C339.57,366.38 337.42,366.23 334,366.1C330.58,365.97 326.28,365.7 323.1,365.7C319.92,365.7 317.4,365.8 314.9,366.1C312.4,366.4 310.13,366.93 308.1,367.5C306.07,368.07 304.75,369.27 302.7,369.5C300.65,369.73 297.85,368.67 295.8,368.9C293.75,369.13 291.65,369.65 290.4,370.9C289.15,372.15 288.3,374.58 288.3,376.4C288.3,378.22 289.15,380.45 290.4,381.8C291.65,383.15 293.75,383.7 295.8,384.5C297.85,385.3 301.1,386.13 302.7,386.6C304.3,387.07 304.95,387.18 305.4,387.3" fill="none" stroke="#dc2020" stroke-width="1.7"/>
<ellipse cx="256" cy="370.6" rx="14" ry="6" transform="rotate(35 256 370.6)" fill="none" stroke="#ee22ee" stroke-width="1.5" stroke-dasharray="3.6 2.2"/>
<text x="321.7" y="362.3" font-size="5" font-family="Liberation Sans, Arial, sans-serif" fill="#222" stroke="#fff" stroke-width="1.4" paint-order="stroke" text-anchor="middle">305</text>
<text x="306.2" y="369.8" font-size="5" font-family="Liberation Sans, Arial, sans-serif" fill="#222" stroke="#fff" stroke-width="1.4" paint-order="stroke" text-anchor="middle">304</text>
<text x="254.5" y="330.3" font-size="4.2" font-family="Liberation Sans, Arial, sans-serif" fill="#222" stroke="#fff" stroke-width="1.4" paint-order="stroke" text-anchor="middle">50</text>
<text x="254.9" y="349.8" font-size="4.2" font-family="Liberation Sans, Arial, sans-serif" fill="#222" stroke="#fff" stroke-width="1.4" paint-order="stroke" text-anchor="middle">50</text>
</g>
<rect x="208.4" y="286.4" width="150.2" height="117" fill="none" stroke="#777" stroke-width="0.8"/>
<rect x="208.4" y="286.4" width="33" height="14.6" fill="#fff" stroke="#777" stroke-width="0.6"/>
<text x="210.3" y="298.1" font-size="11.4" font-family="Liberation Serif, Times New Roman, serif" fill="#111" stroke="#111" stroke-width="0.25">MPV1</text>
<rect x="208.4" y="389.8" width="63.4" height="13.6" fill="#fff" stroke="#777" stroke-width="0.6"/>
<text x="210.7" y="399.8" font-size="10.5" font-family="Liberation Serif, Times New Roman, serif" fill="#111" stroke="#111" stroke-width="0.2">(f) 0430 UTC</text>
<text x="207.3" y="400" font-size="11.8" font-weight="bold" font-family="Liberation Serif, Times New Roman, serif" fill="#000" text-anchor="end">A</text>
<text x="360.2" y="400" font-size="11.8" font-weight="bold" font-family="Liberation Serif, Times New Roman, serif" fill="#000">B</text>
<line x1="206.4" y1="403.4" x2="209.9" y2="403.4" stroke="#777" stroke-width="0.6"/>
<text x="202.1" y="405.6" font-size="6" font-family="Liberation Sans, Arial, sans-serif" fill="#333" text-anchor="middle">1</text>
<line x1="206.4" y1="380" x2="209.9" y2="380" stroke="#777" stroke-width="0.6"/>
<text x="202.1" y="382.2" font-size="6" font-family="Liberation Sans, Arial, sans-serif" fill="#333" text-anchor="middle">2</text>
<line x1="206.4" y1="356.6" x2="209.9" y2="356.6" stroke="#777" stroke-width="0.6"/>
<text x="202.1" y="358.8" font-size="6" font-family="Liberation Sans, Arial, sans-serif" fill="#333" text-anchor="middle">3</text>
<line x1="206.4" y1="333.2" x2="209.9" y2="333.2" stroke="#777" stroke-width="0.6"/>
<text x="202.1" y="335.4" font-size="6" font-family="Liberation Sans, Arial, sans-serif" fill="#333" text-anchor="middle">4</text>
<line x1="206.4" y1="309.8" x2="209.9" y2="309.8" stroke="#777" stroke-width="0.6"/>
<text x="202.1" y="312" font-size="6" font-family="Liberation Sans, Arial, sans-serif" fill="#333" text-anchor="middle">5</text>
<line x1="206.4" y1="286.4" x2="209.9" y2="286.4" stroke="#777" stroke-width="0.6"/>
<text x="202.1" y="288.6" font-size="6" font-family="Liberation Sans, Arial, sans-serif" fill="#333" text-anchor="middle">6</text>
<text x="0" y="0" font-size="6.2" font-family="Liberation Sans, Arial, sans-serif" fill="#111" stroke="#111" stroke-width="0.1" text-anchor="middle" transform="translate(194.4 344.9) rotate(-90)">Height ASL (km)</text>
<text font-size="4.8" font-family="Liberation Sans, Arial, sans-serif" fill="#222" text-anchor="middle"><tspan x="208.4" y="413.6">78.68° E,</tspan><tspan x="208.4" y="418.8">36.80° N</tspan></text>
<line x1="258.47" y1="401.9" x2="258.47" y2="404.9" stroke="#777" stroke-width="0.6"/>
<text font-size="4.8" font-family="Liberation Sans, Arial, sans-serif" fill="#222" text-anchor="middle"><tspan x="258.47" y="413.6">78.56° E,</tspan><tspan x="258.47" y="418.8">37.07° N</tspan></text>
<line x1="308.53" y1="401.9" x2="308.53" y2="404.9" stroke="#777" stroke-width="0.6"/>
<text font-size="4.8" font-family="Liberation Sans, Arial, sans-serif" fill="#222" text-anchor="middle"><tspan x="308.53" y="413.6">78.45° E,</tspan><tspan x="308.53" y="418.8">37.35° N</tspan></text>
<text font-size="4.8" font-family="Liberation Sans, Arial, sans-serif" fill="#222" text-anchor="middle"><tspan x="358.6" y="413.6">78.33° E,</tspan><tspan x="358.6" y="418.8">37.62° N</tspan></text>
<g clip-path="url(#cp20)">
<g filter="url(#bl)">
<path d="M462.87,4.25C464.7,1.05 472.02,1.05 473.85,4.25C475.68,7.46 475.68,20.27 473.85,23.47C472.02,26.68 464.7,26.68 462.87,23.47C461.04,20.27 461.04,7.46 462.87,4.25Z" fill="#a0e6f7"/>
<path d="M493.07,4.25C495.36,2.88 504.51,2.88 506.8,4.25C509.09,5.63 509.09,11.12 506.8,12.49C504.51,13.86 495.36,13.86 493.07,12.49C490.78,11.12 490.78,5.63 493.07,4.25Z" fill="#a0e6f7"/>
<path d="M520.53,4.25C523.73,1.05 536.54,1.05 539.75,4.25C542.95,7.46 542.95,20.27 539.75,23.47C536.54,26.68 523.73,26.68 520.53,23.47C517.32,20.27 517.32,7.46 520.53,4.25Z" fill="#a0e6f7"/>
<path d="M405.09,47.91C406.45,44.73 411.91,44.73 413.27,47.91C414.64,51.09 414.64,63.82 413.27,67C411.91,70.18 406.45,70.18 405.09,67C403.73,63.82 403.73,51.09 405.09,47.91Z" fill="#a0e6f7"/>
<path d="M459.62,41.55C460.54,37.17 464.22,37.17 465.15,41.55C466.07,45.92 466.07,63.42 465.15,67.8C464.22,72.18 460.54,72.18 459.62,67.8C458.7,63.42 458.7,45.92 459.62,41.55Z" fill="#a0e6f7"/>
<path d="M451.45,78.64C453.27,75.23 460.55,75.23 462.36,78.64C464.18,82.05 464.18,95.68 462.36,99.09C460.55,102.5 453.27,102.5 451.45,99.09C449.64,95.68 449.64,82.05 451.45,78.64Z" fill="#a0e6f7"/>
<path d="M459.62,73.29C462.61,71.68 474.59,71.68 477.58,73.29C480.58,74.9 480.58,81.35 477.58,82.96C474.59,84.58 462.61,84.58 459.62,82.96C456.62,81.35 456.62,74.9 459.62,73.29Z" fill="#a0e6f7"/>
<path d="M391.49,23.47C396.52,21.64 416.66,21.64 421.69,23.47C426.72,25.3 426.72,32.62 421.69,34.45C416.66,36.28 396.52,36.28 391.49,34.45C386.46,32.62 386.46,25.3 391.49,23.47Z" fill="#6cd4f3"/>
<path d="M394.24,28.96C395.61,26.22 401.1,26.22 402.47,28.96C403.85,31.71 403.85,42.69 402.47,45.44C401.1,48.18 395.61,48.18 394.24,45.44C392.86,42.69 392.86,31.71 394.24,28.96Z" fill="#6cd4f3"/>
<path d="M424.44,4.25C427.18,1.05 438.16,1.05 440.91,4.25C443.65,7.46 443.65,20.27 440.91,23.47C438.16,26.68 427.18,26.68 424.44,23.47C421.69,20.27 421.69,7.46 424.44,4.25Z" fill="#6cd4f3"/>
<path d="M443.65,4.25C445.85,-1.24 455.19,-1.24 457.38,4.25C459.58,9.75 459.03,31.71 456.83,37.2C454.64,42.69 446.4,42.69 444.2,37.2C442.01,31.71 441.46,9.75 443.65,4.25Z" fill="#6cd4f3"/>
<path d="M476.6,4.25C478.43,1.05 485.75,1.05 487.58,4.25C489.41,7.46 489.41,20.27 487.58,23.47C485.75,26.68 478.43,26.68 476.6,23.47C474.77,20.27 474.77,7.46 476.6,4.25Z" fill="#6cd4f3"/>
<path d="M504.05,4.25C505.88,-0.32 513.21,-0.32 515.04,4.25C516.87,8.83 516.87,27.13 515.04,31.71C513.21,36.28 505.88,36.28 504.05,31.71C502.22,27.13 502.22,8.83 504.05,4.25Z" fill="#6cd4f3"/>
<path d="M424.44,34.45C427.64,30.34 440.45,30.34 443.65,34.45C446.86,38.57 446.86,55.05 443.65,59.16C440.45,63.28 427.64,63.28 424.44,59.16C421.23,55.05 421.23,38.57 424.44,34.45Z" fill="#6cd4f3"/>
<path d="M454.64,37.2C455.78,33.54 460.36,33.54 461.5,37.2C462.64,40.86 462.64,55.5 461.5,59.16C460.36,62.82 455.78,62.82 454.64,59.16C453.49,55.5 453.49,40.86 454.64,37.2Z" fill="#6cd4f3"/>
<path d="M506.8,39.95C508.63,36.74 515.95,36.74 517.78,39.95C519.61,43.15 519.61,55.96 517.78,59.16C515.95,62.37 508.63,62.37 506.8,59.16C504.97,55.96 504.97,43.15 506.8,39.95Z" fill="#6cd4f3"/>
<path d="M440.55,45.18C441.68,41.32 446,42.23 447.36,43.82C448.73,45.41 448.61,50.86 448.73,54.73C448.84,58.59 449.41,64.95 448.05,67C446.68,69.05 441.8,70.64 440.55,67C439.3,63.36 439.41,49.05 440.55,45.18Z" fill="#6cd4f3"/>
<path d="M454.18,45.18C455.55,41.55 461,41.55 462.36,45.18C463.73,48.82 463.73,63.36 462.36,67C461,70.64 455.55,70.64 454.18,67C452.82,63.36 452.82,48.82 454.18,45.18Z" fill="#6cd4f3"/>
<path d="M477.58,41.55C479.42,37.17 486.1,40.39 488.64,41.55C491.17,42.7 492.09,44.08 492.78,48.45C493.47,52.83 495.32,64.58 492.78,67.8C490.25,71.02 480.12,72.18 477.58,67.8C475.05,63.42 475.74,45.92 477.58,41.55Z" fill="#6cd4f3"/>
<path d="M510.75,40.16C512.13,35.33 517.19,37.4 519.04,38.78C520.88,40.16 521.34,43.62 521.8,48.45C522.26,53.29 523.64,64.58 521.8,67.8C519.96,71.02 512.59,72.41 510.75,67.8C508.9,63.19 509.36,45 510.75,40.16Z" fill="#6cd4f3"/>
<path d="M396.91,63.64C399.18,62.95 410.77,62.5 413.27,63.64C415.77,64.77 413.05,69.55 411.91,70.45C410.77,71.36 408.5,69.55 406.45,69.09C404.41,68.64 401.23,68.64 399.64,67.73C398.05,66.82 394.64,64.32 396.91,63.64Z" fill="#6cd4f3"/>
<path d="M417.36,67.73C418.73,66.14 424.41,68.18 426.91,69.09C429.41,70 431.68,71.14 432.36,73.18C433.05,75.23 431.91,78.86 431,81.36C430.09,83.86 428.5,87.5 426.91,88.18C425.32,88.86 422.82,87.05 421.45,85.45C420.09,83.86 419.41,81.59 418.73,78.64C418.05,75.68 416,69.32 417.36,67.73Z" fill="#6cd4f3"/>
<path d="M426.91,63.64C428.05,62.5 433.95,62.5 435.09,63.64C436.23,64.77 434.86,69.32 433.73,70.45C432.59,71.59 429.41,71.59 428.27,70.45C427.14,69.32 425.77,64.77 426.91,63.64Z" fill="#6cd4f3"/>
<path d="M440.55,63.64C441.57,62.27 446.34,62.27 447.36,63.64C448.39,65 447.7,70.45 446.68,71.82C445.66,73.18 442.25,73.18 441.23,71.82C440.2,70.45 439.52,65 440.55,63.64Z" fill="#6cd4f3"/>
<path d="M435.09,78.64C437.36,77.05 444.41,75.23 447.36,75.91C450.32,76.59 452.14,79.55 452.82,82.73C453.5,85.91 452.59,92.27 451.45,95C450.32,97.73 447.82,98.52 446,99.09C444.18,99.66 442.14,99.55 440.55,98.41C438.95,97.27 437.59,94.43 436.45,92.27C435.32,90.11 433.95,87.73 433.73,85.45C433.5,83.18 432.82,80.23 435.09,78.64Z" fill="#6cd4f3"/>
<path d="M426.91,88.18C427.82,87.16 433.5,87.05 435.09,88.18C436.68,89.32 437.36,93.98 436.45,95C435.55,96.02 431.23,95.45 429.64,94.32C428.05,93.18 426,89.2 426.91,88.18Z" fill="#6cd4f3"/>
<path d="M478.96,63.62C481.04,61.78 490.59,61.55 492.78,63.62C494.97,65.69 493.24,73.75 492.09,76.05C490.94,78.36 487.83,77.67 485.87,77.44C483.92,77.21 481.5,76.98 480.35,74.67C479.19,72.37 476.89,65.46 478.96,63.62Z" fill="#6cd4f3"/>
<path d="M495.55,63.62C496.47,61.32 501.53,61.55 502.45,63.62C503.38,65.69 501.99,73.75 501.07,76.05C500.15,78.36 497.85,79.51 496.93,77.44C496.01,75.36 494.62,65.92 495.55,63.62Z" fill="#6cd4f3"/>
<path d="M509.36,63.62C511.67,61.55 521.11,61.55 523.18,63.62C525.25,65.69 523.41,73.29 521.8,76.05C520.19,78.82 515.58,80.2 513.51,80.2C511.44,80.2 510.05,78.82 509.36,76.05C508.67,73.29 507.06,65.69 509.36,63.62Z" fill="#6cd4f3"/>
<path d="M462.38,87.11C464.45,83.88 470.44,84.58 474.82,84.35C479.19,84.12 484.03,85.73 488.64,85.73C493.24,85.73 497.85,84.35 502.45,84.35C507.06,84.35 512.82,84.81 516.27,85.73C519.73,86.65 522.26,87.34 523.18,89.87C524.1,92.41 522.95,97.47 521.8,100.93C520.65,104.38 519.5,108.76 516.27,110.6C513.05,112.44 505.91,111.98 502.45,111.98C499,111.98 497.85,111.29 495.55,110.6C493.24,109.91 492.09,108.76 488.64,107.84C485.18,106.92 479.19,105.76 474.82,105.07C470.44,104.38 464.45,106.68 462.38,103.69C460.31,100.7 460.31,90.33 462.38,87.11Z" fill="#6cd4f3"/>
<path d="M502.45,95.4C504.53,92.64 511.21,91.25 513.51,92.64C515.81,94.02 516.96,100.7 516.27,103.69C515.58,106.68 511.9,109.68 509.36,110.6C506.83,111.52 502.22,111.75 501.07,109.22C499.92,106.68 500.38,98.16 502.45,95.4Z" fill="#6cd4f3"/>
<path d="M478.96,89.87C481.5,87.8 491.17,88.49 494.16,89.87C497.16,91.25 497.85,95.63 496.93,98.16C496.01,100.7 491.63,104.38 488.64,105.07C485.64,105.76 480.58,104.84 478.96,102.31C477.35,99.78 476.43,91.95 478.96,89.87Z" fill="#ffffff"/>
<path d="M383.25,20.73C384.4,15.01 388.97,15.01 390.12,20.73C391.26,26.45 391.26,49.33 390.12,55.05C388.97,60.77 384.4,60.77 383.25,55.05C382.11,49.33 382.11,26.45 383.25,20.73Z" fill="#34c0ef"/>
<path d="M429.93,5.63C431.3,2.65 436.79,2.65 438.16,5.63C439.54,8.6 439.54,20.5 438.16,23.47C436.79,26.45 431.3,26.45 429.93,23.47C428.55,20.5 428.55,8.6 429.93,5.63Z" fill="#34c0ef"/>
<path d="M447.77,4.25C448.92,-0.32 453.49,-0.32 454.64,4.25C455.78,8.83 455.78,27.13 454.64,31.71C453.49,36.28 448.92,36.28 447.77,31.71C446.63,27.13 446.63,8.83 447.77,4.25Z" fill="#34c0ef"/>
<path d="M480.72,8.37C481.63,6.31 485.29,6.31 486.21,8.37C487.12,10.43 487.12,18.67 486.21,20.73C485.29,22.79 481.63,22.79 480.72,20.73C479.8,18.67 479.8,10.43 480.72,8.37Z" fill="#34c0ef"/>
<path d="M427.18,39.95C428.78,36.74 435.19,36.74 436.79,39.95C438.39,43.15 438.39,55.96 436.79,59.16C435.19,62.37 428.78,62.37 427.18,59.16C425.58,55.96 425.58,43.15 427.18,39.95Z" fill="#34c0ef"/>
<path d="M426.91,45.18C428.16,43.36 432.36,42.23 433.73,43.82C435.09,45.41 435.09,50.86 435.09,54.73C435.09,58.59 435.09,64.95 433.73,67C432.36,69.05 428.16,69.05 426.91,67C425.66,64.95 426.23,58.36 426.23,54.73C426.23,51.09 425.66,47 426.91,45.18Z" fill="#34c0ef"/>
<path d="M442.59,47.91C443.39,45.64 446.57,45.64 447.36,47.91C448.16,50.18 448.16,59.27 447.36,61.55C446.57,63.82 443.39,63.82 442.59,61.55C441.8,59.27 441.8,50.18 442.59,47.91Z" fill="#34c0ef"/>
<path d="M480.35,47.07C482.19,43.62 489.56,43.62 491.4,47.07C493.24,50.53 493.24,64.35 491.4,67.8C489.56,71.25 482.19,71.25 480.35,67.8C478.5,64.35 478.5,50.53 480.35,47.07Z" fill="#34c0ef"/>
<path d="M512.13,45.69C513.51,42.93 519.04,42.93 520.42,45.69C521.8,48.45 521.8,59.51 520.42,62.27C519.04,65.04 513.51,65.04 512.13,62.27C510.75,59.51 510.75,48.45 512.13,45.69Z" fill="#34c0ef"/>
<path d="M420.09,73.18C421.23,72.05 425.77,72.05 426.91,73.18C428.05,74.32 428.05,78.86 426.91,80C425.77,81.14 421.23,81.14 420.09,80C418.95,78.86 418.95,74.32 420.09,73.18Z" fill="#34c0ef"/>
<path d="M429.64,63.64C430.32,62.73 433.05,62.73 433.73,63.64C434.41,64.55 434.41,68.18 433.73,69.09C433.05,70 430.32,70 429.64,69.09C428.95,68.18 428.95,64.55 429.64,63.64Z" fill="#34c0ef"/>
<path d="M456.91,63.64C457.82,62.05 461.45,62.05 462.36,63.64C463.27,65.23 463.27,71.59 462.36,73.18C461.45,74.77 457.82,74.77 456.91,73.18C456,71.59 456,65.23 456.91,63.64Z" fill="#34c0ef"/>
<path d="M440.55,84.09C441.68,82.5 446.23,82.5 447.36,84.09C448.5,85.68 448.5,92.05 447.36,93.64C446.23,95.23 441.68,95.23 440.55,93.64C439.41,92.05 439.41,85.68 440.55,84.09Z" fill="#34c0ef"/>
<path d="M513.51,67.76C514.66,66.38 519.27,66.38 520.42,67.76C521.57,69.15 521.57,74.67 520.42,76.05C519.27,77.44 514.66,77.44 513.51,76.05C512.36,74.67 512.36,69.15 513.51,67.76Z" fill="#34c0ef"/>
<path d="M506.6,98.16C507.41,96.78 511.09,96.32 512.13,97.47C513.16,98.62 513.62,103.69 512.82,105.07C512.01,106.45 508.33,106.92 507.29,105.76C506.25,104.61 505.79,99.55 506.6,98.16Z" fill="#34c0ef"/>
<path d="M465.15,89.87C466.3,87.34 471.82,85.27 473.44,87.11C475.05,88.95 475.97,98.39 474.82,100.93C473.67,103.46 468.14,104.15 466.53,102.31C464.92,100.47 463.99,92.41 465.15,89.87Z" fill="#34c0ef"/>
<path d="M530.09,73.29C531.47,67.07 537,67.07 538.38,73.29C539.76,79.51 539.76,104.38 538.38,110.6C537,116.82 531.47,116.82 530.09,110.6C528.71,104.38 528.71,79.51 530.09,73.29Z" fill="#34c0ef"/>
<path d="M412.08,34.45C413.45,31.48 419.86,31.71 421.69,34.45C423.52,37.2 424.44,47.95 423.06,50.93C421.69,53.9 415.28,55.05 413.45,52.3C411.62,49.55 410.71,37.43 412.08,34.45Z" fill="#18aaea"/>
<path d="M428.27,49.27C429.07,46.55 432.25,46.55 433.05,49.27C433.84,52 433.84,62.91 433.05,65.64C432.25,68.36 429.07,68.36 428.27,65.64C427.48,62.91 427.48,52 428.27,49.27Z" fill="#18aaea"/>
<path d="M481.73,63.62C483.11,62.01 488.64,62.01 490.02,63.62C491.4,65.23 491.4,71.68 490.02,73.29C488.64,74.9 483.11,74.9 481.73,73.29C480.35,71.68 480.35,65.23 481.73,63.62Z" fill="#18aaea"/>
<path d="M482.42,51.22C483.57,48.45 488.18,48.45 489.33,51.22C490.48,53.98 490.48,65.04 489.33,67.8C488.18,70.56 483.57,70.56 482.42,67.8C481.27,65.04 481.27,53.98 482.42,51.22Z" fill="#1490ee"/>
<path d="M483.8,55.36C484.61,53.29 487.83,53.29 488.64,55.36C489.44,57.44 489.44,65.73 488.64,67.8C487.83,69.87 484.61,69.87 483.8,67.8C482.99,65.73 482.99,57.44 483.8,55.36Z" fill="#1466f0"/>
<path d="M483.11,63.62C484.03,62.7 487.72,62.7 488.64,63.62C489.56,64.54 489.56,68.22 488.64,69.15C487.72,70.07 484.03,70.07 483.11,69.15C482.19,68.22 482.19,64.54 483.11,63.62Z" fill="#1466f0"/>
<path d="M483.8,63.62C484.49,62.93 487.25,62.93 487.95,63.62C488.64,64.31 488.64,67.07 487.95,67.76C487.25,68.45 484.49,68.45 483.8,67.76C483.11,67.07 483.11,64.31 483.8,63.62Z" fill="#1c2aec"/>
</g>
<path d="M386.5,63.3 L387.3,67.3 L388.49,71.81 L389.99,73.31 L391.98,71.31 L394.47,68.31 L396.96,66.1 L399.45,66.8 L402.44,69.31 L406.02,73.01 L407.71,74.92 L411.8,79.02 L415.18,83.13 L418.57,85.23 L421.36,86.54 L425.34,89.34 L429.43,91.34 L433.51,94.75 L437.59,97.46 L441.68,98.86 L445.76,98.86 L449.85,99.76 L455.22,101.56 L460.7,103.67 L467.47,104.37 L474.25,105.67 L481.12,107.07 L487.89,108.47 L494.67,110.48 L501.44,112.48 L508.21,113.78 L514.98,114.58 L521.86,115.09 L528.63,115.39 L535.9,115.69 L535.9,123.4 L386.5,123.4Z" fill="#9a9a9a"/>
<path d="M411.9,78.6C412.35,77.5 413.82,74.27 414.6,72C415.38,69.73 416.07,67 416.6,65C417.13,63 417.42,61.03 417.8,60C418.18,58.97 418.57,58.72 418.9,58.8C419.23,58.88 419.68,59.47 419.8,60.5C419.92,61.53 419.88,63.08 419.6,65C419.32,66.92 418.72,69.17 418.1,72C417.48,74.83 416.27,80.33 415.9,82" fill="none" stroke="#000" stroke-width="1.4" stroke-linecap="round" stroke-linejoin="round"/>
<path d="M480.35,106.45C480.53,104.84 480.99,99.55 481.45,96.78C481.91,94.02 482.56,91.3 483.11,89.87C483.66,88.44 484.19,88.26 484.77,88.21C485.34,88.17 486.15,88.17 486.56,89.6C486.98,91.02 487.3,93.86 487.25,96.78C487.21,99.71 486.45,105.42 486.29,107.15" fill="none" stroke="#000" stroke-width="2.2" stroke-linecap="round" stroke-linejoin="round"/>
<path d="M517.7,112.5C518.67,108.42 521.45,95.92 523.5,88C525.55,80.08 528.33,72.67 530,65C531.67,57.33 532.67,46.75 533.5,42C534.33,37.25 534.25,37.5 535,36.5C535.75,35.5 537.5,36.08 538,36" fill="none" stroke="#000" stroke-width="1.6" stroke-linecap="round" stroke-linejoin="round"/>
<path d="M520.4,112.5C521.33,108.42 524.07,95.92 526,88C527.93,80.08 530.5,72.33 532,65C533.5,57.67 534,48.17 535,44C536,39.83 537.5,40.67 538,40" fill="none" stroke="#000" stroke-width="1.6" stroke-linecap="round" stroke-linejoin="round"/>
<path d="M522.5,113C523.42,108.83 526.08,96 528,88C529.92,80 532.33,71 534,65C535.67,59 537.33,54.17 538,52" fill="none" stroke="#000" stroke-width="1.6" stroke-linecap="round" stroke-linejoin="round"/>
<path d="M526,113.5C526.83,109.25 529.17,96.58 531,88C532.83,79.42 536,66.33 537,62" fill="none" stroke="#000" stroke-width="2.8" stroke-linecap="round" stroke-linejoin="round"/>
<path d="M538.38,82.27C535.85,82.5 527.33,83.77 523.18,83.65C519.04,83.54 516.5,81.74 513.51,81.58C510.52,81.42 508.21,82.69 505.22,82.69C502.22,82.69 498.77,81.81 495.55,81.58C492.32,81.35 489.33,81.31 485.87,81.31C482.42,81.31 477.81,81.31 474.82,81.58C471.82,81.86 469.87,81.81 467.91,82.96C465.95,84.12 463.99,86.19 463.07,88.49C462.15,90.79 462.27,94.48 462.38,96.78C462.5,99.08 463.53,101.39 463.76,102.31" fill="none" stroke="#dc2020" stroke-width="1.7"/>
<path d="M538.38,87.11C535.85,87.45 527.33,89.07 523.18,89.18C519.04,89.3 516.96,88.03 513.51,87.8C510.05,87.57 505.91,87.92 502.45,87.8C499,87.68 495.78,87.22 492.78,87.11C489.79,86.99 486.79,86.76 484.49,87.11C482.19,87.45 480.23,88.03 478.96,89.18C477.7,90.33 477.35,91.6 476.89,94.02C476.43,96.44 476.32,102.08 476.2,103.69" fill="none" stroke="#dc2020" stroke-width="1.7"/>
<ellipse cx="485.5" cy="62.6" rx="6.2" ry="14.4" transform="rotate(0 485.5 62.6)" fill="none" stroke="#ee22ee" stroke-width="1.5" stroke-dasharray="3.6 2.2"/>
<ellipse cx="444.3" cy="88.6" rx="8.5" ry="12" transform="rotate(0 444.3 88.6)" fill="none" stroke="#ee22ee" stroke-width="1.5" stroke-dasharray="3.6 2.2"/>
<text x="503.8" y="84.5" font-size="5" font-family="Liberation Sans, Arial, sans-serif" fill="#222" stroke="#fff" stroke-width="1.4" paint-order="stroke" text-anchor="middle">305</text>
<text x="489.3" y="88.9" font-size="5" font-family="Liberation Sans, Arial, sans-serif" fill="#222" stroke="#fff" stroke-width="1.4" paint-order="stroke" text-anchor="middle">304</text>
<text x="532" y="47.8" font-size="4.2" font-family="Liberation Sans, Arial, sans-serif" fill="#222" stroke="#fff" stroke-width="1.4" paint-order="stroke" text-anchor="middle">50</text>
<text x="418.7" y="74.3" font-size="4.2" font-family="Liberation Sans, Arial, sans-serif" fill="#222" stroke="#fff" stroke-width="1.4" paint-order="stroke" text-anchor="middle">50</text>
<text x="488" y="100.1" font-size="4.2" font-family="Liberation Sans, Arial, sans-serif" fill="#222" stroke="#fff" stroke-width="1.4" paint-order="stroke" text-anchor="middle">50</text>
</g>
<rect x="386.5" y="7.2" width="149.4" height="116.2" fill="none" stroke="#777" stroke-width="0.8"/>
<rect x="386.5" y="7.2" width="32.3" height="14.6" fill="#fff" stroke="#777" stroke-width="0.6"/>
<text x="388.4" y="18.9" font-size="11.4" font-family="Liberation Serif, Times New Roman, serif" fill="#111" stroke="#111" stroke-width="0.25">MPV2</text>
<rect x="386.5" y="109.8" width="63.4" height="13.6" fill="#fff" stroke="#777" stroke-width="0.6"/>
<text x="388.8" y="119.8" font-size="10.5" font-family="Liberation Serif, Times New Roman, serif" fill="#111" stroke="#111" stroke-width="0.2">(g) 0330 UTC</text>
<text x="385.4" y="120" font-size="11.8" font-weight="bold" font-family="Liberation Serif, Times New Roman, serif" fill="#000" text-anchor="end">A</text>
<text x="537.5" y="120" font-size="11.8" font-weight="bold" font-family="Liberation Serif, Times New Roman, serif" fill="#000">B</text>
<line x1="384.5" y1="123.4" x2="388" y2="123.4" stroke="#777" stroke-width="0.6"/>
<text x="380.2" y="125.6" font-size="6" font-family="Liberation Sans, Arial, sans-serif" fill="#333" text-anchor="middle">1</text>
<line x1="384.5" y1="100.16" x2="388" y2="100.16" stroke="#777" stroke-width="0.6"/>
<text x="380.2" y="102.36" font-size="6" font-family="Liberation Sans, Arial, sans-serif" fill="#333" text-anchor="middle">2</text>
<line x1="384.5" y1="76.92" x2="388" y2="76.92" stroke="#777" stroke-width="0.6"/>
<text x="380.2" y="79.12" font-size="6" font-family="Liberation Sans, Arial, sans-serif" fill="#333" text-anchor="middle">3</text>
<line x1="384.5" y1="53.68" x2="388" y2="53.68" stroke="#777" stroke-width="0.6"/>
<text x="380.2" y="55.88" font-size="6" font-family="Liberation Sans, Arial, sans-serif" fill="#333" text-anchor="middle">4</text>
<line x1="384.5" y1="30.44" x2="388" y2="30.44" stroke="#777" stroke-width="0.6"/>
<text x="380.2" y="32.64" font-size="6" font-family="Liberation Sans, Arial, sans-serif" fill="#333" text-anchor="middle">5</text>
<line x1="384.5" y1="7.2" x2="388" y2="7.2" stroke="#777" stroke-width="0.6"/>
<text x="380.2" y="9.4" font-size="6" font-family="Liberation Sans, Arial, sans-serif" fill="#333" text-anchor="middle">6</text>
<text x="0" y="0" font-size="6.2" font-family="Liberation Sans, Arial, sans-serif" fill="#111" stroke="#111" stroke-width="0.1" text-anchor="middle" transform="translate(372.5 65.3) rotate(-90)">Height ASL (km)</text>
<text font-size="4.8" font-family="Liberation Sans, Arial, sans-serif" fill="#222" text-anchor="middle"><tspan x="386.5" y="133.6">78.68° E,</tspan><tspan x="386.5" y="138.8">36.80° N</tspan></text>
<line x1="436.3" y1="121.9" x2="436.3" y2="124.9" stroke="#777" stroke-width="0.6"/>
<text font-size="4.8" font-family="Liberation Sans, Arial, sans-serif" fill="#222" text-anchor="middle"><tspan x="436.3" y="133.6">78.56° E,</tspan><tspan x="436.3" y="138.8">37.07° N</tspan></text>
<line x1="486.1" y1="121.9" x2="486.1" y2="124.9" stroke="#777" stroke-width="0.6"/>
<text font-size="4.8" font-family="Liberation Sans, Arial, sans-serif" fill="#222" text-anchor="middle"><tspan x="486.1" y="133.6">78.45° E,</tspan><tspan x="486.1" y="138.8">37.35° N</tspan></text>
<text font-size="4.8" font-family="Liberation Sans, Arial, sans-serif" fill="#222" text-anchor="middle"><tspan x="535.9" y="133.6">78.33° E,</tspan><tspan x="535.9" y="138.8">37.62° N</tspan></text>
<g clip-path="url(#cp21)">
<g filter="url(#bl)">
<path d="M488.64,176.4C493.24,174.56 511.67,174.56 516.27,176.4C520.88,178.24 520.88,185.61 516.27,187.45C511.67,189.3 493.24,189.3 488.64,187.45C484.03,185.61 484.03,178.24 488.64,176.4Z" fill="#d4f4fb"/>
<path d="M384.64,159.64C385.55,155.09 389.18,155.09 390.09,159.64C391,164.18 391,182.36 390.09,186.91C389.18,191.45 385.55,191.45 384.64,186.91C383.73,182.36 383.73,164.18 384.64,159.64Z" fill="#a0e6f7"/>
<path d="M384.64,161C386.23,159.64 391.23,159.64 394.18,159.64C397.14,159.64 398.27,160.77 402.36,161C406.45,161.23 415.55,162.82 418.73,161C421.91,159.18 420.09,152.82 421.45,150.09C422.82,147.36 422.36,145.55 426.91,144.64C431.45,143.73 444.18,143.27 448.73,144.64C453.27,146 452.82,149.18 454.18,152.82C455.55,156.45 456,163.05 456.91,166.45C457.82,169.86 458.73,171 459.64,173.27C460.55,175.55 461.91,174.64 462.36,180.09C462.82,185.55 463.73,201.68 462.36,206C461,210.32 456.23,208.05 454.18,206C452.14,203.95 451.91,196.91 450.09,193.73C448.27,190.55 445.32,188.05 443.27,186.91C441.23,185.77 440.55,186.91 437.82,186.91C435.09,186.91 429.64,186.23 426.91,186.91C424.18,187.59 423.73,190.32 421.45,191C419.18,191.68 415.55,191.68 413.27,191C411,190.32 409.41,188.73 407.82,186.91C406.23,185.09 405.55,182.36 403.73,180.09C401.91,177.82 399.18,174.86 396.91,173.27C394.64,171.68 392.14,171.45 390.09,170.55C388.05,169.64 385.55,169.41 384.64,167.82C383.73,166.23 383.05,162.36 384.64,161Z" fill="#6cd4f3"/>
<path d="M402.36,163.73C404.18,162.36 411,161.45 413.27,162.36C415.55,163.27 416,166.68 416,169.18C416,171.68 414.86,176.23 413.27,177.36C411.68,178.5 408.27,177.14 406.45,176C404.64,174.86 403.05,172.59 402.36,170.55C401.68,168.5 400.55,165.09 402.36,163.73Z" fill="#6cd4f3"/>
<path d="M435.09,151.45C436,148.05 439.41,147.59 440.55,150.09C441.68,152.59 442.14,162.59 441.91,166.45C441.68,170.32 440.32,172.59 439.18,173.27C438.05,173.95 435.77,174.18 435.09,170.55C434.41,166.91 434.18,154.86 435.09,151.45Z" fill="#6cd4f3"/>
<path d="M437.82,159.64C438.73,156.23 441.91,156 443.27,158.27C444.64,160.55 446,169.41 446,173.27C446,177.14 444.64,180.55 443.27,181.45C441.91,182.36 438.73,182.36 437.82,178.73C436.91,175.09 436.91,163.05 437.82,159.64Z" fill="#6cd4f3"/>
<path d="M459.62,144.62C462.15,140.01 472.28,140.24 474.82,144.62C477.35,148.99 475.28,166.04 474.82,170.87C474.36,175.71 474.59,173.41 472.05,173.64C469.52,173.87 461.69,177.09 459.62,172.25C457.55,167.42 457.08,149.22 459.62,144.62Z" fill="#6cd4f3"/>
<path d="M476.2,147.38C477.12,143.47 480.58,144.16 481.73,147.38C482.88,150.61 483.34,162.35 483.11,166.73C482.88,171.1 481.5,172.95 480.35,173.64C479.19,174.33 476.89,175.25 476.2,170.87C475.51,166.5 475.28,151.3 476.2,147.38Z" fill="#6cd4f3"/>
<path d="M488.64,147.38C490.94,145.31 500.38,145.77 502.45,147.38C504.53,148.99 501.99,153.6 501.07,157.05C500.15,160.51 498.54,166.04 496.93,168.11C495.32,170.18 492.78,170.87 491.4,169.49C490.02,168.11 489.1,163.5 488.64,159.82C488.18,156.13 486.33,149.45 488.64,147.38Z" fill="#6cd4f3"/>
<path d="M505.22,147.38C507.29,145.31 517.19,145.77 519.04,147.38C520.88,148.99 517.65,154.06 516.27,157.05C514.89,160.05 512.36,164.88 510.75,165.35C509.13,165.81 507.52,162.81 506.6,159.82C505.68,156.82 503.15,149.45 505.22,147.38Z" fill="#6cd4f3"/>
<path d="M521.8,147.38C524.33,145.77 535.62,143.01 538.38,147.38C541.15,151.76 539.3,168.57 538.38,173.64C537.46,178.7 534.7,178.93 532.85,177.78C531.01,176.63 528.94,170.18 527.33,166.73C525.72,163.27 524.1,160.28 523.18,157.05C522.26,153.83 519.27,148.99 521.8,147.38Z" fill="#6cd4f3"/>
<path d="M495.55,186.07C497.39,182.39 504.07,183.77 506.6,184.69C509.13,185.61 509.13,189.99 510.75,191.6C512.36,193.21 514.43,194.82 516.27,194.36C518.12,193.9 519.5,189.3 521.8,188.84C524.1,188.38 528.71,188.61 530.09,191.6C531.47,194.59 535.85,204.27 530.09,206.8C524.33,209.33 501.3,210.25 495.55,206.8C489.79,203.35 493.7,189.76 495.55,186.07Z" fill="#6cd4f3"/>
<path d="M476.2,194.36C477.12,192.06 480.58,190.91 481.73,192.98C482.88,195.05 484.03,204.5 483.11,206.8C482.19,209.1 477.35,208.87 476.2,206.8C475.05,204.73 475.28,196.67 476.2,194.36Z" fill="#6cd4f3"/>
<path d="M384.64,202.64C385.55,201.05 389.18,201.05 390.09,202.64C391,204.23 391,210.59 390.09,212.18C389.18,213.77 385.55,213.77 384.64,212.18C383.73,210.59 383.73,204.23 384.64,202.64Z" fill="#6cd4f3"/>
<path d="M413.27,202.64C419.18,200.14 445.32,201.05 451.45,202.64C457.59,204.23 451.23,208.55 450.09,212.18C448.95,215.82 445.77,221.27 444.64,224.45C443.5,227.64 444.41,229.68 443.27,231.27C442.14,232.86 439.86,234 437.82,234C435.77,234 433.27,232.18 431,231.27C428.73,230.36 426,229.68 424.18,228.55C422.36,227.41 421.45,226.27 420.09,224.45C418.73,222.64 417.14,221.27 416,217.64C414.86,214 407.36,205.14 413.27,202.64Z" fill="#6cd4f3"/>
<path d="M476.2,202.62C477.24,201.47 482.19,201.01 483.11,202.62C484.03,204.23 482.42,210.45 481.73,212.29C481.04,214.13 479.77,214.13 478.96,213.67C478.16,213.21 477.35,211.37 476.89,209.53C476.43,207.68 475.16,203.77 476.2,202.62Z" fill="#6cd4f3"/>
<path d="M499.69,202.62C505.91,201.7 531.93,199.62 538.38,202.62C544.83,205.61 539.76,217.82 538.38,220.58C537,223.35 533.78,219.66 530.09,219.2C526.41,218.74 520.19,218.97 516.27,217.82C512.36,216.67 509.13,213.9 506.6,212.29C504.07,210.68 502.22,209.76 501.07,208.15C499.92,206.53 493.47,203.54 499.69,202.62Z" fill="#6cd4f3"/>
<path d="M503.84,230.25C505.22,227.95 510.05,228.87 513.51,228.87C516.96,228.87 521.8,229.79 524.56,230.25C527.33,230.72 527.79,231.64 530.09,231.64C532.39,231.64 537,227.03 538.38,230.25C539.76,233.48 539.76,247.3 538.38,250.98C537,254.67 533.32,252.25 530.09,252.36C526.87,252.48 522.49,252.13 519.04,251.67C515.58,251.21 511.67,251.1 509.36,249.6C507.06,248.1 506.14,245.92 505.22,242.69C504.3,239.47 502.45,232.56 503.84,230.25Z" fill="#6cd4f3"/>
<path d="M459.62,231.64C460.77,229.56 464.45,229.79 466.53,228.87C468.6,227.95 470.67,225.65 472.05,226.11C473.44,226.57 475.28,229.33 474.82,231.64C474.36,233.94 471.82,238.32 469.29,239.93C466.76,241.54 461.23,242.69 459.62,241.31C458.01,239.93 458.47,233.71 459.62,231.64Z" fill="#6cd4f3"/>
<path d="M513.51,248.22C517.65,247.3 534.24,247.07 538.38,248.22C542.53,249.37 542.53,254.21 538.38,255.13C534.24,256.05 517.65,254.9 513.51,253.75C509.36,252.59 509.36,249.14 513.51,248.22Z" fill="#6cd4f3"/>
<path d="M394.18,174.64C395.55,172.14 401,173.27 402.36,176C403.73,178.73 403.73,188.5 402.36,191C401,193.5 395.55,193.73 394.18,191C392.82,188.27 392.82,177.14 394.18,174.64Z" fill="#ffffff"/>
<path d="M428.27,176C429.41,173.95 434.86,173.05 436.45,174.64C438.05,176.23 438.95,183.5 437.82,185.55C436.68,187.59 431.23,188.5 429.64,186.91C428.05,185.32 427.14,178.05 428.27,176Z" fill="#ffffff"/>
<path d="M508.67,186.07C510.28,184.69 517.31,185.73 519.04,187.45C520.76,189.18 520.65,195.05 519.04,196.44C517.42,197.82 511.09,197.47 509.36,195.75C507.64,194.02 507.06,187.45 508.67,186.07Z" fill="#ffffff"/>
<path d="M421.45,147.36C423.05,146.23 427.82,145.77 429.64,147.36C431.45,148.95 432.82,153.73 432.36,156.91C431.91,160.09 428.73,165.09 426.91,166.45C425.09,167.82 422.59,167.14 421.45,165.09C420.32,163.05 420.09,157.14 420.09,154.18C420.09,151.23 419.86,148.5 421.45,147.36Z" fill="#34c0ef"/>
<path d="M416,169.18C417.36,167.14 422.36,165.55 424.18,166.45C426,167.36 426.68,171.45 426.91,174.64C427.14,177.82 426.91,183.73 425.55,185.55C424.18,187.36 420.32,186.68 418.73,185.55C417.14,184.41 416.45,181.45 416,178.73C415.55,176 414.64,171.23 416,169.18Z" fill="#34c0ef"/>
<path d="M447.36,156.91C448.27,153.95 452.36,152.59 454.18,154.18C456,155.77 458.05,163.27 458.27,166.45C458.5,169.64 457.14,172.36 455.55,173.27C453.95,174.18 450.09,174.64 448.73,171.91C447.36,169.18 446.45,159.86 447.36,156.91Z" fill="#34c0ef"/>
<path d="M451.45,180.09C453.05,175.77 460.55,175.77 462.36,180.09C464.18,184.41 463.95,201.68 462.36,206C460.77,210.32 454.64,210.32 452.82,206C451,201.68 449.86,184.41 451.45,180.09Z" fill="#34c0ef"/>
<path d="M459.62,181.93C461.23,178.24 467.22,182.62 469.29,184.69C471.36,186.76 471.82,190.68 472.05,194.36C472.28,198.05 472.75,204.73 470.67,206.8C468.6,208.87 461.46,210.95 459.62,206.8C457.78,202.65 458.01,185.61 459.62,181.93Z" fill="#34c0ef"/>
<path d="M502.45,198.51C503.84,197.13 509.36,197.13 510.75,198.51C512.13,199.89 512.13,205.42 510.75,206.8C509.36,208.18 503.84,208.18 502.45,206.8C501.07,205.42 501.07,199.89 502.45,198.51Z" fill="#34c0ef"/>
<path d="M519.04,191.6C520.19,189.07 524.79,189.07 525.95,191.6C527.1,194.13 527.1,204.27 525.95,206.8C524.79,209.33 520.19,209.33 519.04,206.8C517.88,204.27 517.88,194.13 519.04,191.6Z" fill="#34c0ef"/>
<path d="M424.18,212.18C426.45,210.14 434.64,209.45 437.82,210.82C441,212.18 443.27,216.95 443.27,220.36C443.27,223.77 440.09,229.68 437.82,231.27C435.55,232.86 431.91,231.27 429.64,229.91C427.36,228.55 425.09,226.05 424.18,223.09C423.27,220.14 421.91,214.23 424.18,212.18Z" fill="#34c0ef"/>
<path d="M443.27,208.09C444.64,205.14 450.09,205.14 451.45,208.09C452.82,211.05 452.82,222.86 451.45,225.82C450.09,228.77 444.64,228.77 443.27,225.82C441.91,222.86 441.91,211.05 443.27,208.09Z" fill="#34c0ef"/>
<path d="M459.62,202.62C460.77,199.62 465.38,200.08 466.53,202.62C467.68,205.15 467.22,214.59 466.53,217.82C465.84,221.04 463.53,221.5 462.38,221.96C461.23,222.42 460.08,223.81 459.62,220.58C459.16,217.36 458.47,205.61 459.62,202.62Z" fill="#34c0ef"/>
<path d="M513.51,205.38C515.35,204.23 522.72,203.77 524.56,205.38C526.41,206.99 525.95,213.21 524.56,215.05C523.18,216.9 518.12,216.9 516.27,216.44C514.43,215.98 513.97,214.13 513.51,212.29C513.05,210.45 511.67,206.53 513.51,205.38Z" fill="#34c0ef"/>
<path d="M528.71,206.76C530.32,204.92 536.77,204.92 538.38,206.76C539.99,208.61 539.99,215.98 538.38,217.82C536.77,219.66 530.32,219.66 528.71,217.82C527.1,215.98 527.1,208.61 528.71,206.76Z" fill="#34c0ef"/>
<path d="M509.36,231.64C511.67,230.25 520.88,230.25 523.18,231.64C525.48,233.02 525.48,238.55 523.18,239.93C520.88,241.31 511.67,241.31 509.36,239.93C507.06,238.55 507.06,233.02 509.36,231.64Z" fill="#34c0ef"/>
<path d="M530.09,233.02C531.47,231.87 537,231.87 538.38,233.02C539.76,234.17 539.76,238.78 538.38,239.93C537,241.08 531.47,241.08 530.09,239.93C528.71,238.78 528.71,234.17 530.09,233.02Z" fill="#34c0ef"/>
<path d="M418.73,173.27C419.7,171.68 423.91,171.68 424.86,173.27C425.82,174.86 425.43,181.23 424.45,182.82C423.48,184.41 419.95,184.41 419,182.82C418.05,181.23 417.75,174.86 418.73,173.27Z" fill="#18aaea"/>
<path d="M455.55,144.64C456.45,141.23 461.23,141 462.36,144.64C463.5,148.27 463.27,163.05 462.36,166.45C461.45,169.86 458.05,168.73 456.91,165.09C455.77,161.45 454.64,148.05 455.55,144.64Z" fill="#18aaea"/>
<path d="M459.62,144.62C461.23,140.7 467.45,142.55 469.29,144.62C471.13,146.69 470.67,153.37 470.67,157.05C470.67,160.74 470.44,164.65 469.29,166.73C468.14,168.8 465.38,169.26 463.76,169.49C462.15,169.72 460.31,172.25 459.62,168.11C458.93,163.96 458.01,148.53 459.62,144.62Z" fill="#18aaea"/>
<path d="M459.62,187.45C461,185.15 466.53,185.15 467.91,187.45C469.29,189.76 469.29,198.97 467.91,201.27C466.53,203.58 461,203.58 459.62,201.27C458.24,198.97 458.24,189.76 459.62,187.45Z" fill="#18aaea"/>
<path d="M429.64,217.64C431.45,215.82 438.73,215.82 440.55,217.64C442.36,219.45 442.36,226.73 440.55,228.55C438.73,230.36 431.45,230.36 429.64,228.55C427.82,226.73 427.82,219.45 429.64,217.64Z" fill="#18aaea"/>
<path d="M450.09,202.64C452.14,201.05 460.32,201.05 462.36,202.64C464.41,204.23 464.41,210.59 462.36,212.18C460.32,213.77 452.14,213.77 450.09,212.18C448.05,210.59 448.05,204.23 450.09,202.64Z" fill="#18aaea"/>
<path d="M453,185C455.67,182.33 465,182.17 468,184C471,185.83 471,191.67 471,196C471,200.33 470.5,207.33 468,210C465.5,212.67 458.67,213.67 456,212C453.33,210.33 452.5,204.5 452,200C451.5,195.5 450.33,187.67 453,185Z" fill="#18aaea"/>
<path d="M459.62,146.69C460.77,144.73 465.38,144.73 466.53,146.69C467.68,148.65 467.68,156.48 466.53,158.44C465.38,160.39 460.77,160.39 459.62,158.44C458.47,156.48 458.47,148.65 459.62,146.69Z" fill="#1490ee"/>
<path d="M456,188C457.33,185.33 464.17,186 466,188C467.83,190 468.33,197.33 467,200C465.67,202.67 459.83,206 458,204C456.17,202 454.67,190.67 456,188Z" fill="#1490ee"/>
<path d="M459.62,148.76C460.31,147.84 463.07,147.84 463.76,148.76C464.45,149.68 464.45,153.37 463.76,154.29C463.07,155.21 460.31,155.21 459.62,154.29C458.93,153.37 458.93,149.68 459.62,148.76Z" fill="#1466f0"/>
</g>
<path d="M386.5,202.59 L387.3,206.61 L388.5,211.12 L390,212.63 L392,210.62 L394.49,207.61 L396.99,205.4 L399.49,206.11 L402.49,208.61 L406.09,212.33 L407.79,214.23 L411.88,218.35 L415.28,222.46 L418.68,224.57 L421.48,225.87 L425.47,228.68 L429.57,230.69 L433.67,234.1 L437.77,236.81 L441.86,238.22 L445.96,238.22 L450.06,239.12 L455.45,240.92 L460.95,243.03 L467.75,243.73 L474.54,245.04 L481.44,246.44 L488.23,247.85 L495.03,249.86 L501.82,251.86 L508.62,253.17 L515.41,253.97 L522.31,254.47 L529.1,254.77 L536.4,255.07 L536.4,262.8 L386.5,262.8Z" fill="#9a9a9a"/>
<path d="M390.1,192.4C390.22,190.88 390.5,186.35 390.8,183.3C391.1,180.25 391.52,176 391.9,174.1C392.28,172.2 392.72,171.9 393.1,171.9C393.48,171.9 394,172.2 394.2,174.1C394.4,176 394.43,180.5 394.3,183.3C394.17,186.1 393.85,189.25 393.4,190.9C392.95,192.55 392.15,192.95 391.6,193.2C391.05,193.45 390.35,192.53 390.1,192.4" fill="none" stroke="#000" stroke-width="1.3" stroke-linecap="round" stroke-linejoin="round"/>
<path d="M395.4,205.4C395.48,204.25 395.57,200.15 395.9,198.5C396.23,196.85 396.9,195.63 397.4,195.5C397.9,195.37 398.55,196.05 398.9,197.7C399.25,199.35 399.4,204.12 399.5,205.4" fill="none" stroke="#000" stroke-width="1.3" stroke-linecap="round" stroke-linejoin="round"/>
<path d="M387,201C387.18,200.92 387.82,199.9 388.1,200.5C388.38,201.1 388.6,203.92 388.7,204.6" fill="none" stroke="#000" stroke-width="1.3" stroke-linecap="round" stroke-linejoin="round"/>
<path d="M412.6,219.1C412.98,217.7 414.13,213.5 414.9,210.7C415.67,207.9 416.43,205.1 417.2,202.3C417.97,199.5 418.82,196.18 419.5,193.9C420.18,191.62 420.73,189.57 421.3,188.6C421.87,187.63 422.48,187.47 422.9,188.1C423.32,188.73 423.55,190.53 423.8,192.4C424.05,194.27 424.05,197.65 424.4,199.3C424.75,200.95 425.2,201.8 425.9,202.3C426.6,202.8 427.77,202.55 428.6,202.3C429.43,202.05 429.93,200.67 430.9,200.8C431.87,200.93 433.25,201.7 434.4,203.1C435.55,204.5 437.03,207.48 437.8,209.2C438.57,210.92 439.18,212.38 439,213.4C438.82,214.42 437.47,214.62 436.7,215.3C435.93,215.98 435.12,216.12 434.4,217.5C433.68,218.88 433.1,221.57 432.4,223.6C431.7,225.63 430.57,228.68 430.2,229.7" fill="none" stroke="#000" stroke-width="1.4" stroke-linecap="round" stroke-linejoin="round"/>
<path d="M416.5,216.8C416.87,215.02 417.95,209.02 418.7,206.1C419.45,203.18 420.42,200.07 421,199.3C421.58,198.53 422.07,199.6 422.2,201.5C422.33,203.4 421.95,208.15 421.8,210.7C421.65,213.25 421.18,214.65 421.3,216.8C421.42,218.95 421.92,222.2 422.5,223.6C423.08,225 424.15,225.58 424.8,225.2C425.45,224.82 426.22,222.95 426.4,221.3C426.58,219.65 426.28,216.43 425.9,215.3C425.52,214.17 424.4,214.63 424.1,214.5" fill="none" stroke="#000" stroke-width="1.3" stroke-linecap="round" stroke-linejoin="round"/>
<path d="M428.6,229C428.68,226.97 428.83,220.23 429.1,216.8C429.37,213.37 429.77,210.13 430.2,208.4C430.63,206.67 431.3,206.15 431.7,206.4C432.1,206.65 432.6,207.92 432.6,209.9C432.6,211.88 432.05,215.63 431.7,218.3C431.35,220.97 430.7,224.63 430.5,225.9" fill="none" stroke="#000" stroke-width="1.3" stroke-linecap="round" stroke-linejoin="round"/>
<path d="M449.1,237C449.42,235.27 450.35,230.08 451,226.6C451.65,223.12 452.33,218.93 453,216.1C453.67,213.27 454.35,210.8 455,209.6C455.65,208.4 456.47,207.82 456.9,208.9C457.33,209.98 457.7,212.93 457.6,216.1C457.5,219.27 456.73,224.2 456.3,227.9C455.87,231.6 455.22,236.57 455,238.3" fill="none" stroke="#000" stroke-width="1.6" stroke-linecap="round" stroke-linejoin="round"/>
<path d="M452.3,240.3C452.63,238.45 453.63,232.8 454.3,229.2C454.97,225.6 455.65,221.75 456.3,218.7C456.95,215.65 457.55,212.1 458.2,210.9C458.85,209.7 459.93,209.55 460.2,211.5C460.47,213.45 460.08,219 459.8,222.6C459.52,226.2 458.93,230.15 458.5,233.1C458.07,236.05 457.42,239.1 457.2,240.3" fill="none" stroke="#000" stroke-width="1.6" stroke-linecap="round" stroke-linejoin="round"/>
<path d="M536,221C533.25,220.83 525.58,219.92 519.5,220C513.42,220.08 506.17,221.37 499.5,221.5C492.83,221.63 484.5,220.8 479.5,220.8C474.5,220.8 471.97,220.93 469.5,221.5C467.03,222.07 466.15,223.72 464.7,224.2C463.25,224.68 461.77,224.55 460.8,224.4C459.83,224.25 459.22,223.48 458.9,223.3" fill="none" stroke="#dc2020" stroke-width="1.7"/>
<path d="M536,228C533.25,227.83 525.58,227.08 519.5,227C513.42,226.92 505.33,227.67 499.5,227.5C493.67,227.33 488.5,226.17 484.5,226C480.5,225.83 477.7,226.18 475.5,226.5C473.3,226.82 473.3,226.8 471.3,227.9C469.3,229 465.35,231.92 463.5,233.1C461.65,234.28 461.2,234.68 460.2,235C459.2,235.32 457.95,235 457.5,235" fill="none" stroke="#dc2020" stroke-width="1.7"/>
<path d="M446.5,228.5C446.93,227.92 448.13,225.65 449.1,225C450.07,224.35 451.77,224.67 452.3,224.6" fill="none" stroke="#dc2020" stroke-width="1"/>
<ellipse cx="462.2" cy="202.3" rx="10.3" ry="17.9" transform="rotate(0 462.2 202.3)" fill="none" stroke="#ee22ee" stroke-width="1.5" stroke-dasharray="3.6 2.2"/>
<text x="504.1" y="223.3" font-size="5" font-family="Liberation Sans, Arial, sans-serif" fill="#222" stroke="#fff" stroke-width="1.4" paint-order="stroke" text-anchor="middle">305</text>
<text x="487.1" y="228.3" font-size="5" font-family="Liberation Sans, Arial, sans-serif" fill="#222" stroke="#fff" stroke-width="1.4" paint-order="stroke" text-anchor="middle">304</text>
<text x="457.5" y="204.3" font-size="4.2" font-family="Liberation Sans, Arial, sans-serif" fill="#222" stroke="#fff" stroke-width="1.4" paint-order="stroke" text-anchor="middle">50</text>
<text x="429.5" y="197.8" font-size="4.2" font-family="Liberation Sans, Arial, sans-serif" fill="#222" stroke="#fff" stroke-width="1.4" paint-order="stroke" text-anchor="middle">50</text>
</g>
<rect x="386.5" y="146.4" width="149.9" height="116.4" fill="none" stroke="#777" stroke-width="0.8"/>
<rect x="386.5" y="146.4" width="32.3" height="14.6" fill="#fff" stroke="#777" stroke-width="0.6"/>
<text x="388.4" y="158.1" font-size="11.4" font-family="Liberation Serif, Times New Roman, serif" fill="#111" stroke="#111" stroke-width="0.25">MPV2</text>
<rect x="386.5" y="249.2" width="63.4" height="13.6" fill="#fff" stroke="#777" stroke-width="0.6"/>
<text x="388.8" y="259.2" font-size="10.5" font-family="Liberation Serif, Times New Roman, serif" fill="#111" stroke="#111" stroke-width="0.2">(h) 0400 UTC</text>
<text x="385.4" y="259.4" font-size="11.8" font-weight="bold" font-family="Liberation Serif, Times New Roman, serif" fill="#000" text-anchor="end">A</text>
<text x="538" y="259.4" font-size="11.8" font-weight="bold" font-family="Liberation Serif, Times New Roman, serif" fill="#000">B</text>
<line x1="384.5" y1="262.8" x2="388" y2="262.8" stroke="#777" stroke-width="0.6"/>
<text x="380.2" y="265" font-size="6" font-family="Liberation Sans, Arial, sans-serif" fill="#333" text-anchor="middle">1</text>
<line x1="384.5" y1="239.52" x2="388" y2="239.52" stroke="#777" stroke-width="0.6"/>
<text x="380.2" y="241.72" font-size="6" font-family="Liberation Sans, Arial, sans-serif" fill="#333" text-anchor="middle">2</text>
<line x1="384.5" y1="216.24" x2="388" y2="216.24" stroke="#777" stroke-width="0.6"/>
<text x="380.2" y="218.44" font-size="6" font-family="Liberation Sans, Arial, sans-serif" fill="#333" text-anchor="middle">3</text>
<line x1="384.5" y1="192.96" x2="388" y2="192.96" stroke="#777" stroke-width="0.6"/>
<text x="380.2" y="195.16" font-size="6" font-family="Liberation Sans, Arial, sans-serif" fill="#333" text-anchor="middle">4</text>
<line x1="384.5" y1="169.68" x2="388" y2="169.68" stroke="#777" stroke-width="0.6"/>
<text x="380.2" y="171.88" font-size="6" font-family="Liberation Sans, Arial, sans-serif" fill="#333" text-anchor="middle">5</text>
<line x1="384.5" y1="146.4" x2="388" y2="146.4" stroke="#777" stroke-width="0.6"/>
<text x="380.2" y="148.6" font-size="6" font-family="Liberation Sans, Arial, sans-serif" fill="#333" text-anchor="middle">6</text>
<text x="0" y="0" font-size="6.2" font-family="Liberation Sans, Arial, sans-serif" fill="#111" stroke="#111" stroke-width="0.1" text-anchor="middle" transform="translate(372.5 204.6) rotate(-90)">Height ASL (km)</text>
<text font-size="4.8" font-family="Liberation Sans, Arial, sans-serif" fill="#222" text-anchor="middle"><tspan x="386.5" y="273">78.68° E,</tspan><tspan x="386.5" y="278.2">36.80° N</tspan></text>
<line x1="436.47" y1="261.3" x2="436.47" y2="264.3" stroke="#777" stroke-width="0.6"/>
<text font-size="4.8" font-family="Liberation Sans, Arial, sans-serif" fill="#222" text-anchor="middle"><tspan x="436.47" y="273">78.56° E,</tspan><tspan x="436.47" y="278.2">37.07° N</tspan></text>
<line x1="486.43" y1="261.3" x2="486.43" y2="264.3" stroke="#777" stroke-width="0.6"/>
<text font-size="4.8" font-family="Liberation Sans, Arial, sans-serif" fill="#222" text-anchor="middle"><tspan x="486.43" y="273">78.45° E,</tspan><tspan x="486.43" y="278.2">37.35° N</tspan></text>
<text font-size="4.8" font-family="Liberation Sans, Arial, sans-serif" fill="#222" text-anchor="middle"><tspan x="536.4" y="273">78.33° E,</tspan><tspan x="536.4" y="278.2">37.62° N</tspan></text>
<g clip-path="url(#cp22)">
<g filter="url(#bl)">
<path d="M384.64,301.32C390.32,300.52 413.05,300.75 418.73,301.32C424.41,301.89 424.41,303.93 418.73,304.73C413.05,305.52 390.32,306.66 384.64,306.09C378.95,305.52 378.95,302.11 384.64,301.32Z" fill="#a0e6f7"/>
<path d="M384.64,338.82C385.32,337.91 388.05,337.91 388.73,338.82C389.41,339.73 389.41,343.36 388.73,344.27C388.05,345.18 385.32,345.18 384.64,344.27C383.95,343.36 383.95,339.73 384.64,338.82Z" fill="#a0e6f7"/>
<path d="M513.51,285.62C515.12,280.78 521.57,280.78 523.18,285.62C524.79,290.45 524.79,309.8 523.18,314.64C521.57,319.47 515.12,319.47 513.51,314.64C511.9,309.8 511.9,290.45 513.51,285.62Z" fill="#a0e6f7"/>
<path d="M495.55,339.51C497.16,338.13 503.61,338.13 505.22,339.51C506.83,340.89 506.83,346.42 505.22,347.8C503.61,349.18 497.16,349.18 495.55,347.8C493.93,346.42 493.93,340.89 495.55,339.51Z" fill="#a0e6f7"/>
<path d="M502.45,369.87C507.06,366.65 525.48,366.65 530.09,369.87C534.7,373.1 534.7,385.99 530.09,389.22C525.48,392.44 507.06,392.44 502.45,389.22C497.85,385.99 497.85,373.1 502.45,369.87Z" fill="#a0e6f7"/>
<path d="M505.22,372.64C508.44,370.56 523.87,369.41 527.33,371.25C530.78,373.1 529.17,381.62 525.95,383.69C522.72,385.76 511.44,385.53 507.98,383.69C504.53,381.85 501.99,374.71 505.22,372.64Z" fill="#a0e6f7"/>
<path d="M394.18,304.73C395.32,302.45 399.64,301.77 401,303.36C402.36,304.95 402.59,310.64 402.36,314.27C402.14,317.91 400.55,322.23 399.64,325.18C398.73,328.14 397.93,331.09 396.91,332C395.89,332.91 393.95,333.14 393.5,330.64C393.05,328.14 394.07,321.32 394.18,317C394.3,312.68 393.05,307 394.18,304.73Z" fill="#6cd4f3"/>
<path d="M402.36,303.36C404.64,301.32 413.5,300.18 416,302C418.5,303.82 417.82,310.86 417.36,314.27C416.91,317.68 414.64,320.18 413.27,322.45C411.91,324.73 410.77,327.45 409.18,327.91C407.59,328.36 404.86,327.45 403.73,325.18C402.59,322.91 402.59,317.91 402.36,314.27C402.14,310.64 400.09,305.41 402.36,303.36Z" fill="#6cd4f3"/>
<path d="M432.36,307.45C432.82,305.64 435.55,305.86 436.45,307.45C437.36,309.05 438.27,315.18 437.82,317C437.36,318.82 434.64,319.95 433.73,318.36C432.82,316.77 431.91,309.27 432.36,307.45Z" fill="#6cd4f3"/>
<path d="M446,314.27C447.59,312 452.36,312 454.18,314.27C456,316.55 456.68,322.45 456.91,327.91C457.14,333.36 457.36,343.82 455.55,347C453.73,350.18 447.82,350.18 446,347C444.18,343.82 444.64,333.36 444.64,327.91C444.64,322.45 444.41,316.55 446,314.27Z" fill="#6cd4f3"/>
<path d="M431,327.91C433.05,324.73 441,324.73 443.27,327.91C445.55,331.09 446.68,343.82 444.64,347C442.59,350.18 433.27,350.18 431,347C428.73,343.82 428.95,331.09 431,327.91Z" fill="#6cd4f3"/>
<path d="M436.45,285.64C437.02,284.05 439.86,284.05 440.55,285.64C441.23,287.23 441.11,293.59 440.55,295.18C439.98,296.77 437.82,296.77 437.14,295.18C436.45,293.59 435.89,287.23 436.45,285.64Z" fill="#6cd4f3"/>
<path d="M462.38,285.62C463.76,281.47 469.29,281.93 470.67,285.62C472.05,289.3 470.9,303.12 470.67,307.73C470.44,312.33 470.21,312.1 469.29,313.25C468.37,314.41 466.3,315.1 465.15,314.64C463.99,314.18 462.84,315.33 462.38,310.49C461.92,305.65 461,289.76 462.38,285.62Z" fill="#6cd4f3"/>
<path d="M478.96,285.62C480.58,283.08 487.02,281.24 488.64,285.62C490.25,289.99 489.33,307.27 488.64,311.87C487.95,316.48 485.87,313.25 484.49,313.25C483.11,313.25 481.27,313.95 480.35,311.87C479.42,309.8 479.19,305.19 478.96,300.82C478.73,296.44 477.35,288.15 478.96,285.62Z" fill="#6cd4f3"/>
<path d="M490.02,285.62C491.86,283.55 499.23,282.62 501.07,285.62C502.92,288.61 501.53,299.44 501.07,303.58C500.61,307.73 499.46,309.11 498.31,310.49C497.16,311.87 495.43,312.33 494.16,311.87C492.9,311.41 491.4,310.03 490.71,307.73C490.02,305.42 490.13,301.74 490.02,298.05C489.9,294.37 488.18,287.69 490.02,285.62Z" fill="#6cd4f3"/>
<path d="M505.22,285.62C506.37,283.08 510.98,283.08 512.13,285.62C513.28,288.15 512.59,296.44 512.13,300.82C511.67,305.19 510.28,310.03 509.36,311.87C508.44,313.72 507.29,313.72 506.6,311.87C505.91,310.03 505.45,305.19 505.22,300.82C504.99,296.44 504.07,288.15 505.22,285.62Z" fill="#6cd4f3"/>
<path d="M525.95,299.44C527.21,298.28 531.47,298.75 532.85,300.82C534.24,302.89 534.47,308.88 534.24,311.87C534.01,314.87 532.62,317.86 531.47,318.78C530.32,319.7 528.36,319.24 527.33,317.4C526.29,315.56 525.48,310.72 525.25,307.73C525.02,304.73 524.68,300.59 525.95,299.44Z" fill="#6cd4f3"/>
<path d="M487.25,322.93C488.52,322.01 492.55,322.01 494.16,322.93C495.78,323.85 494.85,327.53 496.93,328.45C499,329.38 503.61,328.22 506.6,328.45C509.59,328.68 513.51,328.68 514.89,329.84C516.27,330.99 516.27,334.44 514.89,335.36C513.51,336.28 509.59,335.59 506.6,335.36C503.61,335.13 499.92,334.44 496.93,333.98C493.93,333.52 490.36,333.52 488.64,332.6C486.91,331.68 486.79,330.07 486.56,328.45C486.33,326.84 485.99,323.85 487.25,322.93Z" fill="#6cd4f3"/>
<path d="M469.29,338.13C470.9,336.28 475.51,336.52 477.58,336.75C479.65,336.98 480.58,337.67 481.73,339.51C482.88,341.35 486.79,346.42 484.49,347.8C482.19,349.18 470.44,349.41 467.91,347.8C465.38,346.19 467.68,339.97 469.29,338.13Z" fill="#6cd4f3"/>
<path d="M521.8,332.6C522.49,330.07 525.14,330.07 525.95,332.6C526.75,335.13 527.33,345.27 526.64,347.8C525.95,350.33 522.61,350.33 521.8,347.8C520.99,345.27 521.11,335.13 521.8,332.6Z" fill="#6cd4f3"/>
<path d="M384.64,343.64C385.77,342.05 390.32,342.05 391.45,343.64C392.59,345.23 392.59,351.59 391.45,353.18C390.32,354.77 385.77,354.77 384.64,353.18C383.5,351.59 383.5,345.23 384.64,343.64Z" fill="#6cd4f3"/>
<path d="M422.82,365.45C424.41,364.55 430.77,364.77 433.73,365.45C436.68,366.14 438.95,367.5 440.55,369.55C442.14,371.59 443.73,376.14 443.27,377.73C442.82,379.32 440.09,379.55 437.82,379.09C435.55,378.64 431.91,376.36 429.64,375C427.36,373.64 425.32,372.5 424.18,370.91C423.05,369.32 421.23,366.36 422.82,365.45Z" fill="#6cd4f3"/>
<path d="M443.27,343.64C446.23,341.14 459.18,341.59 462.36,343.64C465.55,345.68 464.18,353.18 462.36,355.91C460.55,358.64 454.41,359.55 451.45,360C448.5,360.45 446,361.36 444.64,358.64C443.27,355.91 440.32,346.14 443.27,343.64Z" fill="#6cd4f3"/>
<path d="M446,362.73C448.73,361.82 459.64,361.82 462.36,362.73C465.09,363.64 465.09,367.27 462.36,368.18C459.64,369.09 448.73,369.09 446,368.18C443.27,367.27 443.27,363.64 446,362.73Z" fill="#6cd4f3"/>
<path d="M454.18,376.36C455.55,375.45 461,375.45 462.36,376.36C463.73,377.27 463.73,380.91 462.36,381.82C461,382.73 455.55,382.73 454.18,381.82C452.82,380.91 452.82,377.27 454.18,376.36Z" fill="#6cd4f3"/>
<path d="M459.62,343.62C466.76,341.78 495.32,341.78 502.45,343.62C509.59,345.46 503.61,352.37 502.45,354.67C501.3,356.98 499,356.75 495.55,357.44C492.09,358.13 486.33,359.05 481.73,358.82C477.12,358.59 471.59,356.75 467.91,356.05C464.22,355.36 461,356.75 459.62,354.67C458.24,352.6 452.48,345.46 459.62,343.62Z" fill="#6cd4f3"/>
<path d="M503.84,343.62C509.59,342.01 532.62,340.16 538.38,343.62C544.14,347.07 540.92,361.12 538.38,364.35C535.85,367.57 528.48,363.42 523.18,362.96C517.88,362.5 509.82,363.19 506.6,361.58C503.38,359.97 504.3,356.28 503.84,353.29C503.38,350.3 498.08,345.23 503.84,343.62Z" fill="#6cd4f3"/>
<path d="M459.62,367.11C461,364.58 466.3,364.81 467.91,367.11C469.52,369.41 470.67,378.39 469.29,380.93C467.91,383.46 461.23,384.61 459.62,382.31C458.01,380.01 458.24,369.64 459.62,367.11Z" fill="#6cd4f3"/>
<path d="M507.98,375.4C509.13,374.48 513.74,374.48 514.89,375.4C516.04,376.32 516.04,380.01 514.89,380.93C513.74,381.85 509.13,381.85 507.98,380.93C506.83,380.01 506.83,376.32 507.98,375.4Z" fill="#6cd4f3"/>
<path d="M519.04,374.02C519.96,372.87 523.64,372.87 524.56,374.02C525.48,375.17 525.48,379.78 524.56,380.93C523.64,382.08 519.96,382.08 519.04,380.93C518.12,379.78 518.12,375.17 519.04,374.02Z" fill="#6cd4f3"/>
<path d="M523.18,391.98C524.1,391.52 527.79,391.52 528.71,391.98C529.63,392.44 529.63,394.28 528.71,394.75C527.79,395.21 524.1,395.21 523.18,394.75C522.26,394.28 522.26,392.44 523.18,391.98Z" fill="#6cd4f3"/>
<path d="M395.55,307.45C396.3,305.18 399.52,305.18 400.32,307.45C401.11,309.73 401.07,318.82 400.32,321.09C399.57,323.36 396.61,323.36 395.82,321.09C395.02,318.82 394.8,309.73 395.55,307.45Z" fill="#34c0ef"/>
<path d="M403.73,307.45C405.32,305.18 411.68,305.18 413.27,307.45C414.86,309.73 414.86,318.82 413.27,321.09C411.68,323.36 405.32,323.36 403.73,321.09C402.14,318.82 402.14,309.73 403.73,307.45Z" fill="#34c0ef"/>
<path d="M422.82,285.64C424.52,282 430.55,283.59 432.36,285.64C434.18,287.68 433.95,294.27 433.73,297.91C433.5,301.55 431.45,303.59 431,307.45C430.55,311.32 431.23,317 431,321.09C430.77,325.18 430.55,330.18 429.64,332C428.73,333.82 426.68,333.82 425.55,332C424.41,330.18 423.39,325.18 422.82,321.09C422.25,317 422.14,313.36 422.14,307.45C422.14,301.55 421.11,289.27 422.82,285.64Z" fill="#34c0ef"/>
<path d="M443.27,285.64C445.32,283.14 453.27,283.14 455.55,285.64C457.82,288.14 457.14,296.32 456.91,300.64C456.68,304.95 455.55,308.14 454.18,311.55C452.82,314.95 450.09,320.64 448.73,321.09C447.36,321.55 446.91,317.68 446,314.27C445.09,310.86 443.73,305.41 443.27,300.64C442.82,295.86 441.23,288.14 443.27,285.64Z" fill="#34c0ef"/>
<path d="M447.36,322.45C448.5,319.27 453.05,319.27 454.18,322.45C455.32,325.64 455.32,338.36 454.18,341.55C453.05,344.73 448.5,344.73 447.36,341.55C446.23,338.36 446.23,325.64 447.36,322.45Z" fill="#34c0ef"/>
<path d="M432.36,332C433.95,329.73 440.32,329.73 441.91,332C443.5,334.27 443.5,343.36 441.91,345.64C440.32,347.91 433.95,347.91 432.36,345.64C430.77,343.36 430.77,334.27 432.36,332Z" fill="#34c0ef"/>
<path d="M527.33,303.58C528.09,301.74 531.36,301.74 532.16,303.58C532.97,305.42 532.92,312.79 532.16,314.64C531.4,316.48 528.41,316.48 527.6,314.64C526.8,312.79 526.57,305.42 527.33,303.58Z" fill="#34c0ef"/>
<path d="M488.64,325.69C489.56,324.77 493.24,324.77 494.16,325.69C495.08,326.61 495.08,330.3 494.16,331.22C493.24,332.14 489.56,332.14 488.64,331.22C487.72,330.3 487.72,326.61 488.64,325.69Z" fill="#34c0ef"/>
<path d="M503.84,329.84C504.99,329.03 509.59,329.03 510.75,329.84C511.9,330.64 511.9,333.87 510.75,334.67C509.59,335.48 504.99,335.48 503.84,334.67C502.68,333.87 502.68,330.64 503.84,329.84Z" fill="#34c0ef"/>
<path d="M472.05,340.89C473.44,339.74 478.96,339.74 480.35,340.89C481.73,342.04 481.73,346.65 480.35,347.8C478.96,348.95 473.44,348.95 472.05,347.8C470.67,346.65 470.67,342.04 472.05,340.89Z" fill="#34c0ef"/>
<path d="M425.55,343.64C427.36,341.36 437.82,342.05 440.55,343.64C443.27,345.23 442.36,350.68 441.91,353.18C441.45,355.68 439.86,357.95 437.82,358.64C435.77,359.32 431.68,359.77 429.64,357.27C427.59,354.77 423.73,345.91 425.55,343.64Z" fill="#34c0ef"/>
<path d="M426.91,366.82C428.73,365.68 436,365.23 437.82,366.82C439.64,368.41 439.64,375.23 437.82,376.36C436,377.5 428.73,375.23 426.91,373.64C425.09,372.05 425.09,367.95 426.91,366.82Z" fill="#34c0ef"/>
<path d="M446,347.73C448.05,346.36 456.23,346.36 458.27,347.73C460.32,349.09 460.32,354.55 458.27,355.91C456.23,357.27 448.05,357.27 446,355.91C443.95,354.55 443.95,349.09 446,347.73Z" fill="#34c0ef"/>
<path d="M459.62,347.76C461.69,346.61 469.98,346.61 472.05,347.76C474.13,348.92 474.13,353.52 472.05,354.67C469.98,355.82 461.69,355.82 459.62,354.67C457.55,353.52 457.55,348.92 459.62,347.76Z" fill="#34c0ef"/>
<path d="M485.87,346.38C488.18,345 497.39,345 499.69,346.38C501.99,347.76 501.99,353.29 499.69,354.67C497.39,356.05 488.18,356.05 485.87,354.67C483.57,353.29 483.57,347.76 485.87,346.38Z" fill="#34c0ef"/>
<path d="M505.22,350.53C506.6,348.92 512.13,348.92 513.51,350.53C514.89,352.14 514.89,358.59 513.51,360.2C512.13,361.81 506.6,361.81 505.22,360.2C503.84,358.59 503.84,352.14 505.22,350.53Z" fill="#34c0ef"/>
<path d="M519.04,349.15C520.42,347.07 525.95,347.07 527.33,349.15C528.71,351.22 528.71,359.51 527.33,361.58C525.95,363.65 520.42,363.65 519.04,361.58C517.65,359.51 517.65,351.22 519.04,349.15Z" fill="#34c0ef"/>
<path d="M424.18,291.09C425.32,289.05 429.86,289.05 431,291.09C432.14,293.14 432.14,301.32 431,303.36C429.86,305.41 425.32,305.41 424.18,303.36C423.05,301.32 423.05,293.14 424.18,291.09Z" fill="#18aaea"/>
<path d="M446,293.82C447.14,292.23 451.68,292.23 452.82,293.82C453.95,295.41 453.95,301.77 452.82,303.36C451.68,304.95 447.14,304.95 446,303.36C444.86,301.77 444.86,295.41 446,293.82Z" fill="#1490ee"/>
<path d="M447.36,296.55C447.93,295.86 450.2,295.86 450.77,296.55C451.34,297.23 451.34,299.95 450.77,300.64C450.2,301.32 447.93,301.32 447.36,300.64C446.8,299.95 446.8,297.23 447.36,296.55Z" fill="#1466f0"/>
</g>
<path d="M386.4,343.47 L387.2,347.53 L388.41,352.11 L389.92,353.64 L391.93,351.6 L394.45,348.55 L396.96,346.31 L399.48,347.03 L402.5,349.57 L406.12,353.33 L407.83,355.27 L411.95,359.44 L415.37,363.61 L418.79,365.74 L421.61,367.07 L425.63,369.91 L429.76,371.95 L433.88,375.41 L438.01,378.15 L442.13,379.58 L446.26,379.58 L450.38,380.49 L455.81,382.32 L461.35,384.46 L468.19,385.17 L475.03,386.49 L481.97,387.92 L488.81,389.34 L495.65,391.38 L502.49,393.41 L509.33,394.73 L516.17,395.55 L523.12,396.06 L529.96,396.36 L537.3,396.67 L537.3,404.5 L386.4,404.5Z" fill="#9a9a9a"/>
<path d="M404.1,348.7C404.53,347.62 405.73,343.5 406.7,342.2C407.67,340.9 408.92,341.77 409.9,340.9C410.88,340.03 411.62,338.53 412.6,337C413.58,335.47 414.93,332.9 415.8,331.7C416.67,330.5 417.25,329.9 417.8,329.8C418.35,329.7 418.78,329.9 419.1,331.1C419.42,332.3 419.7,334.5 419.7,337C419.7,339.5 419.32,343.28 419.1,346.1C418.88,348.92 418.62,351.28 418.4,353.9C418.18,356.52 418.02,360.05 417.8,361.8C417.58,363.55 417.22,363.97 417.1,364.4" fill="none" stroke="#000" stroke-width="1.5" stroke-linecap="round" stroke-linejoin="round"/>
<path d="M405.4,351.3C405.72,350.77 406.55,348.75 407.3,348.1C408.05,347.45 409.02,347.95 409.9,347.4C410.78,346.85 411.72,346.32 412.6,344.8C413.48,343.28 414.45,340.03 415.2,338.3C415.95,336.57 416.57,334.83 417.1,334.4C417.63,333.97 418.28,333.75 418.4,335.7C418.52,337.65 418.08,342.62 417.8,346.1C417.52,349.58 416.97,353.77 416.7,356.6C416.43,359.43 416.28,362.02 416.2,363.1" fill="none" stroke="#000" stroke-width="1.3" stroke-linecap="round" stroke-linejoin="round"/>
<path d="M423,363.1C423.33,361.13 424.35,355 425,351.3C425.65,347.6 426.25,343.93 426.9,340.9C427.55,337.87 428.25,335.07 428.9,333.1C429.55,331.13 430.15,329.65 430.8,329.1C431.45,328.55 432.25,329.37 432.8,329.8C433.35,330.23 433.33,331.27 434.1,331.7C434.87,332.13 436.42,331.95 437.4,332.4C438.38,332.85 439.25,333.2 440,334.4C440.75,335.6 441.37,337.22 441.9,339.6C442.43,341.98 442.87,345.43 443.2,348.7C443.53,351.97 443.9,355.72 443.9,359.2C443.9,362.68 443.63,366.78 443.2,369.6C442.77,372.42 442.05,374.68 441.3,376.1C440.55,377.52 439.13,377.77 438.7,378.1" fill="none" stroke="#000" stroke-width="1.5" stroke-linecap="round" stroke-linejoin="round"/>
<path d="M425,363.1C425.22,361.35 425.77,356.08 426.3,352.6C426.83,349.12 427.55,345.02 428.2,342.2C428.85,339.38 429.65,337 430.2,335.7C430.75,334.4 431.07,334.18 431.5,334.4C431.93,334.62 432.15,336.47 432.8,337C433.45,337.53 434.53,337.17 435.4,337.6C436.27,338.03 437.23,338.18 438,339.6C438.77,341.02 439.5,343.27 440,346.1C440.5,348.93 440.9,353.12 441,356.6C441.1,360.08 440.88,363.97 440.6,367C440.32,370.03 439.83,373.07 439.3,374.8C438.77,376.53 437.72,376.97 437.4,377.4" fill="none" stroke="#000" stroke-width="1.3" stroke-linecap="round" stroke-linejoin="round"/>
<path d="M430.8,357.9C430.92,356.8 431.17,353.05 431.5,351.3C431.83,349.55 432.27,348.48 432.8,347.4C433.33,346.32 434.05,345.12 434.7,344.8C435.35,344.48 436.03,344.63 436.7,345.5C437.37,346.37 438.27,347.72 438.7,350C439.13,352.28 439.3,355.93 439.3,359.2C439.3,362.47 439.02,366.78 438.7,369.6C438.38,372.42 437.62,375.02 437.4,376.1" fill="none" stroke="#000" stroke-width="1.3" stroke-linecap="round" stroke-linejoin="round"/>
<path d="M426.3,364.4C426.52,362.67 427.07,357.48 427.6,354C428.13,350.52 429.18,345.25 429.5,343.5" fill="none" stroke="#000" stroke-width="1.3" stroke-linecap="round" stroke-linejoin="round"/>
<path d="M424.3,364.4C426.83,364.33 435.3,364.15 439.5,364C443.7,363.85 446,363.6 449.5,363.5C453,363.4 457.3,363.35 460.5,363.4C463.7,363.45 465.97,363.92 468.7,363.8C471.43,363.68 473.72,363.07 476.9,362.7C480.08,362.33 484.62,361.93 487.8,361.6C490.98,361.27 493.28,360.55 496,360.7C498.72,360.85 500.93,362.05 504.1,362.5C507.27,362.95 511.35,363.13 515,363.4C518.65,363.67 522.42,363.93 526,364.1C529.58,364.27 534.75,364.35 536.5,364.4" fill="none" stroke="#dc2020" stroke-width="1.7"/>
<path d="M536.5,366.8C534.07,366.75 525.93,366.62 521.9,366.5C517.87,366.38 515.72,366.23 512.3,366.1C508.88,365.97 504.58,365.7 501.4,365.7C498.22,365.7 495.7,365.8 493.2,366.1C490.7,366.4 488.43,366.93 486.4,367.5C484.37,368.07 483.05,369.27 481,369.5C478.95,369.73 476.15,368.67 474.1,368.9C472.05,369.13 469.95,369.65 468.7,370.9C467.45,372.15 466.6,374.58 466.6,376.4C466.6,378.22 467.45,380.45 468.7,381.8C469.95,383.15 472.05,383.7 474.1,384.5C476.15,385.3 479.4,386.13 481,386.6C482.6,387.07 483.25,387.18 483.7,387.3" fill="none" stroke="#dc2020" stroke-width="1.7"/>
<ellipse cx="445.5" cy="350" rx="6.5" ry="10.5" transform="rotate(0 445.5 350)" fill="none" stroke="#ee22ee" stroke-width="1.5" stroke-dasharray="3.6 2.2"/>
<text x="500" y="362.3" font-size="5" font-family="Liberation Sans, Arial, sans-serif" fill="#222" stroke="#fff" stroke-width="1.4" paint-order="stroke" text-anchor="middle">305</text>
<text x="484.5" y="369.8" font-size="5" font-family="Liberation Sans, Arial, sans-serif" fill="#222" stroke="#fff" stroke-width="1.4" paint-order="stroke" text-anchor="middle">304</text>
<text x="432.8" y="330.3" font-size="4.2" font-family="Liberation Sans, Arial, sans-serif" fill="#222" stroke="#fff" stroke-width="1.4" paint-order="stroke" text-anchor="middle">50</text>
<text x="433.2" y="349.8" font-size="4.2" font-family="Liberation Sans, Arial, sans-serif" fill="#222" stroke="#fff" stroke-width="1.4" paint-order="stroke" text-anchor="middle">50</text>
</g>
<rect x="386.4" y="286.5" width="150.9" height="118" fill="none" stroke="#777" stroke-width="0.8"/>
<rect x="386.4" y="286.5" width="32.3" height="14.6" fill="#fff" stroke="#777" stroke-width="0.6"/>
<text x="388.3" y="298.2" font-size="11.4" font-family="Liberation Serif, Times New Roman, serif" fill="#111" stroke="#111" stroke-width="0.25">MPV2</text>
<rect x="386.4" y="390.9" width="63.4" height="13.6" fill="#fff" stroke="#777" stroke-width="0.6"/>
<text x="388.7" y="400.9" font-size="10.5" font-family="Liberation Serif, Times New Roman, serif" fill="#111" stroke="#111" stroke-width="0.2">(i) 0430 UTC</text>
<text x="385.3" y="401.1" font-size="11.8" font-weight="bold" font-family="Liberation Serif, Times New Roman, serif" fill="#000" text-anchor="end">A</text>
<text x="538.9" y="401.1" font-size="11.8" font-weight="bold" font-family="Liberation Serif, Times New Roman, serif" fill="#000">B</text>
<line x1="384.4" y1="404.5" x2="387.9" y2="404.5" stroke="#777" stroke-width="0.6"/>
<text x="380.1" y="406.7" font-size="6" font-family="Liberation Sans, Arial, sans-serif" fill="#333" text-anchor="middle">1</text>
<line x1="384.4" y1="380.9" x2="387.9" y2="380.9" stroke="#777" stroke-width="0.6"/>
<text x="380.1" y="383.1" font-size="6" font-family="Liberation Sans, Arial, sans-serif" fill="#333" text-anchor="middle">2</text>
<line x1="384.4" y1="357.3" x2="387.9" y2="357.3" stroke="#777" stroke-width="0.6"/>
<text x="380.1" y="359.5" font-size="6" font-family="Liberation Sans, Arial, sans-serif" fill="#333" text-anchor="middle">3</text>
<line x1="384.4" y1="333.7" x2="387.9" y2="333.7" stroke="#777" stroke-width="0.6"/>
<text x="380.1" y="335.9" font-size="6" font-family="Liberation Sans, Arial, sans-serif" fill="#333" text-anchor="middle">4</text>
<line x1="384.4" y1="310.1" x2="387.9" y2="310.1" stroke="#777" stroke-width="0.6"/>
<text x="380.1" y="312.3" font-size="6" font-family="Liberation Sans, Arial, sans-serif" fill="#333" text-anchor="middle">5</text>
<line x1="384.4" y1="286.5" x2="387.9" y2="286.5" stroke="#777" stroke-width="0.6"/>
<text x="380.1" y="288.7" font-size="6" font-family="Liberation Sans, Arial, sans-serif" fill="#333" text-anchor="middle">6</text>
<text x="0" y="0" font-size="6.2" font-family="Liberation Sans, Arial, sans-serif" fill="#111" stroke="#111" stroke-width="0.1" text-anchor="middle" transform="translate(372.4 345.5) rotate(-90)">Height ASL (km)</text>
<text font-size="4.8" font-family="Liberation Sans, Arial, sans-serif" fill="#222" text-anchor="middle"><tspan x="386.4" y="414.7">78.68° E,</tspan><tspan x="386.4" y="419.9">36.80° N</tspan></text>
<line x1="436.7" y1="403" x2="436.7" y2="406" stroke="#777" stroke-width="0.6"/>
<text font-size="4.8" font-family="Liberation Sans, Arial, sans-serif" fill="#222" text-anchor="middle"><tspan x="436.7" y="414.7">78.56° E,</tspan><tspan x="436.7" y="419.9">37.07° N</tspan></text>
<line x1="487" y1="403" x2="487" y2="406" stroke="#777" stroke-width="0.6"/>
<text font-size="4.8" font-family="Liberation Sans, Arial, sans-serif" fill="#222" text-anchor="middle"><tspan x="487" y="414.7">78.45° E,</tspan><tspan x="487" y="419.9">37.35° N</tspan></text>
<text font-size="4.8" font-family="Liberation Sans, Arial, sans-serif" fill="#222" text-anchor="middle"><tspan x="537.3" y="414.7">78.33° E,</tspan><tspan x="537.3" y="419.9">37.62° N</tspan></text>
<rect x="161.7" y="440.5" width="26.03" height="8.1" fill="#2400c8"/>
<rect x="187.43" y="440.5" width="26.03" height="8.1" fill="#1c1cec"/>
<rect x="213.16" y="440.5" width="26.03" height="8.1" fill="#1460f0"/>
<rect x="238.89" y="440.5" width="26.03" height="8.1" fill="#1890f0"/>
<rect x="264.62" y="440.5" width="26.03" height="8.1" fill="#10b4f0"/>
<rect x="290.35" y="440.5" width="26.03" height="8.1" fill="#14d2f6"/>
<rect x="316.08" y="440.5" width="26.03" height="8.1" fill="#62e0f6"/>
<rect x="341.81" y="440.5" width="26.03" height="8.1" fill="#98ecf8"/>
<rect x="367.54" y="440.5" width="26.03" height="8.1" fill="#d4f8fc"/>
<rect x="393.27" y="440.5" width="26.03" height="8.1" fill="#ffffff"/>
<rect x="161.7" y="440.5" width="257.3" height="8.1" fill="none" stroke="#999" stroke-width="0.5"/>
<line x1="187.43" y1="440.5" x2="187.43" y2="448.6" stroke="#888" stroke-width="0.4"/>
<line x1="213.16" y1="440.5" x2="213.16" y2="448.6" stroke="#888" stroke-width="0.4"/>
<line x1="238.89" y1="440.5" x2="238.89" y2="448.6" stroke="#888" stroke-width="0.4"/>
<line x1="264.62" y1="440.5" x2="264.62" y2="448.6" stroke="#888" stroke-width="0.4"/>
<line x1="290.35" y1="440.5" x2="290.35" y2="448.6" stroke="#888" stroke-width="0.4"/>
<line x1="316.08" y1="440.5" x2="316.08" y2="448.6" stroke="#888" stroke-width="0.4"/>
<line x1="341.81" y1="440.5" x2="341.81" y2="448.6" stroke="#888" stroke-width="0.4"/>
<line x1="367.54" y1="440.5" x2="367.54" y2="448.6" stroke="#888" stroke-width="0.4"/>
<line x1="393.27" y1="440.5" x2="393.27" y2="448.6" stroke="#888" stroke-width="0.4"/>
<text x="187.43" y="456.5" font-size="7" font-family="Liberation Sans, Arial, sans-serif" fill="#222" text-anchor="middle">-12</text>
<text x="213.16" y="456.5" font-size="7" font-family="Liberation Sans, Arial, sans-serif" fill="#222" text-anchor="middle">-10</text>
<text x="238.89" y="456.5" font-size="7" font-family="Liberation Sans, Arial, sans-serif" fill="#222" text-anchor="middle">-8</text>
<text x="264.62" y="456.5" font-size="7" font-family="Liberation Sans, Arial, sans-serif" fill="#222" text-anchor="middle">-6</text>
<text x="290.35" y="456.5" font-size="7" font-family="Liberation Sans, Arial, sans-serif" fill="#222" text-anchor="middle">-4</text>
<text x="316.08" y="456.5" font-size="7" font-family="Liberation Sans, Arial, sans-serif" fill="#222" text-anchor="middle">-2</text>
<text x="341.81" y="456.5" font-size="7" font-family="Liberation Sans, Arial, sans-serif" fill="#222" text-anchor="middle">-0.6</text>
<text x="367.54" y="456.5" font-size="7" font-family="Liberation Sans, Arial, sans-serif" fill="#222" text-anchor="middle">-0.3</text>
<text x="393.27" y="456.5" font-size="7" font-family="Liberation Sans, Arial, sans-serif" fill="#222" text-anchor="middle">0</text>
<text x="425.6" y="450.6" font-size="11.5" font-family="Liberation Serif, Times New Roman, serif" fill="#222" stroke="#222" stroke-width="0.15">(PVU)</text>
</svg></body></html>
